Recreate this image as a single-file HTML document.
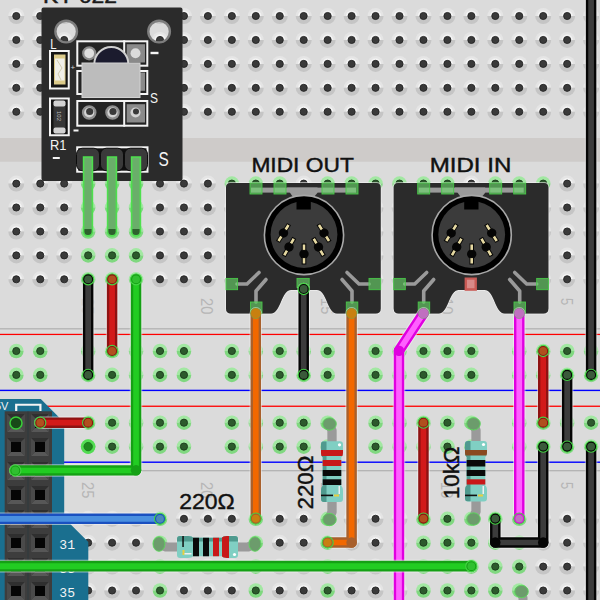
<!DOCTYPE html>
<html><head><meta charset="utf-8"><style>
html,body{margin:0;padding:0;width:600px;height:600px;overflow:hidden;background:#dbdbdb;}
svg{display:block;}
text{font-family:"Liberation Sans",sans-serif;}
</style></head><body>
<svg width="600" height="600" viewBox="0 0 600 600">
<rect x="0" y="0" width="600" height="600" fill="#dbdbdb"/>
<rect x="0" y="138" width="600" height="23.7" fill="#cecbc9"/>
<rect x="0" y="328.15" width="600" height="1.3" fill="#b2b2b2"/>
<rect x="0" y="333.8" width="600" height="1.25" fill="#ff0000"/>
<rect x="0" y="389.7" width="600" height="1.4" fill="#0000ff"/>
<rect x="0" y="405.6" width="600" height="1.3" fill="#ff0000"/>
<rect x="0" y="461.5" width="600" height="1.4" fill="#0000ff"/>
<rect x="0" y="470.05" width="600" height="1.3" fill="#b2b2b2"/>
<text x="0" y="0" transform="translate(81.5,298) rotate(90)" font-size="16.3" fill="#b6b6b6" textLength="16.3" lengthAdjust="spacingAndGlyphs">25</text>
<text x="0" y="0" transform="translate(201,298) rotate(90)" font-size="16.3" fill="#b6b6b6" textLength="16.3" lengthAdjust="spacingAndGlyphs">20</text>
<text x="0" y="0" transform="translate(321,298) rotate(90)" font-size="16.3" fill="#b6b6b6" textLength="16.3" lengthAdjust="spacingAndGlyphs">15</text>
<text x="0" y="0" transform="translate(441,298) rotate(90)" font-size="16.3" fill="#b6b6b6" textLength="16.3" lengthAdjust="spacingAndGlyphs">10</text>
<text x="0" y="0" transform="translate(560.5,298) rotate(90)" font-size="16.3" fill="#b6b6b6" textLength="7.2" lengthAdjust="spacingAndGlyphs">5</text>
<text x="0" y="0" transform="translate(81.5,482) rotate(90)" font-size="16.3" fill="#b6b6b6" textLength="16.3" lengthAdjust="spacingAndGlyphs">25</text>
<text x="0" y="0" transform="translate(201,482) rotate(90)" font-size="16.3" fill="#b6b6b6" textLength="16.3" lengthAdjust="spacingAndGlyphs">20</text>
<text x="0" y="0" transform="translate(321,482) rotate(90)" font-size="16.3" fill="#b6b6b6" textLength="16.3" lengthAdjust="spacingAndGlyphs">15</text>
<text x="0" y="0" transform="translate(441,482) rotate(90)" font-size="16.3" fill="#b6b6b6" textLength="16.3" lengthAdjust="spacingAndGlyphs">10</text>
<text x="0" y="0" transform="translate(560.5,482) rotate(90)" font-size="16.3" fill="#b6b6b6" textLength="7.2" lengthAdjust="spacingAndGlyphs">5</text>
<g transform="translate(16.3,16.0)"><path d="M-8,0 A8,8 0 0 1 8,0Z" fill="#e5e5e5"/><path d="M-5.6,0 A5.6,5.6 0 0 1 5.6,0Z" fill="#f4f4f4"/><path d="M-8,0 A8,8 0 0 0 8,0Z" fill="#c5c5c5"/><circle r="3.55" fill="#3a3a3a" stroke="#222" stroke-width="0.9"/></g>
<g transform="translate(40.25,16.0)"><path d="M-8,0 A8,8 0 0 1 8,0Z" fill="#e5e5e5"/><path d="M-5.6,0 A5.6,5.6 0 0 1 5.6,0Z" fill="#f4f4f4"/><path d="M-8,0 A8,8 0 0 0 8,0Z" fill="#c5c5c5"/><circle r="3.55" fill="#3a3a3a" stroke="#222" stroke-width="0.9"/></g>
<g transform="translate(64.2,16.0)"><path d="M-8,0 A8,8 0 0 1 8,0Z" fill="#e5e5e5"/><path d="M-5.6,0 A5.6,5.6 0 0 1 5.6,0Z" fill="#f4f4f4"/><path d="M-8,0 A8,8 0 0 0 8,0Z" fill="#c5c5c5"/><circle r="3.55" fill="#3a3a3a" stroke="#222" stroke-width="0.9"/></g>
<g transform="translate(88.15,16.0)"><path d="M-8,0 A8,8 0 0 1 8,0Z" fill="#e5e5e5"/><path d="M-5.6,0 A5.6,5.6 0 0 1 5.6,0Z" fill="#f4f4f4"/><path d="M-8,0 A8,8 0 0 0 8,0Z" fill="#c5c5c5"/><circle r="3.55" fill="#3a3a3a" stroke="#222" stroke-width="0.9"/></g>
<g transform="translate(112.1,16.0)"><path d="M-8,0 A8,8 0 0 1 8,0Z" fill="#e5e5e5"/><path d="M-5.6,0 A5.6,5.6 0 0 1 5.6,0Z" fill="#f4f4f4"/><path d="M-8,0 A8,8 0 0 0 8,0Z" fill="#c5c5c5"/><circle r="3.55" fill="#3a3a3a" stroke="#222" stroke-width="0.9"/></g>
<g transform="translate(136.05,16.0)"><path d="M-8,0 A8,8 0 0 1 8,0Z" fill="#e5e5e5"/><path d="M-5.6,0 A5.6,5.6 0 0 1 5.6,0Z" fill="#f4f4f4"/><path d="M-8,0 A8,8 0 0 0 8,0Z" fill="#c5c5c5"/><circle r="3.55" fill="#3a3a3a" stroke="#222" stroke-width="0.9"/></g>
<g transform="translate(160.0,16.0)"><path d="M-8,0 A8,8 0 0 1 8,0Z" fill="#e5e5e5"/><path d="M-5.6,0 A5.6,5.6 0 0 1 5.6,0Z" fill="#f4f4f4"/><path d="M-8,0 A8,8 0 0 0 8,0Z" fill="#c5c5c5"/><circle r="3.55" fill="#3a3a3a" stroke="#222" stroke-width="0.9"/></g>
<g transform="translate(183.95,16.0)"><path d="M-8,0 A8,8 0 0 1 8,0Z" fill="#e5e5e5"/><path d="M-5.6,0 A5.6,5.6 0 0 1 5.6,0Z" fill="#f4f4f4"/><path d="M-8,0 A8,8 0 0 0 8,0Z" fill="#c5c5c5"/><circle r="3.55" fill="#3a3a3a" stroke="#222" stroke-width="0.9"/></g>
<g transform="translate(207.9,16.0)"><path d="M-8,0 A8,8 0 0 1 8,0Z" fill="#e5e5e5"/><path d="M-5.6,0 A5.6,5.6 0 0 1 5.6,0Z" fill="#f4f4f4"/><path d="M-8,0 A8,8 0 0 0 8,0Z" fill="#c5c5c5"/><circle r="3.55" fill="#3a3a3a" stroke="#222" stroke-width="0.9"/></g>
<g transform="translate(231.85,16.0)"><path d="M-8,0 A8,8 0 0 1 8,0Z" fill="#e5e5e5"/><path d="M-5.6,0 A5.6,5.6 0 0 1 5.6,0Z" fill="#f4f4f4"/><path d="M-8,0 A8,8 0 0 0 8,0Z" fill="#c5c5c5"/><circle r="3.55" fill="#3a3a3a" stroke="#222" stroke-width="0.9"/></g>
<g transform="translate(255.8,16.0)"><path d="M-8,0 A8,8 0 0 1 8,0Z" fill="#e5e5e5"/><path d="M-5.6,0 A5.6,5.6 0 0 1 5.6,0Z" fill="#f4f4f4"/><path d="M-8,0 A8,8 0 0 0 8,0Z" fill="#c5c5c5"/><circle r="3.55" fill="#3a3a3a" stroke="#222" stroke-width="0.9"/></g>
<g transform="translate(279.75,16.0)"><path d="M-8,0 A8,8 0 0 1 8,0Z" fill="#e5e5e5"/><path d="M-5.6,0 A5.6,5.6 0 0 1 5.6,0Z" fill="#f4f4f4"/><path d="M-8,0 A8,8 0 0 0 8,0Z" fill="#c5c5c5"/><circle r="3.55" fill="#3a3a3a" stroke="#222" stroke-width="0.9"/></g>
<g transform="translate(303.7,16.0)"><path d="M-8,0 A8,8 0 0 1 8,0Z" fill="#e5e5e5"/><path d="M-5.6,0 A5.6,5.6 0 0 1 5.6,0Z" fill="#f4f4f4"/><path d="M-8,0 A8,8 0 0 0 8,0Z" fill="#c5c5c5"/><circle r="3.55" fill="#3a3a3a" stroke="#222" stroke-width="0.9"/></g>
<g transform="translate(327.65,16.0)"><path d="M-8,0 A8,8 0 0 1 8,0Z" fill="#e5e5e5"/><path d="M-5.6,0 A5.6,5.6 0 0 1 5.6,0Z" fill="#f4f4f4"/><path d="M-8,0 A8,8 0 0 0 8,0Z" fill="#c5c5c5"/><circle r="3.55" fill="#3a3a3a" stroke="#222" stroke-width="0.9"/></g>
<g transform="translate(351.6,16.0)"><path d="M-8,0 A8,8 0 0 1 8,0Z" fill="#e5e5e5"/><path d="M-5.6,0 A5.6,5.6 0 0 1 5.6,0Z" fill="#f4f4f4"/><path d="M-8,0 A8,8 0 0 0 8,0Z" fill="#c5c5c5"/><circle r="3.55" fill="#3a3a3a" stroke="#222" stroke-width="0.9"/></g>
<g transform="translate(375.55,16.0)"><path d="M-8,0 A8,8 0 0 1 8,0Z" fill="#e5e5e5"/><path d="M-5.6,0 A5.6,5.6 0 0 1 5.6,0Z" fill="#f4f4f4"/><path d="M-8,0 A8,8 0 0 0 8,0Z" fill="#c5c5c5"/><circle r="3.55" fill="#3a3a3a" stroke="#222" stroke-width="0.9"/></g>
<g transform="translate(399.5,16.0)"><path d="M-8,0 A8,8 0 0 1 8,0Z" fill="#e5e5e5"/><path d="M-5.6,0 A5.6,5.6 0 0 1 5.6,0Z" fill="#f4f4f4"/><path d="M-8,0 A8,8 0 0 0 8,0Z" fill="#c5c5c5"/><circle r="3.55" fill="#3a3a3a" stroke="#222" stroke-width="0.9"/></g>
<g transform="translate(423.45,16.0)"><path d="M-8,0 A8,8 0 0 1 8,0Z" fill="#e5e5e5"/><path d="M-5.6,0 A5.6,5.6 0 0 1 5.6,0Z" fill="#f4f4f4"/><path d="M-8,0 A8,8 0 0 0 8,0Z" fill="#c5c5c5"/><circle r="3.55" fill="#3a3a3a" stroke="#222" stroke-width="0.9"/></g>
<g transform="translate(447.4,16.0)"><path d="M-8,0 A8,8 0 0 1 8,0Z" fill="#e5e5e5"/><path d="M-5.6,0 A5.6,5.6 0 0 1 5.6,0Z" fill="#f4f4f4"/><path d="M-8,0 A8,8 0 0 0 8,0Z" fill="#c5c5c5"/><circle r="3.55" fill="#3a3a3a" stroke="#222" stroke-width="0.9"/></g>
<g transform="translate(471.35,16.0)"><path d="M-8,0 A8,8 0 0 1 8,0Z" fill="#e5e5e5"/><path d="M-5.6,0 A5.6,5.6 0 0 1 5.6,0Z" fill="#f4f4f4"/><path d="M-8,0 A8,8 0 0 0 8,0Z" fill="#c5c5c5"/><circle r="3.55" fill="#3a3a3a" stroke="#222" stroke-width="0.9"/></g>
<g transform="translate(495.3,16.0)"><path d="M-8,0 A8,8 0 0 1 8,0Z" fill="#e5e5e5"/><path d="M-5.6,0 A5.6,5.6 0 0 1 5.6,0Z" fill="#f4f4f4"/><path d="M-8,0 A8,8 0 0 0 8,0Z" fill="#c5c5c5"/><circle r="3.55" fill="#3a3a3a" stroke="#222" stroke-width="0.9"/></g>
<g transform="translate(519.25,16.0)"><path d="M-8,0 A8,8 0 0 1 8,0Z" fill="#e5e5e5"/><path d="M-5.6,0 A5.6,5.6 0 0 1 5.6,0Z" fill="#f4f4f4"/><path d="M-8,0 A8,8 0 0 0 8,0Z" fill="#c5c5c5"/><circle r="3.55" fill="#3a3a3a" stroke="#222" stroke-width="0.9"/></g>
<g transform="translate(543.2,16.0)"><path d="M-8,0 A8,8 0 0 1 8,0Z" fill="#e5e5e5"/><path d="M-5.6,0 A5.6,5.6 0 0 1 5.6,0Z" fill="#f4f4f4"/><path d="M-8,0 A8,8 0 0 0 8,0Z" fill="#c5c5c5"/><circle r="3.55" fill="#3a3a3a" stroke="#222" stroke-width="0.9"/></g>
<g transform="translate(567.15,16.0)"><path d="M-8,0 A8,8 0 0 1 8,0Z" fill="#e5e5e5"/><path d="M-5.6,0 A5.6,5.6 0 0 1 5.6,0Z" fill="#f4f4f4"/><path d="M-8,0 A8,8 0 0 0 8,0Z" fill="#c5c5c5"/><circle r="3.55" fill="#3a3a3a" stroke="#222" stroke-width="0.9"/></g>
<g transform="translate(591.1,16.0)"><path d="M-8,0 A8,8 0 0 1 8,0Z" fill="#e5e5e5"/><path d="M-5.6,0 A5.6,5.6 0 0 1 5.6,0Z" fill="#f4f4f4"/><path d="M-8,0 A8,8 0 0 0 8,0Z" fill="#c5c5c5"/><circle r="3.55" fill="#3a3a3a" stroke="#222" stroke-width="0.9"/></g>
<g transform="translate(16.3,39.95)"><path d="M-8,0 A8,8 0 0 1 8,0Z" fill="#e5e5e5"/><path d="M-5.6,0 A5.6,5.6 0 0 1 5.6,0Z" fill="#f4f4f4"/><path d="M-8,0 A8,8 0 0 0 8,0Z" fill="#c5c5c5"/><circle r="3.55" fill="#3a3a3a" stroke="#222" stroke-width="0.9"/></g>
<g transform="translate(40.25,39.95)"><path d="M-8,0 A8,8 0 0 1 8,0Z" fill="#e5e5e5"/><path d="M-5.6,0 A5.6,5.6 0 0 1 5.6,0Z" fill="#f4f4f4"/><path d="M-8,0 A8,8 0 0 0 8,0Z" fill="#c5c5c5"/><circle r="3.55" fill="#3a3a3a" stroke="#222" stroke-width="0.9"/></g>
<g transform="translate(64.2,39.95)"><path d="M-8,0 A8,8 0 0 1 8,0Z" fill="#e5e5e5"/><path d="M-5.6,0 A5.6,5.6 0 0 1 5.6,0Z" fill="#f4f4f4"/><path d="M-8,0 A8,8 0 0 0 8,0Z" fill="#c5c5c5"/><circle r="3.55" fill="#3a3a3a" stroke="#222" stroke-width="0.9"/></g>
<g transform="translate(88.15,39.95)"><path d="M-8,0 A8,8 0 0 1 8,0Z" fill="#e5e5e5"/><path d="M-5.6,0 A5.6,5.6 0 0 1 5.6,0Z" fill="#f4f4f4"/><path d="M-8,0 A8,8 0 0 0 8,0Z" fill="#c5c5c5"/><circle r="3.55" fill="#3a3a3a" stroke="#222" stroke-width="0.9"/></g>
<g transform="translate(112.1,39.95)"><path d="M-8,0 A8,8 0 0 1 8,0Z" fill="#e5e5e5"/><path d="M-5.6,0 A5.6,5.6 0 0 1 5.6,0Z" fill="#f4f4f4"/><path d="M-8,0 A8,8 0 0 0 8,0Z" fill="#c5c5c5"/><circle r="3.55" fill="#3a3a3a" stroke="#222" stroke-width="0.9"/></g>
<g transform="translate(136.05,39.95)"><path d="M-8,0 A8,8 0 0 1 8,0Z" fill="#e5e5e5"/><path d="M-5.6,0 A5.6,5.6 0 0 1 5.6,0Z" fill="#f4f4f4"/><path d="M-8,0 A8,8 0 0 0 8,0Z" fill="#c5c5c5"/><circle r="3.55" fill="#3a3a3a" stroke="#222" stroke-width="0.9"/></g>
<g transform="translate(160.0,39.95)"><path d="M-8,0 A8,8 0 0 1 8,0Z" fill="#e5e5e5"/><path d="M-5.6,0 A5.6,5.6 0 0 1 5.6,0Z" fill="#f4f4f4"/><path d="M-8,0 A8,8 0 0 0 8,0Z" fill="#c5c5c5"/><circle r="3.55" fill="#3a3a3a" stroke="#222" stroke-width="0.9"/></g>
<g transform="translate(183.95,39.95)"><path d="M-8,0 A8,8 0 0 1 8,0Z" fill="#e5e5e5"/><path d="M-5.6,0 A5.6,5.6 0 0 1 5.6,0Z" fill="#f4f4f4"/><path d="M-8,0 A8,8 0 0 0 8,0Z" fill="#c5c5c5"/><circle r="3.55" fill="#3a3a3a" stroke="#222" stroke-width="0.9"/></g>
<g transform="translate(207.9,39.95)"><path d="M-8,0 A8,8 0 0 1 8,0Z" fill="#e5e5e5"/><path d="M-5.6,0 A5.6,5.6 0 0 1 5.6,0Z" fill="#f4f4f4"/><path d="M-8,0 A8,8 0 0 0 8,0Z" fill="#c5c5c5"/><circle r="3.55" fill="#3a3a3a" stroke="#222" stroke-width="0.9"/></g>
<g transform="translate(231.85,39.95)"><path d="M-8,0 A8,8 0 0 1 8,0Z" fill="#e5e5e5"/><path d="M-5.6,0 A5.6,5.6 0 0 1 5.6,0Z" fill="#f4f4f4"/><path d="M-8,0 A8,8 0 0 0 8,0Z" fill="#c5c5c5"/><circle r="3.55" fill="#3a3a3a" stroke="#222" stroke-width="0.9"/></g>
<g transform="translate(255.8,39.95)"><path d="M-8,0 A8,8 0 0 1 8,0Z" fill="#e5e5e5"/><path d="M-5.6,0 A5.6,5.6 0 0 1 5.6,0Z" fill="#f4f4f4"/><path d="M-8,0 A8,8 0 0 0 8,0Z" fill="#c5c5c5"/><circle r="3.55" fill="#3a3a3a" stroke="#222" stroke-width="0.9"/></g>
<g transform="translate(279.75,39.95)"><path d="M-8,0 A8,8 0 0 1 8,0Z" fill="#e5e5e5"/><path d="M-5.6,0 A5.6,5.6 0 0 1 5.6,0Z" fill="#f4f4f4"/><path d="M-8,0 A8,8 0 0 0 8,0Z" fill="#c5c5c5"/><circle r="3.55" fill="#3a3a3a" stroke="#222" stroke-width="0.9"/></g>
<g transform="translate(303.7,39.95)"><path d="M-8,0 A8,8 0 0 1 8,0Z" fill="#e5e5e5"/><path d="M-5.6,0 A5.6,5.6 0 0 1 5.6,0Z" fill="#f4f4f4"/><path d="M-8,0 A8,8 0 0 0 8,0Z" fill="#c5c5c5"/><circle r="3.55" fill="#3a3a3a" stroke="#222" stroke-width="0.9"/></g>
<g transform="translate(327.65,39.95)"><path d="M-8,0 A8,8 0 0 1 8,0Z" fill="#e5e5e5"/><path d="M-5.6,0 A5.6,5.6 0 0 1 5.6,0Z" fill="#f4f4f4"/><path d="M-8,0 A8,8 0 0 0 8,0Z" fill="#c5c5c5"/><circle r="3.55" fill="#3a3a3a" stroke="#222" stroke-width="0.9"/></g>
<g transform="translate(351.6,39.95)"><path d="M-8,0 A8,8 0 0 1 8,0Z" fill="#e5e5e5"/><path d="M-5.6,0 A5.6,5.6 0 0 1 5.6,0Z" fill="#f4f4f4"/><path d="M-8,0 A8,8 0 0 0 8,0Z" fill="#c5c5c5"/><circle r="3.55" fill="#3a3a3a" stroke="#222" stroke-width="0.9"/></g>
<g transform="translate(375.55,39.95)"><path d="M-8,0 A8,8 0 0 1 8,0Z" fill="#e5e5e5"/><path d="M-5.6,0 A5.6,5.6 0 0 1 5.6,0Z" fill="#f4f4f4"/><path d="M-8,0 A8,8 0 0 0 8,0Z" fill="#c5c5c5"/><circle r="3.55" fill="#3a3a3a" stroke="#222" stroke-width="0.9"/></g>
<g transform="translate(399.5,39.95)"><path d="M-8,0 A8,8 0 0 1 8,0Z" fill="#e5e5e5"/><path d="M-5.6,0 A5.6,5.6 0 0 1 5.6,0Z" fill="#f4f4f4"/><path d="M-8,0 A8,8 0 0 0 8,0Z" fill="#c5c5c5"/><circle r="3.55" fill="#3a3a3a" stroke="#222" stroke-width="0.9"/></g>
<g transform="translate(423.45,39.95)"><path d="M-8,0 A8,8 0 0 1 8,0Z" fill="#e5e5e5"/><path d="M-5.6,0 A5.6,5.6 0 0 1 5.6,0Z" fill="#f4f4f4"/><path d="M-8,0 A8,8 0 0 0 8,0Z" fill="#c5c5c5"/><circle r="3.55" fill="#3a3a3a" stroke="#222" stroke-width="0.9"/></g>
<g transform="translate(447.4,39.95)"><path d="M-8,0 A8,8 0 0 1 8,0Z" fill="#e5e5e5"/><path d="M-5.6,0 A5.6,5.6 0 0 1 5.6,0Z" fill="#f4f4f4"/><path d="M-8,0 A8,8 0 0 0 8,0Z" fill="#c5c5c5"/><circle r="3.55" fill="#3a3a3a" stroke="#222" stroke-width="0.9"/></g>
<g transform="translate(471.35,39.95)"><path d="M-8,0 A8,8 0 0 1 8,0Z" fill="#e5e5e5"/><path d="M-5.6,0 A5.6,5.6 0 0 1 5.6,0Z" fill="#f4f4f4"/><path d="M-8,0 A8,8 0 0 0 8,0Z" fill="#c5c5c5"/><circle r="3.55" fill="#3a3a3a" stroke="#222" stroke-width="0.9"/></g>
<g transform="translate(495.3,39.95)"><path d="M-8,0 A8,8 0 0 1 8,0Z" fill="#e5e5e5"/><path d="M-5.6,0 A5.6,5.6 0 0 1 5.6,0Z" fill="#f4f4f4"/><path d="M-8,0 A8,8 0 0 0 8,0Z" fill="#c5c5c5"/><circle r="3.55" fill="#3a3a3a" stroke="#222" stroke-width="0.9"/></g>
<g transform="translate(519.25,39.95)"><path d="M-8,0 A8,8 0 0 1 8,0Z" fill="#e5e5e5"/><path d="M-5.6,0 A5.6,5.6 0 0 1 5.6,0Z" fill="#f4f4f4"/><path d="M-8,0 A8,8 0 0 0 8,0Z" fill="#c5c5c5"/><circle r="3.55" fill="#3a3a3a" stroke="#222" stroke-width="0.9"/></g>
<g transform="translate(543.2,39.95)"><path d="M-8,0 A8,8 0 0 1 8,0Z" fill="#e5e5e5"/><path d="M-5.6,0 A5.6,5.6 0 0 1 5.6,0Z" fill="#f4f4f4"/><path d="M-8,0 A8,8 0 0 0 8,0Z" fill="#c5c5c5"/><circle r="3.55" fill="#3a3a3a" stroke="#222" stroke-width="0.9"/></g>
<g transform="translate(567.15,39.95)"><path d="M-8,0 A8,8 0 0 1 8,0Z" fill="#e5e5e5"/><path d="M-5.6,0 A5.6,5.6 0 0 1 5.6,0Z" fill="#f4f4f4"/><path d="M-8,0 A8,8 0 0 0 8,0Z" fill="#c5c5c5"/><circle r="3.55" fill="#3a3a3a" stroke="#222" stroke-width="0.9"/></g>
<g transform="translate(591.1,39.95)"><path d="M-8,0 A8,8 0 0 1 8,0Z" fill="#e5e5e5"/><path d="M-5.6,0 A5.6,5.6 0 0 1 5.6,0Z" fill="#f4f4f4"/><path d="M-8,0 A8,8 0 0 0 8,0Z" fill="#c5c5c5"/><circle r="3.55" fill="#3a3a3a" stroke="#222" stroke-width="0.9"/></g>
<g transform="translate(16.3,63.9)"><path d="M-8,0 A8,8 0 0 1 8,0Z" fill="#e5e5e5"/><path d="M-5.6,0 A5.6,5.6 0 0 1 5.6,0Z" fill="#f4f4f4"/><path d="M-8,0 A8,8 0 0 0 8,0Z" fill="#c5c5c5"/><circle r="3.55" fill="#3a3a3a" stroke="#222" stroke-width="0.9"/></g>
<g transform="translate(40.25,63.9)"><path d="M-8,0 A8,8 0 0 1 8,0Z" fill="#e5e5e5"/><path d="M-5.6,0 A5.6,5.6 0 0 1 5.6,0Z" fill="#f4f4f4"/><path d="M-8,0 A8,8 0 0 0 8,0Z" fill="#c5c5c5"/><circle r="3.55" fill="#3a3a3a" stroke="#222" stroke-width="0.9"/></g>
<g transform="translate(64.2,63.9)"><path d="M-8,0 A8,8 0 0 1 8,0Z" fill="#e5e5e5"/><path d="M-5.6,0 A5.6,5.6 0 0 1 5.6,0Z" fill="#f4f4f4"/><path d="M-8,0 A8,8 0 0 0 8,0Z" fill="#c5c5c5"/><circle r="3.55" fill="#3a3a3a" stroke="#222" stroke-width="0.9"/></g>
<g transform="translate(88.15,63.9)"><path d="M-8,0 A8,8 0 0 1 8,0Z" fill="#e5e5e5"/><path d="M-5.6,0 A5.6,5.6 0 0 1 5.6,0Z" fill="#f4f4f4"/><path d="M-8,0 A8,8 0 0 0 8,0Z" fill="#c5c5c5"/><circle r="3.55" fill="#3a3a3a" stroke="#222" stroke-width="0.9"/></g>
<g transform="translate(112.1,63.9)"><path d="M-8,0 A8,8 0 0 1 8,0Z" fill="#e5e5e5"/><path d="M-5.6,0 A5.6,5.6 0 0 1 5.6,0Z" fill="#f4f4f4"/><path d="M-8,0 A8,8 0 0 0 8,0Z" fill="#c5c5c5"/><circle r="3.55" fill="#3a3a3a" stroke="#222" stroke-width="0.9"/></g>
<g transform="translate(136.05,63.9)"><path d="M-8,0 A8,8 0 0 1 8,0Z" fill="#e5e5e5"/><path d="M-5.6,0 A5.6,5.6 0 0 1 5.6,0Z" fill="#f4f4f4"/><path d="M-8,0 A8,8 0 0 0 8,0Z" fill="#c5c5c5"/><circle r="3.55" fill="#3a3a3a" stroke="#222" stroke-width="0.9"/></g>
<g transform="translate(160.0,63.9)"><path d="M-8,0 A8,8 0 0 1 8,0Z" fill="#e5e5e5"/><path d="M-5.6,0 A5.6,5.6 0 0 1 5.6,0Z" fill="#f4f4f4"/><path d="M-8,0 A8,8 0 0 0 8,0Z" fill="#c5c5c5"/><circle r="3.55" fill="#3a3a3a" stroke="#222" stroke-width="0.9"/></g>
<g transform="translate(183.95,63.9)"><path d="M-8,0 A8,8 0 0 1 8,0Z" fill="#e5e5e5"/><path d="M-5.6,0 A5.6,5.6 0 0 1 5.6,0Z" fill="#f4f4f4"/><path d="M-8,0 A8,8 0 0 0 8,0Z" fill="#c5c5c5"/><circle r="3.55" fill="#3a3a3a" stroke="#222" stroke-width="0.9"/></g>
<g transform="translate(207.9,63.9)"><path d="M-8,0 A8,8 0 0 1 8,0Z" fill="#e5e5e5"/><path d="M-5.6,0 A5.6,5.6 0 0 1 5.6,0Z" fill="#f4f4f4"/><path d="M-8,0 A8,8 0 0 0 8,0Z" fill="#c5c5c5"/><circle r="3.55" fill="#3a3a3a" stroke="#222" stroke-width="0.9"/></g>
<g transform="translate(231.85,63.9)"><path d="M-8,0 A8,8 0 0 1 8,0Z" fill="#e5e5e5"/><path d="M-5.6,0 A5.6,5.6 0 0 1 5.6,0Z" fill="#f4f4f4"/><path d="M-8,0 A8,8 0 0 0 8,0Z" fill="#c5c5c5"/><circle r="3.55" fill="#3a3a3a" stroke="#222" stroke-width="0.9"/></g>
<g transform="translate(255.8,63.9)"><path d="M-8,0 A8,8 0 0 1 8,0Z" fill="#e5e5e5"/><path d="M-5.6,0 A5.6,5.6 0 0 1 5.6,0Z" fill="#f4f4f4"/><path d="M-8,0 A8,8 0 0 0 8,0Z" fill="#c5c5c5"/><circle r="3.55" fill="#3a3a3a" stroke="#222" stroke-width="0.9"/></g>
<g transform="translate(279.75,63.9)"><path d="M-8,0 A8,8 0 0 1 8,0Z" fill="#e5e5e5"/><path d="M-5.6,0 A5.6,5.6 0 0 1 5.6,0Z" fill="#f4f4f4"/><path d="M-8,0 A8,8 0 0 0 8,0Z" fill="#c5c5c5"/><circle r="3.55" fill="#3a3a3a" stroke="#222" stroke-width="0.9"/></g>
<g transform="translate(303.7,63.9)"><path d="M-8,0 A8,8 0 0 1 8,0Z" fill="#e5e5e5"/><path d="M-5.6,0 A5.6,5.6 0 0 1 5.6,0Z" fill="#f4f4f4"/><path d="M-8,0 A8,8 0 0 0 8,0Z" fill="#c5c5c5"/><circle r="3.55" fill="#3a3a3a" stroke="#222" stroke-width="0.9"/></g>
<g transform="translate(327.65,63.9)"><path d="M-8,0 A8,8 0 0 1 8,0Z" fill="#e5e5e5"/><path d="M-5.6,0 A5.6,5.6 0 0 1 5.6,0Z" fill="#f4f4f4"/><path d="M-8,0 A8,8 0 0 0 8,0Z" fill="#c5c5c5"/><circle r="3.55" fill="#3a3a3a" stroke="#222" stroke-width="0.9"/></g>
<g transform="translate(351.6,63.9)"><path d="M-8,0 A8,8 0 0 1 8,0Z" fill="#e5e5e5"/><path d="M-5.6,0 A5.6,5.6 0 0 1 5.6,0Z" fill="#f4f4f4"/><path d="M-8,0 A8,8 0 0 0 8,0Z" fill="#c5c5c5"/><circle r="3.55" fill="#3a3a3a" stroke="#222" stroke-width="0.9"/></g>
<g transform="translate(375.55,63.9)"><path d="M-8,0 A8,8 0 0 1 8,0Z" fill="#e5e5e5"/><path d="M-5.6,0 A5.6,5.6 0 0 1 5.6,0Z" fill="#f4f4f4"/><path d="M-8,0 A8,8 0 0 0 8,0Z" fill="#c5c5c5"/><circle r="3.55" fill="#3a3a3a" stroke="#222" stroke-width="0.9"/></g>
<g transform="translate(399.5,63.9)"><path d="M-8,0 A8,8 0 0 1 8,0Z" fill="#e5e5e5"/><path d="M-5.6,0 A5.6,5.6 0 0 1 5.6,0Z" fill="#f4f4f4"/><path d="M-8,0 A8,8 0 0 0 8,0Z" fill="#c5c5c5"/><circle r="3.55" fill="#3a3a3a" stroke="#222" stroke-width="0.9"/></g>
<g transform="translate(423.45,63.9)"><path d="M-8,0 A8,8 0 0 1 8,0Z" fill="#e5e5e5"/><path d="M-5.6,0 A5.6,5.6 0 0 1 5.6,0Z" fill="#f4f4f4"/><path d="M-8,0 A8,8 0 0 0 8,0Z" fill="#c5c5c5"/><circle r="3.55" fill="#3a3a3a" stroke="#222" stroke-width="0.9"/></g>
<g transform="translate(447.4,63.9)"><path d="M-8,0 A8,8 0 0 1 8,0Z" fill="#e5e5e5"/><path d="M-5.6,0 A5.6,5.6 0 0 1 5.6,0Z" fill="#f4f4f4"/><path d="M-8,0 A8,8 0 0 0 8,0Z" fill="#c5c5c5"/><circle r="3.55" fill="#3a3a3a" stroke="#222" stroke-width="0.9"/></g>
<g transform="translate(471.35,63.9)"><path d="M-8,0 A8,8 0 0 1 8,0Z" fill="#e5e5e5"/><path d="M-5.6,0 A5.6,5.6 0 0 1 5.6,0Z" fill="#f4f4f4"/><path d="M-8,0 A8,8 0 0 0 8,0Z" fill="#c5c5c5"/><circle r="3.55" fill="#3a3a3a" stroke="#222" stroke-width="0.9"/></g>
<g transform="translate(495.3,63.9)"><path d="M-8,0 A8,8 0 0 1 8,0Z" fill="#e5e5e5"/><path d="M-5.6,0 A5.6,5.6 0 0 1 5.6,0Z" fill="#f4f4f4"/><path d="M-8,0 A8,8 0 0 0 8,0Z" fill="#c5c5c5"/><circle r="3.55" fill="#3a3a3a" stroke="#222" stroke-width="0.9"/></g>
<g transform="translate(519.25,63.9)"><path d="M-8,0 A8,8 0 0 1 8,0Z" fill="#e5e5e5"/><path d="M-5.6,0 A5.6,5.6 0 0 1 5.6,0Z" fill="#f4f4f4"/><path d="M-8,0 A8,8 0 0 0 8,0Z" fill="#c5c5c5"/><circle r="3.55" fill="#3a3a3a" stroke="#222" stroke-width="0.9"/></g>
<g transform="translate(543.2,63.9)"><path d="M-8,0 A8,8 0 0 1 8,0Z" fill="#e5e5e5"/><path d="M-5.6,0 A5.6,5.6 0 0 1 5.6,0Z" fill="#f4f4f4"/><path d="M-8,0 A8,8 0 0 0 8,0Z" fill="#c5c5c5"/><circle r="3.55" fill="#3a3a3a" stroke="#222" stroke-width="0.9"/></g>
<g transform="translate(567.15,63.9)"><path d="M-8,0 A8,8 0 0 1 8,0Z" fill="#e5e5e5"/><path d="M-5.6,0 A5.6,5.6 0 0 1 5.6,0Z" fill="#f4f4f4"/><path d="M-8,0 A8,8 0 0 0 8,0Z" fill="#c5c5c5"/><circle r="3.55" fill="#3a3a3a" stroke="#222" stroke-width="0.9"/></g>
<g transform="translate(591.1,63.9)"><path d="M-8,0 A8,8 0 0 1 8,0Z" fill="#e5e5e5"/><path d="M-5.6,0 A5.6,5.6 0 0 1 5.6,0Z" fill="#f4f4f4"/><path d="M-8,0 A8,8 0 0 0 8,0Z" fill="#c5c5c5"/><circle r="3.55" fill="#3a3a3a" stroke="#222" stroke-width="0.9"/></g>
<g transform="translate(16.3,87.85)"><path d="M-8,0 A8,8 0 0 1 8,0Z" fill="#e5e5e5"/><path d="M-5.6,0 A5.6,5.6 0 0 1 5.6,0Z" fill="#f4f4f4"/><path d="M-8,0 A8,8 0 0 0 8,0Z" fill="#c5c5c5"/><circle r="3.55" fill="#3a3a3a" stroke="#222" stroke-width="0.9"/></g>
<g transform="translate(40.25,87.85)"><path d="M-8,0 A8,8 0 0 1 8,0Z" fill="#e5e5e5"/><path d="M-5.6,0 A5.6,5.6 0 0 1 5.6,0Z" fill="#f4f4f4"/><path d="M-8,0 A8,8 0 0 0 8,0Z" fill="#c5c5c5"/><circle r="3.55" fill="#3a3a3a" stroke="#222" stroke-width="0.9"/></g>
<g transform="translate(64.2,87.85)"><path d="M-8,0 A8,8 0 0 1 8,0Z" fill="#e5e5e5"/><path d="M-5.6,0 A5.6,5.6 0 0 1 5.6,0Z" fill="#f4f4f4"/><path d="M-8,0 A8,8 0 0 0 8,0Z" fill="#c5c5c5"/><circle r="3.55" fill="#3a3a3a" stroke="#222" stroke-width="0.9"/></g>
<g transform="translate(88.15,87.85)"><path d="M-8,0 A8,8 0 0 1 8,0Z" fill="#e5e5e5"/><path d="M-5.6,0 A5.6,5.6 0 0 1 5.6,0Z" fill="#f4f4f4"/><path d="M-8,0 A8,8 0 0 0 8,0Z" fill="#c5c5c5"/><circle r="3.55" fill="#3a3a3a" stroke="#222" stroke-width="0.9"/></g>
<g transform="translate(112.1,87.85)"><path d="M-8,0 A8,8 0 0 1 8,0Z" fill="#e5e5e5"/><path d="M-5.6,0 A5.6,5.6 0 0 1 5.6,0Z" fill="#f4f4f4"/><path d="M-8,0 A8,8 0 0 0 8,0Z" fill="#c5c5c5"/><circle r="3.55" fill="#3a3a3a" stroke="#222" stroke-width="0.9"/></g>
<g transform="translate(136.05,87.85)"><path d="M-8,0 A8,8 0 0 1 8,0Z" fill="#e5e5e5"/><path d="M-5.6,0 A5.6,5.6 0 0 1 5.6,0Z" fill="#f4f4f4"/><path d="M-8,0 A8,8 0 0 0 8,0Z" fill="#c5c5c5"/><circle r="3.55" fill="#3a3a3a" stroke="#222" stroke-width="0.9"/></g>
<g transform="translate(160.0,87.85)"><path d="M-8,0 A8,8 0 0 1 8,0Z" fill="#e5e5e5"/><path d="M-5.6,0 A5.6,5.6 0 0 1 5.6,0Z" fill="#f4f4f4"/><path d="M-8,0 A8,8 0 0 0 8,0Z" fill="#c5c5c5"/><circle r="3.55" fill="#3a3a3a" stroke="#222" stroke-width="0.9"/></g>
<g transform="translate(183.95,87.85)"><path d="M-8,0 A8,8 0 0 1 8,0Z" fill="#e5e5e5"/><path d="M-5.6,0 A5.6,5.6 0 0 1 5.6,0Z" fill="#f4f4f4"/><path d="M-8,0 A8,8 0 0 0 8,0Z" fill="#c5c5c5"/><circle r="3.55" fill="#3a3a3a" stroke="#222" stroke-width="0.9"/></g>
<g transform="translate(207.9,87.85)"><path d="M-8,0 A8,8 0 0 1 8,0Z" fill="#e5e5e5"/><path d="M-5.6,0 A5.6,5.6 0 0 1 5.6,0Z" fill="#f4f4f4"/><path d="M-8,0 A8,8 0 0 0 8,0Z" fill="#c5c5c5"/><circle r="3.55" fill="#3a3a3a" stroke="#222" stroke-width="0.9"/></g>
<g transform="translate(231.85,87.85)"><path d="M-8,0 A8,8 0 0 1 8,0Z" fill="#e5e5e5"/><path d="M-5.6,0 A5.6,5.6 0 0 1 5.6,0Z" fill="#f4f4f4"/><path d="M-8,0 A8,8 0 0 0 8,0Z" fill="#c5c5c5"/><circle r="3.55" fill="#3a3a3a" stroke="#222" stroke-width="0.9"/></g>
<g transform="translate(255.8,87.85)"><path d="M-8,0 A8,8 0 0 1 8,0Z" fill="#e5e5e5"/><path d="M-5.6,0 A5.6,5.6 0 0 1 5.6,0Z" fill="#f4f4f4"/><path d="M-8,0 A8,8 0 0 0 8,0Z" fill="#c5c5c5"/><circle r="3.55" fill="#3a3a3a" stroke="#222" stroke-width="0.9"/></g>
<g transform="translate(279.75,87.85)"><path d="M-8,0 A8,8 0 0 1 8,0Z" fill="#e5e5e5"/><path d="M-5.6,0 A5.6,5.6 0 0 1 5.6,0Z" fill="#f4f4f4"/><path d="M-8,0 A8,8 0 0 0 8,0Z" fill="#c5c5c5"/><circle r="3.55" fill="#3a3a3a" stroke="#222" stroke-width="0.9"/></g>
<g transform="translate(303.7,87.85)"><path d="M-8,0 A8,8 0 0 1 8,0Z" fill="#e5e5e5"/><path d="M-5.6,0 A5.6,5.6 0 0 1 5.6,0Z" fill="#f4f4f4"/><path d="M-8,0 A8,8 0 0 0 8,0Z" fill="#c5c5c5"/><circle r="3.55" fill="#3a3a3a" stroke="#222" stroke-width="0.9"/></g>
<g transform="translate(327.65,87.85)"><path d="M-8,0 A8,8 0 0 1 8,0Z" fill="#e5e5e5"/><path d="M-5.6,0 A5.6,5.6 0 0 1 5.6,0Z" fill="#f4f4f4"/><path d="M-8,0 A8,8 0 0 0 8,0Z" fill="#c5c5c5"/><circle r="3.55" fill="#3a3a3a" stroke="#222" stroke-width="0.9"/></g>
<g transform="translate(351.6,87.85)"><path d="M-8,0 A8,8 0 0 1 8,0Z" fill="#e5e5e5"/><path d="M-5.6,0 A5.6,5.6 0 0 1 5.6,0Z" fill="#f4f4f4"/><path d="M-8,0 A8,8 0 0 0 8,0Z" fill="#c5c5c5"/><circle r="3.55" fill="#3a3a3a" stroke="#222" stroke-width="0.9"/></g>
<g transform="translate(375.55,87.85)"><path d="M-8,0 A8,8 0 0 1 8,0Z" fill="#e5e5e5"/><path d="M-5.6,0 A5.6,5.6 0 0 1 5.6,0Z" fill="#f4f4f4"/><path d="M-8,0 A8,8 0 0 0 8,0Z" fill="#c5c5c5"/><circle r="3.55" fill="#3a3a3a" stroke="#222" stroke-width="0.9"/></g>
<g transform="translate(399.5,87.85)"><path d="M-8,0 A8,8 0 0 1 8,0Z" fill="#e5e5e5"/><path d="M-5.6,0 A5.6,5.6 0 0 1 5.6,0Z" fill="#f4f4f4"/><path d="M-8,0 A8,8 0 0 0 8,0Z" fill="#c5c5c5"/><circle r="3.55" fill="#3a3a3a" stroke="#222" stroke-width="0.9"/></g>
<g transform="translate(423.45,87.85)"><path d="M-8,0 A8,8 0 0 1 8,0Z" fill="#e5e5e5"/><path d="M-5.6,0 A5.6,5.6 0 0 1 5.6,0Z" fill="#f4f4f4"/><path d="M-8,0 A8,8 0 0 0 8,0Z" fill="#c5c5c5"/><circle r="3.55" fill="#3a3a3a" stroke="#222" stroke-width="0.9"/></g>
<g transform="translate(447.4,87.85)"><path d="M-8,0 A8,8 0 0 1 8,0Z" fill="#e5e5e5"/><path d="M-5.6,0 A5.6,5.6 0 0 1 5.6,0Z" fill="#f4f4f4"/><path d="M-8,0 A8,8 0 0 0 8,0Z" fill="#c5c5c5"/><circle r="3.55" fill="#3a3a3a" stroke="#222" stroke-width="0.9"/></g>
<g transform="translate(471.35,87.85)"><path d="M-8,0 A8,8 0 0 1 8,0Z" fill="#e5e5e5"/><path d="M-5.6,0 A5.6,5.6 0 0 1 5.6,0Z" fill="#f4f4f4"/><path d="M-8,0 A8,8 0 0 0 8,0Z" fill="#c5c5c5"/><circle r="3.55" fill="#3a3a3a" stroke="#222" stroke-width="0.9"/></g>
<g transform="translate(495.3,87.85)"><path d="M-8,0 A8,8 0 0 1 8,0Z" fill="#e5e5e5"/><path d="M-5.6,0 A5.6,5.6 0 0 1 5.6,0Z" fill="#f4f4f4"/><path d="M-8,0 A8,8 0 0 0 8,0Z" fill="#c5c5c5"/><circle r="3.55" fill="#3a3a3a" stroke="#222" stroke-width="0.9"/></g>
<g transform="translate(519.25,87.85)"><path d="M-8,0 A8,8 0 0 1 8,0Z" fill="#e5e5e5"/><path d="M-5.6,0 A5.6,5.6 0 0 1 5.6,0Z" fill="#f4f4f4"/><path d="M-8,0 A8,8 0 0 0 8,0Z" fill="#c5c5c5"/><circle r="3.55" fill="#3a3a3a" stroke="#222" stroke-width="0.9"/></g>
<g transform="translate(543.2,87.85)"><path d="M-8,0 A8,8 0 0 1 8,0Z" fill="#e5e5e5"/><path d="M-5.6,0 A5.6,5.6 0 0 1 5.6,0Z" fill="#f4f4f4"/><path d="M-8,0 A8,8 0 0 0 8,0Z" fill="#c5c5c5"/><circle r="3.55" fill="#3a3a3a" stroke="#222" stroke-width="0.9"/></g>
<g transform="translate(567.15,87.85)"><path d="M-8,0 A8,8 0 0 1 8,0Z" fill="#e5e5e5"/><path d="M-5.6,0 A5.6,5.6 0 0 1 5.6,0Z" fill="#f4f4f4"/><path d="M-8,0 A8,8 0 0 0 8,0Z" fill="#c5c5c5"/><circle r="3.55" fill="#3a3a3a" stroke="#222" stroke-width="0.9"/></g>
<g transform="translate(591.1,87.85)"><path d="M-8,0 A8,8 0 0 1 8,0Z" fill="#e5e5e5"/><path d="M-5.6,0 A5.6,5.6 0 0 1 5.6,0Z" fill="#f4f4f4"/><path d="M-8,0 A8,8 0 0 0 8,0Z" fill="#c5c5c5"/><circle r="3.55" fill="#3a3a3a" stroke="#222" stroke-width="0.9"/></g>
<g transform="translate(16.3,111.8)"><path d="M-8,0 A8,8 0 0 1 8,0Z" fill="#e5e5e5"/><path d="M-5.6,0 A5.6,5.6 0 0 1 5.6,0Z" fill="#f4f4f4"/><path d="M-8,0 A8,8 0 0 0 8,0Z" fill="#c5c5c5"/><circle r="3.55" fill="#3a3a3a" stroke="#222" stroke-width="0.9"/></g>
<g transform="translate(40.25,111.8)"><path d="M-8,0 A8,8 0 0 1 8,0Z" fill="#e5e5e5"/><path d="M-5.6,0 A5.6,5.6 0 0 1 5.6,0Z" fill="#f4f4f4"/><path d="M-8,0 A8,8 0 0 0 8,0Z" fill="#c5c5c5"/><circle r="3.55" fill="#3a3a3a" stroke="#222" stroke-width="0.9"/></g>
<g transform="translate(64.2,111.8)"><path d="M-8,0 A8,8 0 0 1 8,0Z" fill="#e5e5e5"/><path d="M-5.6,0 A5.6,5.6 0 0 1 5.6,0Z" fill="#f4f4f4"/><path d="M-8,0 A8,8 0 0 0 8,0Z" fill="#c5c5c5"/><circle r="3.55" fill="#3a3a3a" stroke="#222" stroke-width="0.9"/></g>
<g transform="translate(88.15,111.8)"><path d="M-8,0 A8,8 0 0 1 8,0Z" fill="#e5e5e5"/><path d="M-5.6,0 A5.6,5.6 0 0 1 5.6,0Z" fill="#f4f4f4"/><path d="M-8,0 A8,8 0 0 0 8,0Z" fill="#c5c5c5"/><circle r="3.55" fill="#3a3a3a" stroke="#222" stroke-width="0.9"/></g>
<g transform="translate(112.1,111.8)"><path d="M-8,0 A8,8 0 0 1 8,0Z" fill="#e5e5e5"/><path d="M-5.6,0 A5.6,5.6 0 0 1 5.6,0Z" fill="#f4f4f4"/><path d="M-8,0 A8,8 0 0 0 8,0Z" fill="#c5c5c5"/><circle r="3.55" fill="#3a3a3a" stroke="#222" stroke-width="0.9"/></g>
<g transform="translate(136.05,111.8)"><path d="M-8,0 A8,8 0 0 1 8,0Z" fill="#e5e5e5"/><path d="M-5.6,0 A5.6,5.6 0 0 1 5.6,0Z" fill="#f4f4f4"/><path d="M-8,0 A8,8 0 0 0 8,0Z" fill="#c5c5c5"/><circle r="3.55" fill="#3a3a3a" stroke="#222" stroke-width="0.9"/></g>
<g transform="translate(160.0,111.8)"><path d="M-8,0 A8,8 0 0 1 8,0Z" fill="#e5e5e5"/><path d="M-5.6,0 A5.6,5.6 0 0 1 5.6,0Z" fill="#f4f4f4"/><path d="M-8,0 A8,8 0 0 0 8,0Z" fill="#c5c5c5"/><circle r="3.55" fill="#3a3a3a" stroke="#222" stroke-width="0.9"/></g>
<g transform="translate(183.95,111.8)"><path d="M-8,0 A8,8 0 0 1 8,0Z" fill="#e5e5e5"/><path d="M-5.6,0 A5.6,5.6 0 0 1 5.6,0Z" fill="#f4f4f4"/><path d="M-8,0 A8,8 0 0 0 8,0Z" fill="#c5c5c5"/><circle r="3.55" fill="#3a3a3a" stroke="#222" stroke-width="0.9"/></g>
<g transform="translate(207.9,111.8)"><path d="M-8,0 A8,8 0 0 1 8,0Z" fill="#e5e5e5"/><path d="M-5.6,0 A5.6,5.6 0 0 1 5.6,0Z" fill="#f4f4f4"/><path d="M-8,0 A8,8 0 0 0 8,0Z" fill="#c5c5c5"/><circle r="3.55" fill="#3a3a3a" stroke="#222" stroke-width="0.9"/></g>
<g transform="translate(231.85,111.8)"><path d="M-8,0 A8,8 0 0 1 8,0Z" fill="#e5e5e5"/><path d="M-5.6,0 A5.6,5.6 0 0 1 5.6,0Z" fill="#f4f4f4"/><path d="M-8,0 A8,8 0 0 0 8,0Z" fill="#c5c5c5"/><circle r="3.55" fill="#3a3a3a" stroke="#222" stroke-width="0.9"/></g>
<g transform="translate(255.8,111.8)"><path d="M-8,0 A8,8 0 0 1 8,0Z" fill="#e5e5e5"/><path d="M-5.6,0 A5.6,5.6 0 0 1 5.6,0Z" fill="#f4f4f4"/><path d="M-8,0 A8,8 0 0 0 8,0Z" fill="#c5c5c5"/><circle r="3.55" fill="#3a3a3a" stroke="#222" stroke-width="0.9"/></g>
<g transform="translate(279.75,111.8)"><path d="M-8,0 A8,8 0 0 1 8,0Z" fill="#e5e5e5"/><path d="M-5.6,0 A5.6,5.6 0 0 1 5.6,0Z" fill="#f4f4f4"/><path d="M-8,0 A8,8 0 0 0 8,0Z" fill="#c5c5c5"/><circle r="3.55" fill="#3a3a3a" stroke="#222" stroke-width="0.9"/></g>
<g transform="translate(303.7,111.8)"><path d="M-8,0 A8,8 0 0 1 8,0Z" fill="#e5e5e5"/><path d="M-5.6,0 A5.6,5.6 0 0 1 5.6,0Z" fill="#f4f4f4"/><path d="M-8,0 A8,8 0 0 0 8,0Z" fill="#c5c5c5"/><circle r="3.55" fill="#3a3a3a" stroke="#222" stroke-width="0.9"/></g>
<g transform="translate(327.65,111.8)"><path d="M-8,0 A8,8 0 0 1 8,0Z" fill="#e5e5e5"/><path d="M-5.6,0 A5.6,5.6 0 0 1 5.6,0Z" fill="#f4f4f4"/><path d="M-8,0 A8,8 0 0 0 8,0Z" fill="#c5c5c5"/><circle r="3.55" fill="#3a3a3a" stroke="#222" stroke-width="0.9"/></g>
<g transform="translate(351.6,111.8)"><path d="M-8,0 A8,8 0 0 1 8,0Z" fill="#e5e5e5"/><path d="M-5.6,0 A5.6,5.6 0 0 1 5.6,0Z" fill="#f4f4f4"/><path d="M-8,0 A8,8 0 0 0 8,0Z" fill="#c5c5c5"/><circle r="3.55" fill="#3a3a3a" stroke="#222" stroke-width="0.9"/></g>
<g transform="translate(375.55,111.8)"><path d="M-8,0 A8,8 0 0 1 8,0Z" fill="#e5e5e5"/><path d="M-5.6,0 A5.6,5.6 0 0 1 5.6,0Z" fill="#f4f4f4"/><path d="M-8,0 A8,8 0 0 0 8,0Z" fill="#c5c5c5"/><circle r="3.55" fill="#3a3a3a" stroke="#222" stroke-width="0.9"/></g>
<g transform="translate(399.5,111.8)"><path d="M-8,0 A8,8 0 0 1 8,0Z" fill="#e5e5e5"/><path d="M-5.6,0 A5.6,5.6 0 0 1 5.6,0Z" fill="#f4f4f4"/><path d="M-8,0 A8,8 0 0 0 8,0Z" fill="#c5c5c5"/><circle r="3.55" fill="#3a3a3a" stroke="#222" stroke-width="0.9"/></g>
<g transform="translate(423.45,111.8)"><path d="M-8,0 A8,8 0 0 1 8,0Z" fill="#e5e5e5"/><path d="M-5.6,0 A5.6,5.6 0 0 1 5.6,0Z" fill="#f4f4f4"/><path d="M-8,0 A8,8 0 0 0 8,0Z" fill="#c5c5c5"/><circle r="3.55" fill="#3a3a3a" stroke="#222" stroke-width="0.9"/></g>
<g transform="translate(447.4,111.8)"><path d="M-8,0 A8,8 0 0 1 8,0Z" fill="#e5e5e5"/><path d="M-5.6,0 A5.6,5.6 0 0 1 5.6,0Z" fill="#f4f4f4"/><path d="M-8,0 A8,8 0 0 0 8,0Z" fill="#c5c5c5"/><circle r="3.55" fill="#3a3a3a" stroke="#222" stroke-width="0.9"/></g>
<g transform="translate(471.35,111.8)"><path d="M-8,0 A8,8 0 0 1 8,0Z" fill="#e5e5e5"/><path d="M-5.6,0 A5.6,5.6 0 0 1 5.6,0Z" fill="#f4f4f4"/><path d="M-8,0 A8,8 0 0 0 8,0Z" fill="#c5c5c5"/><circle r="3.55" fill="#3a3a3a" stroke="#222" stroke-width="0.9"/></g>
<g transform="translate(495.3,111.8)"><path d="M-8,0 A8,8 0 0 1 8,0Z" fill="#e5e5e5"/><path d="M-5.6,0 A5.6,5.6 0 0 1 5.6,0Z" fill="#f4f4f4"/><path d="M-8,0 A8,8 0 0 0 8,0Z" fill="#c5c5c5"/><circle r="3.55" fill="#3a3a3a" stroke="#222" stroke-width="0.9"/></g>
<g transform="translate(519.25,111.8)"><path d="M-8,0 A8,8 0 0 1 8,0Z" fill="#e5e5e5"/><path d="M-5.6,0 A5.6,5.6 0 0 1 5.6,0Z" fill="#f4f4f4"/><path d="M-8,0 A8,8 0 0 0 8,0Z" fill="#c5c5c5"/><circle r="3.55" fill="#3a3a3a" stroke="#222" stroke-width="0.9"/></g>
<g transform="translate(543.2,111.8)"><path d="M-8,0 A8,8 0 0 1 8,0Z" fill="#e5e5e5"/><path d="M-5.6,0 A5.6,5.6 0 0 1 5.6,0Z" fill="#f4f4f4"/><path d="M-8,0 A8,8 0 0 0 8,0Z" fill="#c5c5c5"/><circle r="3.55" fill="#3a3a3a" stroke="#222" stroke-width="0.9"/></g>
<g transform="translate(567.15,111.8)"><path d="M-8,0 A8,8 0 0 1 8,0Z" fill="#e5e5e5"/><path d="M-5.6,0 A5.6,5.6 0 0 1 5.6,0Z" fill="#f4f4f4"/><path d="M-8,0 A8,8 0 0 0 8,0Z" fill="#c5c5c5"/><circle r="3.55" fill="#3a3a3a" stroke="#222" stroke-width="0.9"/></g>
<g transform="translate(591.1,111.8)"><path d="M-8,0 A8,8 0 0 1 8,0Z" fill="#e5e5e5"/><path d="M-5.6,0 A5.6,5.6 0 0 1 5.6,0Z" fill="#f4f4f4"/><path d="M-8,0 A8,8 0 0 0 8,0Z" fill="#c5c5c5"/><circle r="3.55" fill="#3a3a3a" stroke="#222" stroke-width="0.9"/></g>
<g transform="translate(16.3,183.6)"><path d="M-8,0 A8,8 0 0 1 8,0Z" fill="#e5e5e5"/><path d="M-5.6,0 A5.6,5.6 0 0 1 5.6,0Z" fill="#f4f4f4"/><path d="M-8,0 A8,8 0 0 0 8,0Z" fill="#c5c5c5"/><circle r="3.55" fill="#3a3a3a" stroke="#222" stroke-width="0.9"/></g>
<g transform="translate(40.25,183.6)"><path d="M-8,0 A8,8 0 0 1 8,0Z" fill="#e5e5e5"/><path d="M-5.6,0 A5.6,5.6 0 0 1 5.6,0Z" fill="#f4f4f4"/><path d="M-8,0 A8,8 0 0 0 8,0Z" fill="#c5c5c5"/><circle r="3.55" fill="#3a3a3a" stroke="#222" stroke-width="0.9"/></g>
<g transform="translate(64.2,183.6)"><path d="M-8,0 A8,8 0 0 1 8,0Z" fill="#e5e5e5"/><path d="M-5.6,0 A5.6,5.6 0 0 1 5.6,0Z" fill="#f4f4f4"/><path d="M-8,0 A8,8 0 0 0 8,0Z" fill="#c5c5c5"/><circle r="3.55" fill="#3a3a3a" stroke="#222" stroke-width="0.9"/></g>
<g transform="translate(88.15,183.6)"><path d="M-7.3,0 A7.3,7.3 0 0 1 7.3,0Z" fill="#a2e8a2"/><path d="M-7.3,0 A7.3,7.3 0 0 0 7.3,0Z" fill="#80d880"/><circle r="3.6" fill="#2c5a2c" stroke="#1c3a1c" stroke-width="0.9"/></g>
<g transform="translate(112.1,183.6)"><path d="M-7.3,0 A7.3,7.3 0 0 1 7.3,0Z" fill="#a2e8a2"/><path d="M-7.3,0 A7.3,7.3 0 0 0 7.3,0Z" fill="#80d880"/><circle r="3.6" fill="#2c5a2c" stroke="#1c3a1c" stroke-width="0.9"/></g>
<g transform="translate(136.05,183.6)"><path d="M-7.3,0 A7.3,7.3 0 0 1 7.3,0Z" fill="#a2e8a2"/><path d="M-7.3,0 A7.3,7.3 0 0 0 7.3,0Z" fill="#80d880"/><circle r="3.6" fill="#2c5a2c" stroke="#1c3a1c" stroke-width="0.9"/></g>
<g transform="translate(160.0,183.6)"><path d="M-8,0 A8,8 0 0 1 8,0Z" fill="#e5e5e5"/><path d="M-5.6,0 A5.6,5.6 0 0 1 5.6,0Z" fill="#f4f4f4"/><path d="M-8,0 A8,8 0 0 0 8,0Z" fill="#c5c5c5"/><circle r="3.55" fill="#3a3a3a" stroke="#222" stroke-width="0.9"/></g>
<g transform="translate(183.95,183.6)"><path d="M-8,0 A8,8 0 0 1 8,0Z" fill="#e5e5e5"/><path d="M-5.6,0 A5.6,5.6 0 0 1 5.6,0Z" fill="#f4f4f4"/><path d="M-8,0 A8,8 0 0 0 8,0Z" fill="#c5c5c5"/><circle r="3.55" fill="#3a3a3a" stroke="#222" stroke-width="0.9"/></g>
<g transform="translate(207.9,183.6)"><path d="M-8,0 A8,8 0 0 1 8,0Z" fill="#e5e5e5"/><path d="M-5.6,0 A5.6,5.6 0 0 1 5.6,0Z" fill="#f4f4f4"/><path d="M-8,0 A8,8 0 0 0 8,0Z" fill="#c5c5c5"/><circle r="3.55" fill="#3a3a3a" stroke="#222" stroke-width="0.9"/></g>
<g transform="translate(231.85,183.6)"><path d="M-7.3,0 A7.3,7.3 0 0 1 7.3,0Z" fill="#a2e8a2"/><path d="M-7.3,0 A7.3,7.3 0 0 0 7.3,0Z" fill="#80d880"/><circle r="3.6" fill="#2c5a2c" stroke="#1c3a1c" stroke-width="0.9"/></g>
<g transform="translate(255.8,183.6)"><path d="M-7.3,0 A7.3,7.3 0 0 1 7.3,0Z" fill="#a2e8a2"/><path d="M-7.3,0 A7.3,7.3 0 0 0 7.3,0Z" fill="#80d880"/><circle r="3.6" fill="#2c5a2c" stroke="#1c3a1c" stroke-width="0.9"/></g>
<g transform="translate(279.75,183.6)"><path d="M-7.3,0 A7.3,7.3 0 0 1 7.3,0Z" fill="#a2e8a2"/><path d="M-7.3,0 A7.3,7.3 0 0 0 7.3,0Z" fill="#80d880"/><circle r="3.6" fill="#2c5a2c" stroke="#1c3a1c" stroke-width="0.9"/></g>
<g transform="translate(303.7,183.6)"><path d="M-8,0 A8,8 0 0 1 8,0Z" fill="#e5e5e5"/><path d="M-5.6,0 A5.6,5.6 0 0 1 5.6,0Z" fill="#f4f4f4"/><path d="M-8,0 A8,8 0 0 0 8,0Z" fill="#c5c5c5"/><circle r="3.55" fill="#3a3a3a" stroke="#222" stroke-width="0.9"/></g>
<g transform="translate(327.65,183.6)"><path d="M-7.3,0 A7.3,7.3 0 0 1 7.3,0Z" fill="#a2e8a2"/><path d="M-7.3,0 A7.3,7.3 0 0 0 7.3,0Z" fill="#80d880"/><circle r="3.6" fill="#2c5a2c" stroke="#1c3a1c" stroke-width="0.9"/></g>
<g transform="translate(351.6,183.6)"><path d="M-7.3,0 A7.3,7.3 0 0 1 7.3,0Z" fill="#a2e8a2"/><path d="M-7.3,0 A7.3,7.3 0 0 0 7.3,0Z" fill="#80d880"/><circle r="3.6" fill="#2c5a2c" stroke="#1c3a1c" stroke-width="0.9"/></g>
<g transform="translate(375.55,183.6)"><path d="M-7.3,0 A7.3,7.3 0 0 1 7.3,0Z" fill="#a2e8a2"/><path d="M-7.3,0 A7.3,7.3 0 0 0 7.3,0Z" fill="#80d880"/><circle r="3.6" fill="#2c5a2c" stroke="#1c3a1c" stroke-width="0.9"/></g>
<g transform="translate(399.5,183.6)"><path d="M-7.3,0 A7.3,7.3 0 0 1 7.3,0Z" fill="#a2e8a2"/><path d="M-7.3,0 A7.3,7.3 0 0 0 7.3,0Z" fill="#80d880"/><circle r="3.6" fill="#2c5a2c" stroke="#1c3a1c" stroke-width="0.9"/></g>
<g transform="translate(423.45,183.6)"><path d="M-7.3,0 A7.3,7.3 0 0 1 7.3,0Z" fill="#a2e8a2"/><path d="M-7.3,0 A7.3,7.3 0 0 0 7.3,0Z" fill="#80d880"/><circle r="3.6" fill="#2c5a2c" stroke="#1c3a1c" stroke-width="0.9"/></g>
<g transform="translate(447.4,183.6)"><path d="M-7.3,0 A7.3,7.3 0 0 1 7.3,0Z" fill="#a2e8a2"/><path d="M-7.3,0 A7.3,7.3 0 0 0 7.3,0Z" fill="#80d880"/><circle r="3.6" fill="#2c5a2c" stroke="#1c3a1c" stroke-width="0.9"/></g>
<g transform="translate(471.35,183.6)"><path d="M-8,0 A8,8 0 0 1 8,0Z" fill="#e5e5e5"/><path d="M-5.6,0 A5.6,5.6 0 0 1 5.6,0Z" fill="#f4f4f4"/><path d="M-8,0 A8,8 0 0 0 8,0Z" fill="#c5c5c5"/><circle r="3.55" fill="#3a3a3a" stroke="#222" stroke-width="0.9"/></g>
<g transform="translate(495.3,183.6)"><path d="M-7.3,0 A7.3,7.3 0 0 1 7.3,0Z" fill="#a2e8a2"/><path d="M-7.3,0 A7.3,7.3 0 0 0 7.3,0Z" fill="#80d880"/><circle r="3.6" fill="#2c5a2c" stroke="#1c3a1c" stroke-width="0.9"/></g>
<g transform="translate(519.25,183.6)"><path d="M-7.3,0 A7.3,7.3 0 0 1 7.3,0Z" fill="#a2e8a2"/><path d="M-7.3,0 A7.3,7.3 0 0 0 7.3,0Z" fill="#80d880"/><circle r="3.6" fill="#2c5a2c" stroke="#1c3a1c" stroke-width="0.9"/></g>
<g transform="translate(543.2,183.6)"><path d="M-7.3,0 A7.3,7.3 0 0 1 7.3,0Z" fill="#a2e8a2"/><path d="M-7.3,0 A7.3,7.3 0 0 0 7.3,0Z" fill="#80d880"/><circle r="3.6" fill="#2c5a2c" stroke="#1c3a1c" stroke-width="0.9"/></g>
<g transform="translate(567.15,183.6)"><path d="M-8,0 A8,8 0 0 1 8,0Z" fill="#e5e5e5"/><path d="M-5.6,0 A5.6,5.6 0 0 1 5.6,0Z" fill="#f4f4f4"/><path d="M-8,0 A8,8 0 0 0 8,0Z" fill="#c5c5c5"/><circle r="3.55" fill="#3a3a3a" stroke="#222" stroke-width="0.9"/></g>
<g transform="translate(591.1,183.6)"><path d="M-8,0 A8,8 0 0 1 8,0Z" fill="#e5e5e5"/><path d="M-5.6,0 A5.6,5.6 0 0 1 5.6,0Z" fill="#f4f4f4"/><path d="M-8,0 A8,8 0 0 0 8,0Z" fill="#c5c5c5"/><circle r="3.55" fill="#3a3a3a" stroke="#222" stroke-width="0.9"/></g>
<g transform="translate(16.3,207.5)"><path d="M-8,0 A8,8 0 0 1 8,0Z" fill="#e5e5e5"/><path d="M-5.6,0 A5.6,5.6 0 0 1 5.6,0Z" fill="#f4f4f4"/><path d="M-8,0 A8,8 0 0 0 8,0Z" fill="#c5c5c5"/><circle r="3.55" fill="#3a3a3a" stroke="#222" stroke-width="0.9"/></g>
<g transform="translate(40.25,207.5)"><path d="M-8,0 A8,8 0 0 1 8,0Z" fill="#e5e5e5"/><path d="M-5.6,0 A5.6,5.6 0 0 1 5.6,0Z" fill="#f4f4f4"/><path d="M-8,0 A8,8 0 0 0 8,0Z" fill="#c5c5c5"/><circle r="3.55" fill="#3a3a3a" stroke="#222" stroke-width="0.9"/></g>
<g transform="translate(64.2,207.5)"><path d="M-8,0 A8,8 0 0 1 8,0Z" fill="#e5e5e5"/><path d="M-5.6,0 A5.6,5.6 0 0 1 5.6,0Z" fill="#f4f4f4"/><path d="M-8,0 A8,8 0 0 0 8,0Z" fill="#c5c5c5"/><circle r="3.55" fill="#3a3a3a" stroke="#222" stroke-width="0.9"/></g>
<g transform="translate(88.15,207.5)"><path d="M-7.3,0 A7.3,7.3 0 0 1 7.3,0Z" fill="#a2e8a2"/><path d="M-7.3,0 A7.3,7.3 0 0 0 7.3,0Z" fill="#80d880"/><circle r="3.6" fill="#2c5a2c" stroke="#1c3a1c" stroke-width="0.9"/></g>
<g transform="translate(112.1,207.5)"><path d="M-7.3,0 A7.3,7.3 0 0 1 7.3,0Z" fill="#a2e8a2"/><path d="M-7.3,0 A7.3,7.3 0 0 0 7.3,0Z" fill="#80d880"/><circle r="3.6" fill="#2c5a2c" stroke="#1c3a1c" stroke-width="0.9"/></g>
<g transform="translate(136.05,207.5)"><path d="M-7.3,0 A7.3,7.3 0 0 1 7.3,0Z" fill="#a2e8a2"/><path d="M-7.3,0 A7.3,7.3 0 0 0 7.3,0Z" fill="#80d880"/><circle r="3.6" fill="#2c5a2c" stroke="#1c3a1c" stroke-width="0.9"/></g>
<g transform="translate(160.0,207.5)"><path d="M-8,0 A8,8 0 0 1 8,0Z" fill="#e5e5e5"/><path d="M-5.6,0 A5.6,5.6 0 0 1 5.6,0Z" fill="#f4f4f4"/><path d="M-8,0 A8,8 0 0 0 8,0Z" fill="#c5c5c5"/><circle r="3.55" fill="#3a3a3a" stroke="#222" stroke-width="0.9"/></g>
<g transform="translate(183.95,207.5)"><path d="M-8,0 A8,8 0 0 1 8,0Z" fill="#e5e5e5"/><path d="M-5.6,0 A5.6,5.6 0 0 1 5.6,0Z" fill="#f4f4f4"/><path d="M-8,0 A8,8 0 0 0 8,0Z" fill="#c5c5c5"/><circle r="3.55" fill="#3a3a3a" stroke="#222" stroke-width="0.9"/></g>
<g transform="translate(207.9,207.5)"><path d="M-8,0 A8,8 0 0 1 8,0Z" fill="#e5e5e5"/><path d="M-5.6,0 A5.6,5.6 0 0 1 5.6,0Z" fill="#f4f4f4"/><path d="M-8,0 A8,8 0 0 0 8,0Z" fill="#c5c5c5"/><circle r="3.55" fill="#3a3a3a" stroke="#222" stroke-width="0.9"/></g>
<g transform="translate(231.85,207.5)"><path d="M-8,0 A8,8 0 0 1 8,0Z" fill="#e5e5e5"/><path d="M-5.6,0 A5.6,5.6 0 0 1 5.6,0Z" fill="#f4f4f4"/><path d="M-8,0 A8,8 0 0 0 8,0Z" fill="#c5c5c5"/><circle r="3.55" fill="#3a3a3a" stroke="#222" stroke-width="0.9"/></g>
<g transform="translate(255.8,207.5)"><path d="M-8,0 A8,8 0 0 1 8,0Z" fill="#e5e5e5"/><path d="M-5.6,0 A5.6,5.6 0 0 1 5.6,0Z" fill="#f4f4f4"/><path d="M-8,0 A8,8 0 0 0 8,0Z" fill="#c5c5c5"/><circle r="3.55" fill="#3a3a3a" stroke="#222" stroke-width="0.9"/></g>
<g transform="translate(279.75,207.5)"><path d="M-8,0 A8,8 0 0 1 8,0Z" fill="#e5e5e5"/><path d="M-5.6,0 A5.6,5.6 0 0 1 5.6,0Z" fill="#f4f4f4"/><path d="M-8,0 A8,8 0 0 0 8,0Z" fill="#c5c5c5"/><circle r="3.55" fill="#3a3a3a" stroke="#222" stroke-width="0.9"/></g>
<g transform="translate(303.7,207.5)"><path d="M-8,0 A8,8 0 0 1 8,0Z" fill="#e5e5e5"/><path d="M-5.6,0 A5.6,5.6 0 0 1 5.6,0Z" fill="#f4f4f4"/><path d="M-8,0 A8,8 0 0 0 8,0Z" fill="#c5c5c5"/><circle r="3.55" fill="#3a3a3a" stroke="#222" stroke-width="0.9"/></g>
<g transform="translate(327.65,207.5)"><path d="M-8,0 A8,8 0 0 1 8,0Z" fill="#e5e5e5"/><path d="M-5.6,0 A5.6,5.6 0 0 1 5.6,0Z" fill="#f4f4f4"/><path d="M-8,0 A8,8 0 0 0 8,0Z" fill="#c5c5c5"/><circle r="3.55" fill="#3a3a3a" stroke="#222" stroke-width="0.9"/></g>
<g transform="translate(351.6,207.5)"><path d="M-8,0 A8,8 0 0 1 8,0Z" fill="#e5e5e5"/><path d="M-5.6,0 A5.6,5.6 0 0 1 5.6,0Z" fill="#f4f4f4"/><path d="M-8,0 A8,8 0 0 0 8,0Z" fill="#c5c5c5"/><circle r="3.55" fill="#3a3a3a" stroke="#222" stroke-width="0.9"/></g>
<g transform="translate(375.55,207.5)"><path d="M-8,0 A8,8 0 0 1 8,0Z" fill="#e5e5e5"/><path d="M-5.6,0 A5.6,5.6 0 0 1 5.6,0Z" fill="#f4f4f4"/><path d="M-8,0 A8,8 0 0 0 8,0Z" fill="#c5c5c5"/><circle r="3.55" fill="#3a3a3a" stroke="#222" stroke-width="0.9"/></g>
<g transform="translate(399.5,207.5)"><path d="M-8,0 A8,8 0 0 1 8,0Z" fill="#e5e5e5"/><path d="M-5.6,0 A5.6,5.6 0 0 1 5.6,0Z" fill="#f4f4f4"/><path d="M-8,0 A8,8 0 0 0 8,0Z" fill="#c5c5c5"/><circle r="3.55" fill="#3a3a3a" stroke="#222" stroke-width="0.9"/></g>
<g transform="translate(423.45,207.5)"><path d="M-8,0 A8,8 0 0 1 8,0Z" fill="#e5e5e5"/><path d="M-5.6,0 A5.6,5.6 0 0 1 5.6,0Z" fill="#f4f4f4"/><path d="M-8,0 A8,8 0 0 0 8,0Z" fill="#c5c5c5"/><circle r="3.55" fill="#3a3a3a" stroke="#222" stroke-width="0.9"/></g>
<g transform="translate(447.4,207.5)"><path d="M-8,0 A8,8 0 0 1 8,0Z" fill="#e5e5e5"/><path d="M-5.6,0 A5.6,5.6 0 0 1 5.6,0Z" fill="#f4f4f4"/><path d="M-8,0 A8,8 0 0 0 8,0Z" fill="#c5c5c5"/><circle r="3.55" fill="#3a3a3a" stroke="#222" stroke-width="0.9"/></g>
<g transform="translate(471.35,207.5)"><path d="M-8,0 A8,8 0 0 1 8,0Z" fill="#e5e5e5"/><path d="M-5.6,0 A5.6,5.6 0 0 1 5.6,0Z" fill="#f4f4f4"/><path d="M-8,0 A8,8 0 0 0 8,0Z" fill="#c5c5c5"/><circle r="3.55" fill="#3a3a3a" stroke="#222" stroke-width="0.9"/></g>
<g transform="translate(495.3,207.5)"><path d="M-8,0 A8,8 0 0 1 8,0Z" fill="#e5e5e5"/><path d="M-5.6,0 A5.6,5.6 0 0 1 5.6,0Z" fill="#f4f4f4"/><path d="M-8,0 A8,8 0 0 0 8,0Z" fill="#c5c5c5"/><circle r="3.55" fill="#3a3a3a" stroke="#222" stroke-width="0.9"/></g>
<g transform="translate(519.25,207.5)"><path d="M-8,0 A8,8 0 0 1 8,0Z" fill="#e5e5e5"/><path d="M-5.6,0 A5.6,5.6 0 0 1 5.6,0Z" fill="#f4f4f4"/><path d="M-8,0 A8,8 0 0 0 8,0Z" fill="#c5c5c5"/><circle r="3.55" fill="#3a3a3a" stroke="#222" stroke-width="0.9"/></g>
<g transform="translate(543.2,207.5)"><path d="M-8,0 A8,8 0 0 1 8,0Z" fill="#e5e5e5"/><path d="M-5.6,0 A5.6,5.6 0 0 1 5.6,0Z" fill="#f4f4f4"/><path d="M-8,0 A8,8 0 0 0 8,0Z" fill="#c5c5c5"/><circle r="3.55" fill="#3a3a3a" stroke="#222" stroke-width="0.9"/></g>
<g transform="translate(567.15,207.5)"><path d="M-8,0 A8,8 0 0 1 8,0Z" fill="#e5e5e5"/><path d="M-5.6,0 A5.6,5.6 0 0 1 5.6,0Z" fill="#f4f4f4"/><path d="M-8,0 A8,8 0 0 0 8,0Z" fill="#c5c5c5"/><circle r="3.55" fill="#3a3a3a" stroke="#222" stroke-width="0.9"/></g>
<g transform="translate(591.1,207.5)"><path d="M-8,0 A8,8 0 0 1 8,0Z" fill="#e5e5e5"/><path d="M-5.6,0 A5.6,5.6 0 0 1 5.6,0Z" fill="#f4f4f4"/><path d="M-8,0 A8,8 0 0 0 8,0Z" fill="#c5c5c5"/><circle r="3.55" fill="#3a3a3a" stroke="#222" stroke-width="0.9"/></g>
<g transform="translate(16.3,231.5)"><path d="M-8,0 A8,8 0 0 1 8,0Z" fill="#e5e5e5"/><path d="M-5.6,0 A5.6,5.6 0 0 1 5.6,0Z" fill="#f4f4f4"/><path d="M-8,0 A8,8 0 0 0 8,0Z" fill="#c5c5c5"/><circle r="3.55" fill="#3a3a3a" stroke="#222" stroke-width="0.9"/></g>
<g transform="translate(40.25,231.5)"><path d="M-8,0 A8,8 0 0 1 8,0Z" fill="#e5e5e5"/><path d="M-5.6,0 A5.6,5.6 0 0 1 5.6,0Z" fill="#f4f4f4"/><path d="M-8,0 A8,8 0 0 0 8,0Z" fill="#c5c5c5"/><circle r="3.55" fill="#3a3a3a" stroke="#222" stroke-width="0.9"/></g>
<g transform="translate(64.2,231.5)"><path d="M-8,0 A8,8 0 0 1 8,0Z" fill="#e5e5e5"/><path d="M-5.6,0 A5.6,5.6 0 0 1 5.6,0Z" fill="#f4f4f4"/><path d="M-8,0 A8,8 0 0 0 8,0Z" fill="#c5c5c5"/><circle r="3.55" fill="#3a3a3a" stroke="#222" stroke-width="0.9"/></g>
<g transform="translate(88.15,231.5)"><path d="M-7.3,0 A7.3,7.3 0 0 1 7.3,0Z" fill="#a2e8a2"/><path d="M-7.3,0 A7.3,7.3 0 0 0 7.3,0Z" fill="#80d880"/><circle r="3.6" fill="#2c5a2c" stroke="#1c3a1c" stroke-width="0.9"/></g>
<g transform="translate(112.1,231.5)"><path d="M-7.3,0 A7.3,7.3 0 0 1 7.3,0Z" fill="#a2e8a2"/><path d="M-7.3,0 A7.3,7.3 0 0 0 7.3,0Z" fill="#80d880"/><circle r="3.6" fill="#2c5a2c" stroke="#1c3a1c" stroke-width="0.9"/></g>
<g transform="translate(136.05,231.5)"><path d="M-7.3,0 A7.3,7.3 0 0 1 7.3,0Z" fill="#a2e8a2"/><path d="M-7.3,0 A7.3,7.3 0 0 0 7.3,0Z" fill="#80d880"/><circle r="3.6" fill="#2c5a2c" stroke="#1c3a1c" stroke-width="0.9"/></g>
<g transform="translate(160.0,231.5)"><path d="M-8,0 A8,8 0 0 1 8,0Z" fill="#e5e5e5"/><path d="M-5.6,0 A5.6,5.6 0 0 1 5.6,0Z" fill="#f4f4f4"/><path d="M-8,0 A8,8 0 0 0 8,0Z" fill="#c5c5c5"/><circle r="3.55" fill="#3a3a3a" stroke="#222" stroke-width="0.9"/></g>
<g transform="translate(183.95,231.5)"><path d="M-8,0 A8,8 0 0 1 8,0Z" fill="#e5e5e5"/><path d="M-5.6,0 A5.6,5.6 0 0 1 5.6,0Z" fill="#f4f4f4"/><path d="M-8,0 A8,8 0 0 0 8,0Z" fill="#c5c5c5"/><circle r="3.55" fill="#3a3a3a" stroke="#222" stroke-width="0.9"/></g>
<g transform="translate(207.9,231.5)"><path d="M-8,0 A8,8 0 0 1 8,0Z" fill="#e5e5e5"/><path d="M-5.6,0 A5.6,5.6 0 0 1 5.6,0Z" fill="#f4f4f4"/><path d="M-8,0 A8,8 0 0 0 8,0Z" fill="#c5c5c5"/><circle r="3.55" fill="#3a3a3a" stroke="#222" stroke-width="0.9"/></g>
<g transform="translate(231.85,231.5)"><path d="M-8,0 A8,8 0 0 1 8,0Z" fill="#e5e5e5"/><path d="M-5.6,0 A5.6,5.6 0 0 1 5.6,0Z" fill="#f4f4f4"/><path d="M-8,0 A8,8 0 0 0 8,0Z" fill="#c5c5c5"/><circle r="3.55" fill="#3a3a3a" stroke="#222" stroke-width="0.9"/></g>
<g transform="translate(255.8,231.5)"><path d="M-8,0 A8,8 0 0 1 8,0Z" fill="#e5e5e5"/><path d="M-5.6,0 A5.6,5.6 0 0 1 5.6,0Z" fill="#f4f4f4"/><path d="M-8,0 A8,8 0 0 0 8,0Z" fill="#c5c5c5"/><circle r="3.55" fill="#3a3a3a" stroke="#222" stroke-width="0.9"/></g>
<g transform="translate(279.75,231.5)"><path d="M-8,0 A8,8 0 0 1 8,0Z" fill="#e5e5e5"/><path d="M-5.6,0 A5.6,5.6 0 0 1 5.6,0Z" fill="#f4f4f4"/><path d="M-8,0 A8,8 0 0 0 8,0Z" fill="#c5c5c5"/><circle r="3.55" fill="#3a3a3a" stroke="#222" stroke-width="0.9"/></g>
<g transform="translate(303.7,231.5)"><path d="M-8,0 A8,8 0 0 1 8,0Z" fill="#e5e5e5"/><path d="M-5.6,0 A5.6,5.6 0 0 1 5.6,0Z" fill="#f4f4f4"/><path d="M-8,0 A8,8 0 0 0 8,0Z" fill="#c5c5c5"/><circle r="3.55" fill="#3a3a3a" stroke="#222" stroke-width="0.9"/></g>
<g transform="translate(327.65,231.5)"><path d="M-8,0 A8,8 0 0 1 8,0Z" fill="#e5e5e5"/><path d="M-5.6,0 A5.6,5.6 0 0 1 5.6,0Z" fill="#f4f4f4"/><path d="M-8,0 A8,8 0 0 0 8,0Z" fill="#c5c5c5"/><circle r="3.55" fill="#3a3a3a" stroke="#222" stroke-width="0.9"/></g>
<g transform="translate(351.6,231.5)"><path d="M-8,0 A8,8 0 0 1 8,0Z" fill="#e5e5e5"/><path d="M-5.6,0 A5.6,5.6 0 0 1 5.6,0Z" fill="#f4f4f4"/><path d="M-8,0 A8,8 0 0 0 8,0Z" fill="#c5c5c5"/><circle r="3.55" fill="#3a3a3a" stroke="#222" stroke-width="0.9"/></g>
<g transform="translate(375.55,231.5)"><path d="M-8,0 A8,8 0 0 1 8,0Z" fill="#e5e5e5"/><path d="M-5.6,0 A5.6,5.6 0 0 1 5.6,0Z" fill="#f4f4f4"/><path d="M-8,0 A8,8 0 0 0 8,0Z" fill="#c5c5c5"/><circle r="3.55" fill="#3a3a3a" stroke="#222" stroke-width="0.9"/></g>
<g transform="translate(399.5,231.5)"><path d="M-8,0 A8,8 0 0 1 8,0Z" fill="#e5e5e5"/><path d="M-5.6,0 A5.6,5.6 0 0 1 5.6,0Z" fill="#f4f4f4"/><path d="M-8,0 A8,8 0 0 0 8,0Z" fill="#c5c5c5"/><circle r="3.55" fill="#3a3a3a" stroke="#222" stroke-width="0.9"/></g>
<g transform="translate(423.45,231.5)"><path d="M-8,0 A8,8 0 0 1 8,0Z" fill="#e5e5e5"/><path d="M-5.6,0 A5.6,5.6 0 0 1 5.6,0Z" fill="#f4f4f4"/><path d="M-8,0 A8,8 0 0 0 8,0Z" fill="#c5c5c5"/><circle r="3.55" fill="#3a3a3a" stroke="#222" stroke-width="0.9"/></g>
<g transform="translate(447.4,231.5)"><path d="M-8,0 A8,8 0 0 1 8,0Z" fill="#e5e5e5"/><path d="M-5.6,0 A5.6,5.6 0 0 1 5.6,0Z" fill="#f4f4f4"/><path d="M-8,0 A8,8 0 0 0 8,0Z" fill="#c5c5c5"/><circle r="3.55" fill="#3a3a3a" stroke="#222" stroke-width="0.9"/></g>
<g transform="translate(471.35,231.5)"><path d="M-8,0 A8,8 0 0 1 8,0Z" fill="#e5e5e5"/><path d="M-5.6,0 A5.6,5.6 0 0 1 5.6,0Z" fill="#f4f4f4"/><path d="M-8,0 A8,8 0 0 0 8,0Z" fill="#c5c5c5"/><circle r="3.55" fill="#3a3a3a" stroke="#222" stroke-width="0.9"/></g>
<g transform="translate(495.3,231.5)"><path d="M-8,0 A8,8 0 0 1 8,0Z" fill="#e5e5e5"/><path d="M-5.6,0 A5.6,5.6 0 0 1 5.6,0Z" fill="#f4f4f4"/><path d="M-8,0 A8,8 0 0 0 8,0Z" fill="#c5c5c5"/><circle r="3.55" fill="#3a3a3a" stroke="#222" stroke-width="0.9"/></g>
<g transform="translate(519.25,231.5)"><path d="M-8,0 A8,8 0 0 1 8,0Z" fill="#e5e5e5"/><path d="M-5.6,0 A5.6,5.6 0 0 1 5.6,0Z" fill="#f4f4f4"/><path d="M-8,0 A8,8 0 0 0 8,0Z" fill="#c5c5c5"/><circle r="3.55" fill="#3a3a3a" stroke="#222" stroke-width="0.9"/></g>
<g transform="translate(543.2,231.5)"><path d="M-8,0 A8,8 0 0 1 8,0Z" fill="#e5e5e5"/><path d="M-5.6,0 A5.6,5.6 0 0 1 5.6,0Z" fill="#f4f4f4"/><path d="M-8,0 A8,8 0 0 0 8,0Z" fill="#c5c5c5"/><circle r="3.55" fill="#3a3a3a" stroke="#222" stroke-width="0.9"/></g>
<g transform="translate(567.15,231.5)"><path d="M-8,0 A8,8 0 0 1 8,0Z" fill="#e5e5e5"/><path d="M-5.6,0 A5.6,5.6 0 0 1 5.6,0Z" fill="#f4f4f4"/><path d="M-8,0 A8,8 0 0 0 8,0Z" fill="#c5c5c5"/><circle r="3.55" fill="#3a3a3a" stroke="#222" stroke-width="0.9"/></g>
<g transform="translate(591.1,231.5)"><path d="M-8,0 A8,8 0 0 1 8,0Z" fill="#e5e5e5"/><path d="M-5.6,0 A5.6,5.6 0 0 1 5.6,0Z" fill="#f4f4f4"/><path d="M-8,0 A8,8 0 0 0 8,0Z" fill="#c5c5c5"/><circle r="3.55" fill="#3a3a3a" stroke="#222" stroke-width="0.9"/></g>
<g transform="translate(16.3,255.4)"><path d="M-8,0 A8,8 0 0 1 8,0Z" fill="#e5e5e5"/><path d="M-5.6,0 A5.6,5.6 0 0 1 5.6,0Z" fill="#f4f4f4"/><path d="M-8,0 A8,8 0 0 0 8,0Z" fill="#c5c5c5"/><circle r="3.55" fill="#3a3a3a" stroke="#222" stroke-width="0.9"/></g>
<g transform="translate(40.25,255.4)"><path d="M-8,0 A8,8 0 0 1 8,0Z" fill="#e5e5e5"/><path d="M-5.6,0 A5.6,5.6 0 0 1 5.6,0Z" fill="#f4f4f4"/><path d="M-8,0 A8,8 0 0 0 8,0Z" fill="#c5c5c5"/><circle r="3.55" fill="#3a3a3a" stroke="#222" stroke-width="0.9"/></g>
<g transform="translate(64.2,255.4)"><path d="M-8,0 A8,8 0 0 1 8,0Z" fill="#e5e5e5"/><path d="M-5.6,0 A5.6,5.6 0 0 1 5.6,0Z" fill="#f4f4f4"/><path d="M-8,0 A8,8 0 0 0 8,0Z" fill="#c5c5c5"/><circle r="3.55" fill="#3a3a3a" stroke="#222" stroke-width="0.9"/></g>
<g transform="translate(88.15,255.4)"><path d="M-7.3,0 A7.3,7.3 0 0 1 7.3,0Z" fill="#a2e8a2"/><path d="M-7.3,0 A7.3,7.3 0 0 0 7.3,0Z" fill="#80d880"/><circle r="3.6" fill="#2c5a2c" stroke="#1c3a1c" stroke-width="0.9"/></g>
<g transform="translate(112.1,255.4)"><path d="M-7.3,0 A7.3,7.3 0 0 1 7.3,0Z" fill="#a2e8a2"/><path d="M-7.3,0 A7.3,7.3 0 0 0 7.3,0Z" fill="#80d880"/><circle r="3.6" fill="#2c5a2c" stroke="#1c3a1c" stroke-width="0.9"/></g>
<g transform="translate(136.05,255.4)"><path d="M-7.3,0 A7.3,7.3 0 0 1 7.3,0Z" fill="#a2e8a2"/><path d="M-7.3,0 A7.3,7.3 0 0 0 7.3,0Z" fill="#80d880"/><circle r="3.6" fill="#2c5a2c" stroke="#1c3a1c" stroke-width="0.9"/></g>
<g transform="translate(160.0,255.4)"><path d="M-8,0 A8,8 0 0 1 8,0Z" fill="#e5e5e5"/><path d="M-5.6,0 A5.6,5.6 0 0 1 5.6,0Z" fill="#f4f4f4"/><path d="M-8,0 A8,8 0 0 0 8,0Z" fill="#c5c5c5"/><circle r="3.55" fill="#3a3a3a" stroke="#222" stroke-width="0.9"/></g>
<g transform="translate(183.95,255.4)"><path d="M-8,0 A8,8 0 0 1 8,0Z" fill="#e5e5e5"/><path d="M-5.6,0 A5.6,5.6 0 0 1 5.6,0Z" fill="#f4f4f4"/><path d="M-8,0 A8,8 0 0 0 8,0Z" fill="#c5c5c5"/><circle r="3.55" fill="#3a3a3a" stroke="#222" stroke-width="0.9"/></g>
<g transform="translate(207.9,255.4)"><path d="M-8,0 A8,8 0 0 1 8,0Z" fill="#e5e5e5"/><path d="M-5.6,0 A5.6,5.6 0 0 1 5.6,0Z" fill="#f4f4f4"/><path d="M-8,0 A8,8 0 0 0 8,0Z" fill="#c5c5c5"/><circle r="3.55" fill="#3a3a3a" stroke="#222" stroke-width="0.9"/></g>
<g transform="translate(231.85,255.4)"><path d="M-8,0 A8,8 0 0 1 8,0Z" fill="#e5e5e5"/><path d="M-5.6,0 A5.6,5.6 0 0 1 5.6,0Z" fill="#f4f4f4"/><path d="M-8,0 A8,8 0 0 0 8,0Z" fill="#c5c5c5"/><circle r="3.55" fill="#3a3a3a" stroke="#222" stroke-width="0.9"/></g>
<g transform="translate(255.8,255.4)"><path d="M-8,0 A8,8 0 0 1 8,0Z" fill="#e5e5e5"/><path d="M-5.6,0 A5.6,5.6 0 0 1 5.6,0Z" fill="#f4f4f4"/><path d="M-8,0 A8,8 0 0 0 8,0Z" fill="#c5c5c5"/><circle r="3.55" fill="#3a3a3a" stroke="#222" stroke-width="0.9"/></g>
<g transform="translate(279.75,255.4)"><path d="M-8,0 A8,8 0 0 1 8,0Z" fill="#e5e5e5"/><path d="M-5.6,0 A5.6,5.6 0 0 1 5.6,0Z" fill="#f4f4f4"/><path d="M-8,0 A8,8 0 0 0 8,0Z" fill="#c5c5c5"/><circle r="3.55" fill="#3a3a3a" stroke="#222" stroke-width="0.9"/></g>
<g transform="translate(303.7,255.4)"><path d="M-8,0 A8,8 0 0 1 8,0Z" fill="#e5e5e5"/><path d="M-5.6,0 A5.6,5.6 0 0 1 5.6,0Z" fill="#f4f4f4"/><path d="M-8,0 A8,8 0 0 0 8,0Z" fill="#c5c5c5"/><circle r="3.55" fill="#3a3a3a" stroke="#222" stroke-width="0.9"/></g>
<g transform="translate(327.65,255.4)"><path d="M-8,0 A8,8 0 0 1 8,0Z" fill="#e5e5e5"/><path d="M-5.6,0 A5.6,5.6 0 0 1 5.6,0Z" fill="#f4f4f4"/><path d="M-8,0 A8,8 0 0 0 8,0Z" fill="#c5c5c5"/><circle r="3.55" fill="#3a3a3a" stroke="#222" stroke-width="0.9"/></g>
<g transform="translate(351.6,255.4)"><path d="M-8,0 A8,8 0 0 1 8,0Z" fill="#e5e5e5"/><path d="M-5.6,0 A5.6,5.6 0 0 1 5.6,0Z" fill="#f4f4f4"/><path d="M-8,0 A8,8 0 0 0 8,0Z" fill="#c5c5c5"/><circle r="3.55" fill="#3a3a3a" stroke="#222" stroke-width="0.9"/></g>
<g transform="translate(375.55,255.4)"><path d="M-8,0 A8,8 0 0 1 8,0Z" fill="#e5e5e5"/><path d="M-5.6,0 A5.6,5.6 0 0 1 5.6,0Z" fill="#f4f4f4"/><path d="M-8,0 A8,8 0 0 0 8,0Z" fill="#c5c5c5"/><circle r="3.55" fill="#3a3a3a" stroke="#222" stroke-width="0.9"/></g>
<g transform="translate(399.5,255.4)"><path d="M-8,0 A8,8 0 0 1 8,0Z" fill="#e5e5e5"/><path d="M-5.6,0 A5.6,5.6 0 0 1 5.6,0Z" fill="#f4f4f4"/><path d="M-8,0 A8,8 0 0 0 8,0Z" fill="#c5c5c5"/><circle r="3.55" fill="#3a3a3a" stroke="#222" stroke-width="0.9"/></g>
<g transform="translate(423.45,255.4)"><path d="M-8,0 A8,8 0 0 1 8,0Z" fill="#e5e5e5"/><path d="M-5.6,0 A5.6,5.6 0 0 1 5.6,0Z" fill="#f4f4f4"/><path d="M-8,0 A8,8 0 0 0 8,0Z" fill="#c5c5c5"/><circle r="3.55" fill="#3a3a3a" stroke="#222" stroke-width="0.9"/></g>
<g transform="translate(447.4,255.4)"><path d="M-8,0 A8,8 0 0 1 8,0Z" fill="#e5e5e5"/><path d="M-5.6,0 A5.6,5.6 0 0 1 5.6,0Z" fill="#f4f4f4"/><path d="M-8,0 A8,8 0 0 0 8,0Z" fill="#c5c5c5"/><circle r="3.55" fill="#3a3a3a" stroke="#222" stroke-width="0.9"/></g>
<g transform="translate(471.35,255.4)"><path d="M-8,0 A8,8 0 0 1 8,0Z" fill="#e5e5e5"/><path d="M-5.6,0 A5.6,5.6 0 0 1 5.6,0Z" fill="#f4f4f4"/><path d="M-8,0 A8,8 0 0 0 8,0Z" fill="#c5c5c5"/><circle r="3.55" fill="#3a3a3a" stroke="#222" stroke-width="0.9"/></g>
<g transform="translate(495.3,255.4)"><path d="M-8,0 A8,8 0 0 1 8,0Z" fill="#e5e5e5"/><path d="M-5.6,0 A5.6,5.6 0 0 1 5.6,0Z" fill="#f4f4f4"/><path d="M-8,0 A8,8 0 0 0 8,0Z" fill="#c5c5c5"/><circle r="3.55" fill="#3a3a3a" stroke="#222" stroke-width="0.9"/></g>
<g transform="translate(519.25,255.4)"><path d="M-8,0 A8,8 0 0 1 8,0Z" fill="#e5e5e5"/><path d="M-5.6,0 A5.6,5.6 0 0 1 5.6,0Z" fill="#f4f4f4"/><path d="M-8,0 A8,8 0 0 0 8,0Z" fill="#c5c5c5"/><circle r="3.55" fill="#3a3a3a" stroke="#222" stroke-width="0.9"/></g>
<g transform="translate(543.2,255.4)"><path d="M-8,0 A8,8 0 0 1 8,0Z" fill="#e5e5e5"/><path d="M-5.6,0 A5.6,5.6 0 0 1 5.6,0Z" fill="#f4f4f4"/><path d="M-8,0 A8,8 0 0 0 8,0Z" fill="#c5c5c5"/><circle r="3.55" fill="#3a3a3a" stroke="#222" stroke-width="0.9"/></g>
<g transform="translate(567.15,255.4)"><path d="M-8,0 A8,8 0 0 1 8,0Z" fill="#e5e5e5"/><path d="M-5.6,0 A5.6,5.6 0 0 1 5.6,0Z" fill="#f4f4f4"/><path d="M-8,0 A8,8 0 0 0 8,0Z" fill="#c5c5c5"/><circle r="3.55" fill="#3a3a3a" stroke="#222" stroke-width="0.9"/></g>
<g transform="translate(591.1,255.4)"><path d="M-8,0 A8,8 0 0 1 8,0Z" fill="#e5e5e5"/><path d="M-5.6,0 A5.6,5.6 0 0 1 5.6,0Z" fill="#f4f4f4"/><path d="M-8,0 A8,8 0 0 0 8,0Z" fill="#c5c5c5"/><circle r="3.55" fill="#3a3a3a" stroke="#222" stroke-width="0.9"/></g>
<g transform="translate(16.3,279.3)"><path d="M-8,0 A8,8 0 0 1 8,0Z" fill="#e5e5e5"/><path d="M-5.6,0 A5.6,5.6 0 0 1 5.6,0Z" fill="#f4f4f4"/><path d="M-8,0 A8,8 0 0 0 8,0Z" fill="#c5c5c5"/><circle r="3.55" fill="#3a3a3a" stroke="#222" stroke-width="0.9"/></g>
<g transform="translate(40.25,279.3)"><path d="M-8,0 A8,8 0 0 1 8,0Z" fill="#e5e5e5"/><path d="M-5.6,0 A5.6,5.6 0 0 1 5.6,0Z" fill="#f4f4f4"/><path d="M-8,0 A8,8 0 0 0 8,0Z" fill="#c5c5c5"/><circle r="3.55" fill="#3a3a3a" stroke="#222" stroke-width="0.9"/></g>
<g transform="translate(64.2,279.3)"><path d="M-8,0 A8,8 0 0 1 8,0Z" fill="#e5e5e5"/><path d="M-5.6,0 A5.6,5.6 0 0 1 5.6,0Z" fill="#f4f4f4"/><path d="M-8,0 A8,8 0 0 0 8,0Z" fill="#c5c5c5"/><circle r="3.55" fill="#3a3a3a" stroke="#222" stroke-width="0.9"/></g>
<g transform="translate(88.15,279.3)"><path d="M-7.3,0 A7.3,7.3 0 0 1 7.3,0Z" fill="#a2e8a2"/><path d="M-7.3,0 A7.3,7.3 0 0 0 7.3,0Z" fill="#80d880"/><circle r="3.6" fill="#2c5a2c" stroke="#1c3a1c" stroke-width="0.9"/></g>
<g transform="translate(112.1,279.3)"><path d="M-7.3,0 A7.3,7.3 0 0 1 7.3,0Z" fill="#a2e8a2"/><path d="M-7.3,0 A7.3,7.3 0 0 0 7.3,0Z" fill="#80d880"/><circle r="3.6" fill="#2c5a2c" stroke="#1c3a1c" stroke-width="0.9"/></g>
<g transform="translate(136.05,279.3)"><path d="M-7.3,0 A7.3,7.3 0 0 1 7.3,0Z" fill="#a2e8a2"/><path d="M-7.3,0 A7.3,7.3 0 0 0 7.3,0Z" fill="#80d880"/><circle r="3.6" fill="#2c5a2c" stroke="#1c3a1c" stroke-width="0.9"/></g>
<g transform="translate(160.0,279.3)"><path d="M-8,0 A8,8 0 0 1 8,0Z" fill="#e5e5e5"/><path d="M-5.6,0 A5.6,5.6 0 0 1 5.6,0Z" fill="#f4f4f4"/><path d="M-8,0 A8,8 0 0 0 8,0Z" fill="#c5c5c5"/><circle r="3.55" fill="#3a3a3a" stroke="#222" stroke-width="0.9"/></g>
<g transform="translate(183.95,279.3)"><path d="M-8,0 A8,8 0 0 1 8,0Z" fill="#e5e5e5"/><path d="M-5.6,0 A5.6,5.6 0 0 1 5.6,0Z" fill="#f4f4f4"/><path d="M-8,0 A8,8 0 0 0 8,0Z" fill="#c5c5c5"/><circle r="3.55" fill="#3a3a3a" stroke="#222" stroke-width="0.9"/></g>
<g transform="translate(207.9,279.3)"><path d="M-8,0 A8,8 0 0 1 8,0Z" fill="#e5e5e5"/><path d="M-5.6,0 A5.6,5.6 0 0 1 5.6,0Z" fill="#f4f4f4"/><path d="M-8,0 A8,8 0 0 0 8,0Z" fill="#c5c5c5"/><circle r="3.55" fill="#3a3a3a" stroke="#222" stroke-width="0.9"/></g>
<g transform="translate(231.85,279.3)"><path d="M-8,0 A8,8 0 0 1 8,0Z" fill="#e5e5e5"/><path d="M-5.6,0 A5.6,5.6 0 0 1 5.6,0Z" fill="#f4f4f4"/><path d="M-8,0 A8,8 0 0 0 8,0Z" fill="#c5c5c5"/><circle r="3.55" fill="#3a3a3a" stroke="#222" stroke-width="0.9"/></g>
<g transform="translate(255.8,279.3)"><path d="M-8,0 A8,8 0 0 1 8,0Z" fill="#e5e5e5"/><path d="M-5.6,0 A5.6,5.6 0 0 1 5.6,0Z" fill="#f4f4f4"/><path d="M-8,0 A8,8 0 0 0 8,0Z" fill="#c5c5c5"/><circle r="3.55" fill="#3a3a3a" stroke="#222" stroke-width="0.9"/></g>
<g transform="translate(279.75,279.3)"><path d="M-8,0 A8,8 0 0 1 8,0Z" fill="#e5e5e5"/><path d="M-5.6,0 A5.6,5.6 0 0 1 5.6,0Z" fill="#f4f4f4"/><path d="M-8,0 A8,8 0 0 0 8,0Z" fill="#c5c5c5"/><circle r="3.55" fill="#3a3a3a" stroke="#222" stroke-width="0.9"/></g>
<g transform="translate(303.7,279.3)"><path d="M-8,0 A8,8 0 0 1 8,0Z" fill="#e5e5e5"/><path d="M-5.6,0 A5.6,5.6 0 0 1 5.6,0Z" fill="#f4f4f4"/><path d="M-8,0 A8,8 0 0 0 8,0Z" fill="#c5c5c5"/><circle r="3.55" fill="#3a3a3a" stroke="#222" stroke-width="0.9"/></g>
<g transform="translate(327.65,279.3)"><path d="M-8,0 A8,8 0 0 1 8,0Z" fill="#e5e5e5"/><path d="M-5.6,0 A5.6,5.6 0 0 1 5.6,0Z" fill="#f4f4f4"/><path d="M-8,0 A8,8 0 0 0 8,0Z" fill="#c5c5c5"/><circle r="3.55" fill="#3a3a3a" stroke="#222" stroke-width="0.9"/></g>
<g transform="translate(351.6,279.3)"><path d="M-8,0 A8,8 0 0 1 8,0Z" fill="#e5e5e5"/><path d="M-5.6,0 A5.6,5.6 0 0 1 5.6,0Z" fill="#f4f4f4"/><path d="M-8,0 A8,8 0 0 0 8,0Z" fill="#c5c5c5"/><circle r="3.55" fill="#3a3a3a" stroke="#222" stroke-width="0.9"/></g>
<g transform="translate(375.55,279.3)"><path d="M-8,0 A8,8 0 0 1 8,0Z" fill="#e5e5e5"/><path d="M-5.6,0 A5.6,5.6 0 0 1 5.6,0Z" fill="#f4f4f4"/><path d="M-8,0 A8,8 0 0 0 8,0Z" fill="#c5c5c5"/><circle r="3.55" fill="#3a3a3a" stroke="#222" stroke-width="0.9"/></g>
<g transform="translate(399.5,279.3)"><path d="M-8,0 A8,8 0 0 1 8,0Z" fill="#e5e5e5"/><path d="M-5.6,0 A5.6,5.6 0 0 1 5.6,0Z" fill="#f4f4f4"/><path d="M-8,0 A8,8 0 0 0 8,0Z" fill="#c5c5c5"/><circle r="3.55" fill="#3a3a3a" stroke="#222" stroke-width="0.9"/></g>
<g transform="translate(423.45,279.3)"><path d="M-8,0 A8,8 0 0 1 8,0Z" fill="#e5e5e5"/><path d="M-5.6,0 A5.6,5.6 0 0 1 5.6,0Z" fill="#f4f4f4"/><path d="M-8,0 A8,8 0 0 0 8,0Z" fill="#c5c5c5"/><circle r="3.55" fill="#3a3a3a" stroke="#222" stroke-width="0.9"/></g>
<g transform="translate(447.4,279.3)"><path d="M-8,0 A8,8 0 0 1 8,0Z" fill="#e5e5e5"/><path d="M-5.6,0 A5.6,5.6 0 0 1 5.6,0Z" fill="#f4f4f4"/><path d="M-8,0 A8,8 0 0 0 8,0Z" fill="#c5c5c5"/><circle r="3.55" fill="#3a3a3a" stroke="#222" stroke-width="0.9"/></g>
<g transform="translate(471.35,279.3)"><path d="M-8,0 A8,8 0 0 1 8,0Z" fill="#e5e5e5"/><path d="M-5.6,0 A5.6,5.6 0 0 1 5.6,0Z" fill="#f4f4f4"/><path d="M-8,0 A8,8 0 0 0 8,0Z" fill="#c5c5c5"/><circle r="3.55" fill="#3a3a3a" stroke="#222" stroke-width="0.9"/></g>
<g transform="translate(495.3,279.3)"><path d="M-8,0 A8,8 0 0 1 8,0Z" fill="#e5e5e5"/><path d="M-5.6,0 A5.6,5.6 0 0 1 5.6,0Z" fill="#f4f4f4"/><path d="M-8,0 A8,8 0 0 0 8,0Z" fill="#c5c5c5"/><circle r="3.55" fill="#3a3a3a" stroke="#222" stroke-width="0.9"/></g>
<g transform="translate(519.25,279.3)"><path d="M-8,0 A8,8 0 0 1 8,0Z" fill="#e5e5e5"/><path d="M-5.6,0 A5.6,5.6 0 0 1 5.6,0Z" fill="#f4f4f4"/><path d="M-8,0 A8,8 0 0 0 8,0Z" fill="#c5c5c5"/><circle r="3.55" fill="#3a3a3a" stroke="#222" stroke-width="0.9"/></g>
<g transform="translate(543.2,279.3)"><path d="M-8,0 A8,8 0 0 1 8,0Z" fill="#e5e5e5"/><path d="M-5.6,0 A5.6,5.6 0 0 1 5.6,0Z" fill="#f4f4f4"/><path d="M-8,0 A8,8 0 0 0 8,0Z" fill="#c5c5c5"/><circle r="3.55" fill="#3a3a3a" stroke="#222" stroke-width="0.9"/></g>
<g transform="translate(567.15,279.3)"><path d="M-8,0 A8,8 0 0 1 8,0Z" fill="#e5e5e5"/><path d="M-5.6,0 A5.6,5.6 0 0 1 5.6,0Z" fill="#f4f4f4"/><path d="M-8,0 A8,8 0 0 0 8,0Z" fill="#c5c5c5"/><circle r="3.55" fill="#3a3a3a" stroke="#222" stroke-width="0.9"/></g>
<g transform="translate(591.1,279.3)"><path d="M-8,0 A8,8 0 0 1 8,0Z" fill="#e5e5e5"/><path d="M-5.6,0 A5.6,5.6 0 0 1 5.6,0Z" fill="#f4f4f4"/><path d="M-8,0 A8,8 0 0 0 8,0Z" fill="#c5c5c5"/><circle r="3.55" fill="#3a3a3a" stroke="#222" stroke-width="0.9"/></g>
<g transform="translate(16.3,518.8)"><path d="M-8,0 A8,8 0 0 1 8,0Z" fill="#e5e5e5"/><path d="M-5.6,0 A5.6,5.6 0 0 1 5.6,0Z" fill="#f4f4f4"/><path d="M-8,0 A8,8 0 0 0 8,0Z" fill="#c5c5c5"/><circle r="3.55" fill="#3a3a3a" stroke="#222" stroke-width="0.9"/></g>
<g transform="translate(40.25,518.8)"><path d="M-8,0 A8,8 0 0 1 8,0Z" fill="#e5e5e5"/><path d="M-5.6,0 A5.6,5.6 0 0 1 5.6,0Z" fill="#f4f4f4"/><path d="M-8,0 A8,8 0 0 0 8,0Z" fill="#c5c5c5"/><circle r="3.55" fill="#3a3a3a" stroke="#222" stroke-width="0.9"/></g>
<g transform="translate(64.2,518.8)"><path d="M-8,0 A8,8 0 0 1 8,0Z" fill="#e5e5e5"/><path d="M-5.6,0 A5.6,5.6 0 0 1 5.6,0Z" fill="#f4f4f4"/><path d="M-8,0 A8,8 0 0 0 8,0Z" fill="#c5c5c5"/><circle r="3.55" fill="#3a3a3a" stroke="#222" stroke-width="0.9"/></g>
<g transform="translate(88.15,518.8)"><path d="M-8,0 A8,8 0 0 1 8,0Z" fill="#e5e5e5"/><path d="M-5.6,0 A5.6,5.6 0 0 1 5.6,0Z" fill="#f4f4f4"/><path d="M-8,0 A8,8 0 0 0 8,0Z" fill="#c5c5c5"/><circle r="3.55" fill="#3a3a3a" stroke="#222" stroke-width="0.9"/></g>
<g transform="translate(112.1,518.8)"><path d="M-8,0 A8,8 0 0 1 8,0Z" fill="#e5e5e5"/><path d="M-5.6,0 A5.6,5.6 0 0 1 5.6,0Z" fill="#f4f4f4"/><path d="M-8,0 A8,8 0 0 0 8,0Z" fill="#c5c5c5"/><circle r="3.55" fill="#3a3a3a" stroke="#222" stroke-width="0.9"/></g>
<g transform="translate(136.05,518.8)"><path d="M-8,0 A8,8 0 0 1 8,0Z" fill="#e5e5e5"/><path d="M-5.6,0 A5.6,5.6 0 0 1 5.6,0Z" fill="#f4f4f4"/><path d="M-8,0 A8,8 0 0 0 8,0Z" fill="#c5c5c5"/><circle r="3.55" fill="#3a3a3a" stroke="#222" stroke-width="0.9"/></g>
<g transform="translate(160.0,518.8)"><path d="M-7.3,0 A7.3,7.3 0 0 1 7.3,0Z" fill="#a2e8a2"/><path d="M-7.3,0 A7.3,7.3 0 0 0 7.3,0Z" fill="#80d880"/><circle r="3.6" fill="#2c5a2c" stroke="#1c3a1c" stroke-width="0.9"/></g>
<g transform="translate(183.95,518.8)"><path d="M-8,0 A8,8 0 0 1 8,0Z" fill="#e5e5e5"/><path d="M-5.6,0 A5.6,5.6 0 0 1 5.6,0Z" fill="#f4f4f4"/><path d="M-8,0 A8,8 0 0 0 8,0Z" fill="#c5c5c5"/><circle r="3.55" fill="#3a3a3a" stroke="#222" stroke-width="0.9"/></g>
<g transform="translate(207.9,518.8)"><path d="M-8,0 A8,8 0 0 1 8,0Z" fill="#e5e5e5"/><path d="M-5.6,0 A5.6,5.6 0 0 1 5.6,0Z" fill="#f4f4f4"/><path d="M-8,0 A8,8 0 0 0 8,0Z" fill="#c5c5c5"/><circle r="3.55" fill="#3a3a3a" stroke="#222" stroke-width="0.9"/></g>
<g transform="translate(231.85,518.8)"><path d="M-8,0 A8,8 0 0 1 8,0Z" fill="#e5e5e5"/><path d="M-5.6,0 A5.6,5.6 0 0 1 5.6,0Z" fill="#f4f4f4"/><path d="M-8,0 A8,8 0 0 0 8,0Z" fill="#c5c5c5"/><circle r="3.55" fill="#3a3a3a" stroke="#222" stroke-width="0.9"/></g>
<g transform="translate(255.8,518.8)"><path d="M-7.3,0 A7.3,7.3 0 0 1 7.3,0Z" fill="#a2e8a2"/><path d="M-7.3,0 A7.3,7.3 0 0 0 7.3,0Z" fill="#80d880"/><circle r="3.6" fill="#2c5a2c" stroke="#1c3a1c" stroke-width="0.9"/></g>
<g transform="translate(279.75,518.8)"><path d="M-8,0 A8,8 0 0 1 8,0Z" fill="#e5e5e5"/><path d="M-5.6,0 A5.6,5.6 0 0 1 5.6,0Z" fill="#f4f4f4"/><path d="M-8,0 A8,8 0 0 0 8,0Z" fill="#c5c5c5"/><circle r="3.55" fill="#3a3a3a" stroke="#222" stroke-width="0.9"/></g>
<g transform="translate(303.7,518.8)"><path d="M-8,0 A8,8 0 0 1 8,0Z" fill="#e5e5e5"/><path d="M-5.6,0 A5.6,5.6 0 0 1 5.6,0Z" fill="#f4f4f4"/><path d="M-8,0 A8,8 0 0 0 8,0Z" fill="#c5c5c5"/><circle r="3.55" fill="#3a3a3a" stroke="#222" stroke-width="0.9"/></g>
<g transform="translate(327.65,518.8)"><path d="M-7.3,0 A7.3,7.3 0 0 1 7.3,0Z" fill="#a2e8a2"/><path d="M-7.3,0 A7.3,7.3 0 0 0 7.3,0Z" fill="#80d880"/><circle r="3.6" fill="#2c5a2c" stroke="#1c3a1c" stroke-width="0.9"/></g>
<g transform="translate(351.6,518.8)"><path d="M-8,0 A8,8 0 0 1 8,0Z" fill="#e5e5e5"/><path d="M-5.6,0 A5.6,5.6 0 0 1 5.6,0Z" fill="#f4f4f4"/><path d="M-8,0 A8,8 0 0 0 8,0Z" fill="#c5c5c5"/><circle r="3.55" fill="#3a3a3a" stroke="#222" stroke-width="0.9"/></g>
<g transform="translate(375.55,518.8)"><path d="M-8,0 A8,8 0 0 1 8,0Z" fill="#e5e5e5"/><path d="M-5.6,0 A5.6,5.6 0 0 1 5.6,0Z" fill="#f4f4f4"/><path d="M-8,0 A8,8 0 0 0 8,0Z" fill="#c5c5c5"/><circle r="3.55" fill="#3a3a3a" stroke="#222" stroke-width="0.9"/></g>
<g transform="translate(399.5,518.8)"><path d="M-8,0 A8,8 0 0 1 8,0Z" fill="#e5e5e5"/><path d="M-5.6,0 A5.6,5.6 0 0 1 5.6,0Z" fill="#f4f4f4"/><path d="M-8,0 A8,8 0 0 0 8,0Z" fill="#c5c5c5"/><circle r="3.55" fill="#3a3a3a" stroke="#222" stroke-width="0.9"/></g>
<g transform="translate(423.45,518.8)"><path d="M-7.3,0 A7.3,7.3 0 0 1 7.3,0Z" fill="#a2e8a2"/><path d="M-7.3,0 A7.3,7.3 0 0 0 7.3,0Z" fill="#80d880"/><circle r="3.6" fill="#2c5a2c" stroke="#1c3a1c" stroke-width="0.9"/></g>
<g transform="translate(447.4,518.8)"><path d="M-7.3,0 A7.3,7.3 0 0 1 7.3,0Z" fill="#a2e8a2"/><path d="M-7.3,0 A7.3,7.3 0 0 0 7.3,0Z" fill="#80d880"/><circle r="3.6" fill="#2c5a2c" stroke="#1c3a1c" stroke-width="0.9"/></g>
<g transform="translate(471.35,518.8)"><path d="M-7.3,0 A7.3,7.3 0 0 1 7.3,0Z" fill="#a2e8a2"/><path d="M-7.3,0 A7.3,7.3 0 0 0 7.3,0Z" fill="#80d880"/><circle r="3.6" fill="#2c5a2c" stroke="#1c3a1c" stroke-width="0.9"/></g>
<g transform="translate(495.3,518.8)"><path d="M-7.3,0 A7.3,7.3 0 0 1 7.3,0Z" fill="#a2e8a2"/><path d="M-7.3,0 A7.3,7.3 0 0 0 7.3,0Z" fill="#80d880"/><circle r="3.6" fill="#2c5a2c" stroke="#1c3a1c" stroke-width="0.9"/></g>
<g transform="translate(519.25,518.8)"><path d="M-7.3,0 A7.3,7.3 0 0 1 7.3,0Z" fill="#a2e8a2"/><path d="M-7.3,0 A7.3,7.3 0 0 0 7.3,0Z" fill="#80d880"/><circle r="3.6" fill="#2c5a2c" stroke="#1c3a1c" stroke-width="0.9"/></g>
<g transform="translate(543.2,518.8)"><path d="M-8,0 A8,8 0 0 1 8,0Z" fill="#e5e5e5"/><path d="M-5.6,0 A5.6,5.6 0 0 1 5.6,0Z" fill="#f4f4f4"/><path d="M-8,0 A8,8 0 0 0 8,0Z" fill="#c5c5c5"/><circle r="3.55" fill="#3a3a3a" stroke="#222" stroke-width="0.9"/></g>
<g transform="translate(567.15,518.8)"><path d="M-8,0 A8,8 0 0 1 8,0Z" fill="#e5e5e5"/><path d="M-5.6,0 A5.6,5.6 0 0 1 5.6,0Z" fill="#f4f4f4"/><path d="M-8,0 A8,8 0 0 0 8,0Z" fill="#c5c5c5"/><circle r="3.55" fill="#3a3a3a" stroke="#222" stroke-width="0.9"/></g>
<g transform="translate(591.1,518.8)"><path d="M-8,0 A8,8 0 0 1 8,0Z" fill="#e5e5e5"/><path d="M-5.6,0 A5.6,5.6 0 0 1 5.6,0Z" fill="#f4f4f4"/><path d="M-8,0 A8,8 0 0 0 8,0Z" fill="#c5c5c5"/><circle r="3.55" fill="#3a3a3a" stroke="#222" stroke-width="0.9"/></g>
<g transform="translate(16.3,542.7)"><path d="M-8,0 A8,8 0 0 1 8,0Z" fill="#e5e5e5"/><path d="M-5.6,0 A5.6,5.6 0 0 1 5.6,0Z" fill="#f4f4f4"/><path d="M-8,0 A8,8 0 0 0 8,0Z" fill="#c5c5c5"/><circle r="3.55" fill="#3a3a3a" stroke="#222" stroke-width="0.9"/></g>
<g transform="translate(40.25,542.7)"><path d="M-8,0 A8,8 0 0 1 8,0Z" fill="#e5e5e5"/><path d="M-5.6,0 A5.6,5.6 0 0 1 5.6,0Z" fill="#f4f4f4"/><path d="M-8,0 A8,8 0 0 0 8,0Z" fill="#c5c5c5"/><circle r="3.55" fill="#3a3a3a" stroke="#222" stroke-width="0.9"/></g>
<g transform="translate(64.2,542.7)"><path d="M-8,0 A8,8 0 0 1 8,0Z" fill="#e5e5e5"/><path d="M-5.6,0 A5.6,5.6 0 0 1 5.6,0Z" fill="#f4f4f4"/><path d="M-8,0 A8,8 0 0 0 8,0Z" fill="#c5c5c5"/><circle r="3.55" fill="#3a3a3a" stroke="#222" stroke-width="0.9"/></g>
<g transform="translate(88.15,542.7)"><path d="M-8,0 A8,8 0 0 1 8,0Z" fill="#e5e5e5"/><path d="M-5.6,0 A5.6,5.6 0 0 1 5.6,0Z" fill="#f4f4f4"/><path d="M-8,0 A8,8 0 0 0 8,0Z" fill="#c5c5c5"/><circle r="3.55" fill="#3a3a3a" stroke="#222" stroke-width="0.9"/></g>
<g transform="translate(112.1,542.7)"><path d="M-8,0 A8,8 0 0 1 8,0Z" fill="#e5e5e5"/><path d="M-5.6,0 A5.6,5.6 0 0 1 5.6,0Z" fill="#f4f4f4"/><path d="M-8,0 A8,8 0 0 0 8,0Z" fill="#c5c5c5"/><circle r="3.55" fill="#3a3a3a" stroke="#222" stroke-width="0.9"/></g>
<g transform="translate(136.05,542.7)"><path d="M-8,0 A8,8 0 0 1 8,0Z" fill="#e5e5e5"/><path d="M-5.6,0 A5.6,5.6 0 0 1 5.6,0Z" fill="#f4f4f4"/><path d="M-8,0 A8,8 0 0 0 8,0Z" fill="#c5c5c5"/><circle r="3.55" fill="#3a3a3a" stroke="#222" stroke-width="0.9"/></g>
<g transform="translate(160.0,542.7)"><path d="M-7.3,0 A7.3,7.3 0 0 1 7.3,0Z" fill="#a2e8a2"/><path d="M-7.3,0 A7.3,7.3 0 0 0 7.3,0Z" fill="#80d880"/><circle r="3.6" fill="#2c5a2c" stroke="#1c3a1c" stroke-width="0.9"/></g>
<g transform="translate(183.95,542.7)"><path d="M-8,0 A8,8 0 0 1 8,0Z" fill="#e5e5e5"/><path d="M-5.6,0 A5.6,5.6 0 0 1 5.6,0Z" fill="#f4f4f4"/><path d="M-8,0 A8,8 0 0 0 8,0Z" fill="#c5c5c5"/><circle r="3.55" fill="#3a3a3a" stroke="#222" stroke-width="0.9"/></g>
<g transform="translate(207.9,542.7)"><path d="M-8,0 A8,8 0 0 1 8,0Z" fill="#e5e5e5"/><path d="M-5.6,0 A5.6,5.6 0 0 1 5.6,0Z" fill="#f4f4f4"/><path d="M-8,0 A8,8 0 0 0 8,0Z" fill="#c5c5c5"/><circle r="3.55" fill="#3a3a3a" stroke="#222" stroke-width="0.9"/></g>
<g transform="translate(231.85,542.7)"><path d="M-8,0 A8,8 0 0 1 8,0Z" fill="#e5e5e5"/><path d="M-5.6,0 A5.6,5.6 0 0 1 5.6,0Z" fill="#f4f4f4"/><path d="M-8,0 A8,8 0 0 0 8,0Z" fill="#c5c5c5"/><circle r="3.55" fill="#3a3a3a" stroke="#222" stroke-width="0.9"/></g>
<g transform="translate(255.8,542.7)"><path d="M-7.3,0 A7.3,7.3 0 0 1 7.3,0Z" fill="#a2e8a2"/><path d="M-7.3,0 A7.3,7.3 0 0 0 7.3,0Z" fill="#80d880"/><circle r="3.6" fill="#2c5a2c" stroke="#1c3a1c" stroke-width="0.9"/></g>
<g transform="translate(279.75,542.7)"><path d="M-8,0 A8,8 0 0 1 8,0Z" fill="#e5e5e5"/><path d="M-5.6,0 A5.6,5.6 0 0 1 5.6,0Z" fill="#f4f4f4"/><path d="M-8,0 A8,8 0 0 0 8,0Z" fill="#c5c5c5"/><circle r="3.55" fill="#3a3a3a" stroke="#222" stroke-width="0.9"/></g>
<g transform="translate(303.7,542.7)"><path d="M-8,0 A8,8 0 0 1 8,0Z" fill="#e5e5e5"/><path d="M-5.6,0 A5.6,5.6 0 0 1 5.6,0Z" fill="#f4f4f4"/><path d="M-8,0 A8,8 0 0 0 8,0Z" fill="#c5c5c5"/><circle r="3.55" fill="#3a3a3a" stroke="#222" stroke-width="0.9"/></g>
<g transform="translate(327.65,542.7)"><path d="M-7.3,0 A7.3,7.3 0 0 1 7.3,0Z" fill="#a2e8a2"/><path d="M-7.3,0 A7.3,7.3 0 0 0 7.3,0Z" fill="#80d880"/><circle r="3.6" fill="#2c5a2c" stroke="#1c3a1c" stroke-width="0.9"/></g>
<g transform="translate(351.6,542.7)"><path d="M-8,0 A8,8 0 0 1 8,0Z" fill="#e5e5e5"/><path d="M-5.6,0 A5.6,5.6 0 0 1 5.6,0Z" fill="#f4f4f4"/><path d="M-8,0 A8,8 0 0 0 8,0Z" fill="#c5c5c5"/><circle r="3.55" fill="#3a3a3a" stroke="#222" stroke-width="0.9"/></g>
<g transform="translate(375.55,542.7)"><path d="M-8,0 A8,8 0 0 1 8,0Z" fill="#e5e5e5"/><path d="M-5.6,0 A5.6,5.6 0 0 1 5.6,0Z" fill="#f4f4f4"/><path d="M-8,0 A8,8 0 0 0 8,0Z" fill="#c5c5c5"/><circle r="3.55" fill="#3a3a3a" stroke="#222" stroke-width="0.9"/></g>
<g transform="translate(399.5,542.7)"><path d="M-8,0 A8,8 0 0 1 8,0Z" fill="#e5e5e5"/><path d="M-5.6,0 A5.6,5.6 0 0 1 5.6,0Z" fill="#f4f4f4"/><path d="M-8,0 A8,8 0 0 0 8,0Z" fill="#c5c5c5"/><circle r="3.55" fill="#3a3a3a" stroke="#222" stroke-width="0.9"/></g>
<g transform="translate(423.45,542.7)"><path d="M-7.3,0 A7.3,7.3 0 0 1 7.3,0Z" fill="#a2e8a2"/><path d="M-7.3,0 A7.3,7.3 0 0 0 7.3,0Z" fill="#80d880"/><circle r="3.6" fill="#2c5a2c" stroke="#1c3a1c" stroke-width="0.9"/></g>
<g transform="translate(447.4,542.7)"><path d="M-7.3,0 A7.3,7.3 0 0 1 7.3,0Z" fill="#a2e8a2"/><path d="M-7.3,0 A7.3,7.3 0 0 0 7.3,0Z" fill="#80d880"/><circle r="3.6" fill="#2c5a2c" stroke="#1c3a1c" stroke-width="0.9"/></g>
<g transform="translate(471.35,542.7)"><path d="M-7.3,0 A7.3,7.3 0 0 1 7.3,0Z" fill="#a2e8a2"/><path d="M-7.3,0 A7.3,7.3 0 0 0 7.3,0Z" fill="#80d880"/><circle r="3.6" fill="#2c5a2c" stroke="#1c3a1c" stroke-width="0.9"/></g>
<g transform="translate(495.3,542.7)"><path d="M-7.3,0 A7.3,7.3 0 0 1 7.3,0Z" fill="#a2e8a2"/><path d="M-7.3,0 A7.3,7.3 0 0 0 7.3,0Z" fill="#80d880"/><circle r="3.6" fill="#2c5a2c" stroke="#1c3a1c" stroke-width="0.9"/></g>
<g transform="translate(519.25,542.7)"><path d="M-7.3,0 A7.3,7.3 0 0 1 7.3,0Z" fill="#a2e8a2"/><path d="M-7.3,0 A7.3,7.3 0 0 0 7.3,0Z" fill="#80d880"/><circle r="3.6" fill="#2c5a2c" stroke="#1c3a1c" stroke-width="0.9"/></g>
<g transform="translate(543.2,542.7)"><path d="M-8,0 A8,8 0 0 1 8,0Z" fill="#e5e5e5"/><path d="M-5.6,0 A5.6,5.6 0 0 1 5.6,0Z" fill="#f4f4f4"/><path d="M-8,0 A8,8 0 0 0 8,0Z" fill="#c5c5c5"/><circle r="3.55" fill="#3a3a3a" stroke="#222" stroke-width="0.9"/></g>
<g transform="translate(567.15,542.7)"><path d="M-8,0 A8,8 0 0 1 8,0Z" fill="#e5e5e5"/><path d="M-5.6,0 A5.6,5.6 0 0 1 5.6,0Z" fill="#f4f4f4"/><path d="M-8,0 A8,8 0 0 0 8,0Z" fill="#c5c5c5"/><circle r="3.55" fill="#3a3a3a" stroke="#222" stroke-width="0.9"/></g>
<g transform="translate(591.1,542.7)"><path d="M-8,0 A8,8 0 0 1 8,0Z" fill="#e5e5e5"/><path d="M-5.6,0 A5.6,5.6 0 0 1 5.6,0Z" fill="#f4f4f4"/><path d="M-8,0 A8,8 0 0 0 8,0Z" fill="#c5c5c5"/><circle r="3.55" fill="#3a3a3a" stroke="#222" stroke-width="0.9"/></g>
<g transform="translate(16.3,566.6)"><path d="M-8,0 A8,8 0 0 1 8,0Z" fill="#e5e5e5"/><path d="M-5.6,0 A5.6,5.6 0 0 1 5.6,0Z" fill="#f4f4f4"/><path d="M-8,0 A8,8 0 0 0 8,0Z" fill="#c5c5c5"/><circle r="3.55" fill="#3a3a3a" stroke="#222" stroke-width="0.9"/></g>
<g transform="translate(40.25,566.6)"><path d="M-8,0 A8,8 0 0 1 8,0Z" fill="#e5e5e5"/><path d="M-5.6,0 A5.6,5.6 0 0 1 5.6,0Z" fill="#f4f4f4"/><path d="M-8,0 A8,8 0 0 0 8,0Z" fill="#c5c5c5"/><circle r="3.55" fill="#3a3a3a" stroke="#222" stroke-width="0.9"/></g>
<g transform="translate(64.2,566.6)"><path d="M-8,0 A8,8 0 0 1 8,0Z" fill="#e5e5e5"/><path d="M-5.6,0 A5.6,5.6 0 0 1 5.6,0Z" fill="#f4f4f4"/><path d="M-8,0 A8,8 0 0 0 8,0Z" fill="#c5c5c5"/><circle r="3.55" fill="#3a3a3a" stroke="#222" stroke-width="0.9"/></g>
<g transform="translate(88.15,566.6)"><path d="M-8,0 A8,8 0 0 1 8,0Z" fill="#e5e5e5"/><path d="M-5.6,0 A5.6,5.6 0 0 1 5.6,0Z" fill="#f4f4f4"/><path d="M-8,0 A8,8 0 0 0 8,0Z" fill="#c5c5c5"/><circle r="3.55" fill="#3a3a3a" stroke="#222" stroke-width="0.9"/></g>
<g transform="translate(112.1,566.6)"><path d="M-8,0 A8,8 0 0 1 8,0Z" fill="#e5e5e5"/><path d="M-5.6,0 A5.6,5.6 0 0 1 5.6,0Z" fill="#f4f4f4"/><path d="M-8,0 A8,8 0 0 0 8,0Z" fill="#c5c5c5"/><circle r="3.55" fill="#3a3a3a" stroke="#222" stroke-width="0.9"/></g>
<g transform="translate(136.05,566.6)"><path d="M-8,0 A8,8 0 0 1 8,0Z" fill="#e5e5e5"/><path d="M-5.6,0 A5.6,5.6 0 0 1 5.6,0Z" fill="#f4f4f4"/><path d="M-8,0 A8,8 0 0 0 8,0Z" fill="#c5c5c5"/><circle r="3.55" fill="#3a3a3a" stroke="#222" stroke-width="0.9"/></g>
<g transform="translate(160.0,566.6)"><path d="M-7.3,0 A7.3,7.3 0 0 1 7.3,0Z" fill="#a2e8a2"/><path d="M-7.3,0 A7.3,7.3 0 0 0 7.3,0Z" fill="#80d880"/><circle r="3.6" fill="#2c5a2c" stroke="#1c3a1c" stroke-width="0.9"/></g>
<g transform="translate(183.95,566.6)"><path d="M-8,0 A8,8 0 0 1 8,0Z" fill="#e5e5e5"/><path d="M-5.6,0 A5.6,5.6 0 0 1 5.6,0Z" fill="#f4f4f4"/><path d="M-8,0 A8,8 0 0 0 8,0Z" fill="#c5c5c5"/><circle r="3.55" fill="#3a3a3a" stroke="#222" stroke-width="0.9"/></g>
<g transform="translate(207.9,566.6)"><path d="M-8,0 A8,8 0 0 1 8,0Z" fill="#e5e5e5"/><path d="M-5.6,0 A5.6,5.6 0 0 1 5.6,0Z" fill="#f4f4f4"/><path d="M-8,0 A8,8 0 0 0 8,0Z" fill="#c5c5c5"/><circle r="3.55" fill="#3a3a3a" stroke="#222" stroke-width="0.9"/></g>
<g transform="translate(231.85,566.6)"><path d="M-8,0 A8,8 0 0 1 8,0Z" fill="#e5e5e5"/><path d="M-5.6,0 A5.6,5.6 0 0 1 5.6,0Z" fill="#f4f4f4"/><path d="M-8,0 A8,8 0 0 0 8,0Z" fill="#c5c5c5"/><circle r="3.55" fill="#3a3a3a" stroke="#222" stroke-width="0.9"/></g>
<g transform="translate(255.8,566.6)"><path d="M-7.3,0 A7.3,7.3 0 0 1 7.3,0Z" fill="#a2e8a2"/><path d="M-7.3,0 A7.3,7.3 0 0 0 7.3,0Z" fill="#80d880"/><circle r="3.6" fill="#2c5a2c" stroke="#1c3a1c" stroke-width="0.9"/></g>
<g transform="translate(279.75,566.6)"><path d="M-8,0 A8,8 0 0 1 8,0Z" fill="#e5e5e5"/><path d="M-5.6,0 A5.6,5.6 0 0 1 5.6,0Z" fill="#f4f4f4"/><path d="M-8,0 A8,8 0 0 0 8,0Z" fill="#c5c5c5"/><circle r="3.55" fill="#3a3a3a" stroke="#222" stroke-width="0.9"/></g>
<g transform="translate(303.7,566.6)"><path d="M-8,0 A8,8 0 0 1 8,0Z" fill="#e5e5e5"/><path d="M-5.6,0 A5.6,5.6 0 0 1 5.6,0Z" fill="#f4f4f4"/><path d="M-8,0 A8,8 0 0 0 8,0Z" fill="#c5c5c5"/><circle r="3.55" fill="#3a3a3a" stroke="#222" stroke-width="0.9"/></g>
<g transform="translate(327.65,566.6)"><path d="M-7.3,0 A7.3,7.3 0 0 1 7.3,0Z" fill="#a2e8a2"/><path d="M-7.3,0 A7.3,7.3 0 0 0 7.3,0Z" fill="#80d880"/><circle r="3.6" fill="#2c5a2c" stroke="#1c3a1c" stroke-width="0.9"/></g>
<g transform="translate(351.6,566.6)"><path d="M-8,0 A8,8 0 0 1 8,0Z" fill="#e5e5e5"/><path d="M-5.6,0 A5.6,5.6 0 0 1 5.6,0Z" fill="#f4f4f4"/><path d="M-8,0 A8,8 0 0 0 8,0Z" fill="#c5c5c5"/><circle r="3.55" fill="#3a3a3a" stroke="#222" stroke-width="0.9"/></g>
<g transform="translate(375.55,566.6)"><path d="M-8,0 A8,8 0 0 1 8,0Z" fill="#e5e5e5"/><path d="M-5.6,0 A5.6,5.6 0 0 1 5.6,0Z" fill="#f4f4f4"/><path d="M-8,0 A8,8 0 0 0 8,0Z" fill="#c5c5c5"/><circle r="3.55" fill="#3a3a3a" stroke="#222" stroke-width="0.9"/></g>
<g transform="translate(399.5,566.6)"><path d="M-8,0 A8,8 0 0 1 8,0Z" fill="#e5e5e5"/><path d="M-5.6,0 A5.6,5.6 0 0 1 5.6,0Z" fill="#f4f4f4"/><path d="M-8,0 A8,8 0 0 0 8,0Z" fill="#c5c5c5"/><circle r="3.55" fill="#3a3a3a" stroke="#222" stroke-width="0.9"/></g>
<g transform="translate(423.45,566.6)"><path d="M-7.3,0 A7.3,7.3 0 0 1 7.3,0Z" fill="#a2e8a2"/><path d="M-7.3,0 A7.3,7.3 0 0 0 7.3,0Z" fill="#80d880"/><circle r="3.6" fill="#2c5a2c" stroke="#1c3a1c" stroke-width="0.9"/></g>
<g transform="translate(447.4,566.6)"><path d="M-7.3,0 A7.3,7.3 0 0 1 7.3,0Z" fill="#a2e8a2"/><path d="M-7.3,0 A7.3,7.3 0 0 0 7.3,0Z" fill="#80d880"/><circle r="3.6" fill="#2c5a2c" stroke="#1c3a1c" stroke-width="0.9"/></g>
<g transform="translate(471.35,566.6)"><path d="M-7.3,0 A7.3,7.3 0 0 1 7.3,0Z" fill="#a2e8a2"/><path d="M-7.3,0 A7.3,7.3 0 0 0 7.3,0Z" fill="#80d880"/><circle r="3.6" fill="#2c5a2c" stroke="#1c3a1c" stroke-width="0.9"/></g>
<g transform="translate(495.3,566.6)"><path d="M-7.3,0 A7.3,7.3 0 0 1 7.3,0Z" fill="#a2e8a2"/><path d="M-7.3,0 A7.3,7.3 0 0 0 7.3,0Z" fill="#80d880"/><circle r="3.6" fill="#2c5a2c" stroke="#1c3a1c" stroke-width="0.9"/></g>
<g transform="translate(519.25,566.6)"><path d="M-7.3,0 A7.3,7.3 0 0 1 7.3,0Z" fill="#a2e8a2"/><path d="M-7.3,0 A7.3,7.3 0 0 0 7.3,0Z" fill="#80d880"/><circle r="3.6" fill="#2c5a2c" stroke="#1c3a1c" stroke-width="0.9"/></g>
<g transform="translate(543.2,566.6)"><path d="M-8,0 A8,8 0 0 1 8,0Z" fill="#e5e5e5"/><path d="M-5.6,0 A5.6,5.6 0 0 1 5.6,0Z" fill="#f4f4f4"/><path d="M-8,0 A8,8 0 0 0 8,0Z" fill="#c5c5c5"/><circle r="3.55" fill="#3a3a3a" stroke="#222" stroke-width="0.9"/></g>
<g transform="translate(567.15,566.6)"><path d="M-8,0 A8,8 0 0 1 8,0Z" fill="#e5e5e5"/><path d="M-5.6,0 A5.6,5.6 0 0 1 5.6,0Z" fill="#f4f4f4"/><path d="M-8,0 A8,8 0 0 0 8,0Z" fill="#c5c5c5"/><circle r="3.55" fill="#3a3a3a" stroke="#222" stroke-width="0.9"/></g>
<g transform="translate(591.1,566.6)"><path d="M-8,0 A8,8 0 0 1 8,0Z" fill="#e5e5e5"/><path d="M-5.6,0 A5.6,5.6 0 0 1 5.6,0Z" fill="#f4f4f4"/><path d="M-8,0 A8,8 0 0 0 8,0Z" fill="#c5c5c5"/><circle r="3.55" fill="#3a3a3a" stroke="#222" stroke-width="0.9"/></g>
<g transform="translate(16.3,590.5)"><path d="M-8,0 A8,8 0 0 1 8,0Z" fill="#e5e5e5"/><path d="M-5.6,0 A5.6,5.6 0 0 1 5.6,0Z" fill="#f4f4f4"/><path d="M-8,0 A8,8 0 0 0 8,0Z" fill="#c5c5c5"/><circle r="3.55" fill="#3a3a3a" stroke="#222" stroke-width="0.9"/></g>
<g transform="translate(40.25,590.5)"><path d="M-8,0 A8,8 0 0 1 8,0Z" fill="#e5e5e5"/><path d="M-5.6,0 A5.6,5.6 0 0 1 5.6,0Z" fill="#f4f4f4"/><path d="M-8,0 A8,8 0 0 0 8,0Z" fill="#c5c5c5"/><circle r="3.55" fill="#3a3a3a" stroke="#222" stroke-width="0.9"/></g>
<g transform="translate(64.2,590.5)"><path d="M-8,0 A8,8 0 0 1 8,0Z" fill="#e5e5e5"/><path d="M-5.6,0 A5.6,5.6 0 0 1 5.6,0Z" fill="#f4f4f4"/><path d="M-8,0 A8,8 0 0 0 8,0Z" fill="#c5c5c5"/><circle r="3.55" fill="#3a3a3a" stroke="#222" stroke-width="0.9"/></g>
<g transform="translate(88.15,590.5)"><path d="M-8,0 A8,8 0 0 1 8,0Z" fill="#e5e5e5"/><path d="M-5.6,0 A5.6,5.6 0 0 1 5.6,0Z" fill="#f4f4f4"/><path d="M-8,0 A8,8 0 0 0 8,0Z" fill="#c5c5c5"/><circle r="3.55" fill="#3a3a3a" stroke="#222" stroke-width="0.9"/></g>
<g transform="translate(112.1,590.5)"><path d="M-8,0 A8,8 0 0 1 8,0Z" fill="#e5e5e5"/><path d="M-5.6,0 A5.6,5.6 0 0 1 5.6,0Z" fill="#f4f4f4"/><path d="M-8,0 A8,8 0 0 0 8,0Z" fill="#c5c5c5"/><circle r="3.55" fill="#3a3a3a" stroke="#222" stroke-width="0.9"/></g>
<g transform="translate(136.05,590.5)"><path d="M-8,0 A8,8 0 0 1 8,0Z" fill="#e5e5e5"/><path d="M-5.6,0 A5.6,5.6 0 0 1 5.6,0Z" fill="#f4f4f4"/><path d="M-8,0 A8,8 0 0 0 8,0Z" fill="#c5c5c5"/><circle r="3.55" fill="#3a3a3a" stroke="#222" stroke-width="0.9"/></g>
<g transform="translate(160.0,590.5)"><path d="M-7.3,0 A7.3,7.3 0 0 1 7.3,0Z" fill="#a2e8a2"/><path d="M-7.3,0 A7.3,7.3 0 0 0 7.3,0Z" fill="#80d880"/><circle r="3.6" fill="#2c5a2c" stroke="#1c3a1c" stroke-width="0.9"/></g>
<g transform="translate(183.95,590.5)"><path d="M-8,0 A8,8 0 0 1 8,0Z" fill="#e5e5e5"/><path d="M-5.6,0 A5.6,5.6 0 0 1 5.6,0Z" fill="#f4f4f4"/><path d="M-8,0 A8,8 0 0 0 8,0Z" fill="#c5c5c5"/><circle r="3.55" fill="#3a3a3a" stroke="#222" stroke-width="0.9"/></g>
<g transform="translate(207.9,590.5)"><path d="M-8,0 A8,8 0 0 1 8,0Z" fill="#e5e5e5"/><path d="M-5.6,0 A5.6,5.6 0 0 1 5.6,0Z" fill="#f4f4f4"/><path d="M-8,0 A8,8 0 0 0 8,0Z" fill="#c5c5c5"/><circle r="3.55" fill="#3a3a3a" stroke="#222" stroke-width="0.9"/></g>
<g transform="translate(231.85,590.5)"><path d="M-8,0 A8,8 0 0 1 8,0Z" fill="#e5e5e5"/><path d="M-5.6,0 A5.6,5.6 0 0 1 5.6,0Z" fill="#f4f4f4"/><path d="M-8,0 A8,8 0 0 0 8,0Z" fill="#c5c5c5"/><circle r="3.55" fill="#3a3a3a" stroke="#222" stroke-width="0.9"/></g>
<g transform="translate(255.8,590.5)"><path d="M-7.3,0 A7.3,7.3 0 0 1 7.3,0Z" fill="#a2e8a2"/><path d="M-7.3,0 A7.3,7.3 0 0 0 7.3,0Z" fill="#80d880"/><circle r="3.6" fill="#2c5a2c" stroke="#1c3a1c" stroke-width="0.9"/></g>
<g transform="translate(279.75,590.5)"><path d="M-8,0 A8,8 0 0 1 8,0Z" fill="#e5e5e5"/><path d="M-5.6,0 A5.6,5.6 0 0 1 5.6,0Z" fill="#f4f4f4"/><path d="M-8,0 A8,8 0 0 0 8,0Z" fill="#c5c5c5"/><circle r="3.55" fill="#3a3a3a" stroke="#222" stroke-width="0.9"/></g>
<g transform="translate(303.7,590.5)"><path d="M-8,0 A8,8 0 0 1 8,0Z" fill="#e5e5e5"/><path d="M-5.6,0 A5.6,5.6 0 0 1 5.6,0Z" fill="#f4f4f4"/><path d="M-8,0 A8,8 0 0 0 8,0Z" fill="#c5c5c5"/><circle r="3.55" fill="#3a3a3a" stroke="#222" stroke-width="0.9"/></g>
<g transform="translate(327.65,590.5)"><path d="M-7.3,0 A7.3,7.3 0 0 1 7.3,0Z" fill="#a2e8a2"/><path d="M-7.3,0 A7.3,7.3 0 0 0 7.3,0Z" fill="#80d880"/><circle r="3.6" fill="#2c5a2c" stroke="#1c3a1c" stroke-width="0.9"/></g>
<g transform="translate(351.6,590.5)"><path d="M-8,0 A8,8 0 0 1 8,0Z" fill="#e5e5e5"/><path d="M-5.6,0 A5.6,5.6 0 0 1 5.6,0Z" fill="#f4f4f4"/><path d="M-8,0 A8,8 0 0 0 8,0Z" fill="#c5c5c5"/><circle r="3.55" fill="#3a3a3a" stroke="#222" stroke-width="0.9"/></g>
<g transform="translate(375.55,590.5)"><path d="M-8,0 A8,8 0 0 1 8,0Z" fill="#e5e5e5"/><path d="M-5.6,0 A5.6,5.6 0 0 1 5.6,0Z" fill="#f4f4f4"/><path d="M-8,0 A8,8 0 0 0 8,0Z" fill="#c5c5c5"/><circle r="3.55" fill="#3a3a3a" stroke="#222" stroke-width="0.9"/></g>
<g transform="translate(399.5,590.5)"><path d="M-8,0 A8,8 0 0 1 8,0Z" fill="#e5e5e5"/><path d="M-5.6,0 A5.6,5.6 0 0 1 5.6,0Z" fill="#f4f4f4"/><path d="M-8,0 A8,8 0 0 0 8,0Z" fill="#c5c5c5"/><circle r="3.55" fill="#3a3a3a" stroke="#222" stroke-width="0.9"/></g>
<g transform="translate(423.45,590.5)"><path d="M-7.3,0 A7.3,7.3 0 0 1 7.3,0Z" fill="#a2e8a2"/><path d="M-7.3,0 A7.3,7.3 0 0 0 7.3,0Z" fill="#80d880"/><circle r="3.6" fill="#2c5a2c" stroke="#1c3a1c" stroke-width="0.9"/></g>
<g transform="translate(447.4,590.5)"><path d="M-7.3,0 A7.3,7.3 0 0 1 7.3,0Z" fill="#a2e8a2"/><path d="M-7.3,0 A7.3,7.3 0 0 0 7.3,0Z" fill="#80d880"/><circle r="3.6" fill="#2c5a2c" stroke="#1c3a1c" stroke-width="0.9"/></g>
<g transform="translate(471.35,590.5)"><path d="M-7.3,0 A7.3,7.3 0 0 1 7.3,0Z" fill="#a2e8a2"/><path d="M-7.3,0 A7.3,7.3 0 0 0 7.3,0Z" fill="#80d880"/><circle r="3.6" fill="#2c5a2c" stroke="#1c3a1c" stroke-width="0.9"/></g>
<g transform="translate(495.3,590.5)"><path d="M-7.3,0 A7.3,7.3 0 0 1 7.3,0Z" fill="#a2e8a2"/><path d="M-7.3,0 A7.3,7.3 0 0 0 7.3,0Z" fill="#80d880"/><circle r="3.6" fill="#2c5a2c" stroke="#1c3a1c" stroke-width="0.9"/></g>
<g transform="translate(519.25,590.5)"><path d="M-7.3,0 A7.3,7.3 0 0 1 7.3,0Z" fill="#a2e8a2"/><path d="M-7.3,0 A7.3,7.3 0 0 0 7.3,0Z" fill="#80d880"/><circle r="3.6" fill="#2c5a2c" stroke="#1c3a1c" stroke-width="0.9"/></g>
<g transform="translate(543.2,590.5)"><path d="M-8,0 A8,8 0 0 1 8,0Z" fill="#e5e5e5"/><path d="M-5.6,0 A5.6,5.6 0 0 1 5.6,0Z" fill="#f4f4f4"/><path d="M-8,0 A8,8 0 0 0 8,0Z" fill="#c5c5c5"/><circle r="3.55" fill="#3a3a3a" stroke="#222" stroke-width="0.9"/></g>
<g transform="translate(567.15,590.5)"><path d="M-8,0 A8,8 0 0 1 8,0Z" fill="#e5e5e5"/><path d="M-5.6,0 A5.6,5.6 0 0 1 5.6,0Z" fill="#f4f4f4"/><path d="M-8,0 A8,8 0 0 0 8,0Z" fill="#c5c5c5"/><circle r="3.55" fill="#3a3a3a" stroke="#222" stroke-width="0.9"/></g>
<g transform="translate(591.1,590.5)"><path d="M-8,0 A8,8 0 0 1 8,0Z" fill="#e5e5e5"/><path d="M-5.6,0 A5.6,5.6 0 0 1 5.6,0Z" fill="#f4f4f4"/><path d="M-8,0 A8,8 0 0 0 8,0Z" fill="#c5c5c5"/><circle r="3.55" fill="#3a3a3a" stroke="#222" stroke-width="0.9"/></g>
<g transform="translate(16.3,351)"><path d="M-7.3,0 A7.3,7.3 0 0 1 7.3,0Z" fill="#a2e8a2"/><path d="M-7.3,0 A7.3,7.3 0 0 0 7.3,0Z" fill="#80d880"/><circle r="3.6" fill="#2c5a2c" stroke="#1c3a1c" stroke-width="0.9"/></g>
<g transform="translate(40.25,351)"><path d="M-7.3,0 A7.3,7.3 0 0 1 7.3,0Z" fill="#a2e8a2"/><path d="M-7.3,0 A7.3,7.3 0 0 0 7.3,0Z" fill="#80d880"/><circle r="3.6" fill="#2c5a2c" stroke="#1c3a1c" stroke-width="0.9"/></g>
<g transform="translate(88.15,351)"><path d="M-7.3,0 A7.3,7.3 0 0 1 7.3,0Z" fill="#a2e8a2"/><path d="M-7.3,0 A7.3,7.3 0 0 0 7.3,0Z" fill="#80d880"/><circle r="3.6" fill="#2c5a2c" stroke="#1c3a1c" stroke-width="0.9"/></g>
<g transform="translate(112.1,351)"><path d="M-7.3,0 A7.3,7.3 0 0 1 7.3,0Z" fill="#a2e8a2"/><path d="M-7.3,0 A7.3,7.3 0 0 0 7.3,0Z" fill="#80d880"/><circle r="3.6" fill="#2c5a2c" stroke="#1c3a1c" stroke-width="0.9"/></g>
<g transform="translate(136.05,351)"><path d="M-7.3,0 A7.3,7.3 0 0 1 7.3,0Z" fill="#a2e8a2"/><path d="M-7.3,0 A7.3,7.3 0 0 0 7.3,0Z" fill="#80d880"/><circle r="3.6" fill="#2c5a2c" stroke="#1c3a1c" stroke-width="0.9"/></g>
<g transform="translate(160.0,351)"><path d="M-7.3,0 A7.3,7.3 0 0 1 7.3,0Z" fill="#a2e8a2"/><path d="M-7.3,0 A7.3,7.3 0 0 0 7.3,0Z" fill="#80d880"/><circle r="3.6" fill="#2c5a2c" stroke="#1c3a1c" stroke-width="0.9"/></g>
<g transform="translate(183.95,351)"><path d="M-7.3,0 A7.3,7.3 0 0 1 7.3,0Z" fill="#a2e8a2"/><path d="M-7.3,0 A7.3,7.3 0 0 0 7.3,0Z" fill="#80d880"/><circle r="3.6" fill="#2c5a2c" stroke="#1c3a1c" stroke-width="0.9"/></g>
<g transform="translate(231.85,351)"><path d="M-7.3,0 A7.3,7.3 0 0 1 7.3,0Z" fill="#a2e8a2"/><path d="M-7.3,0 A7.3,7.3 0 0 0 7.3,0Z" fill="#80d880"/><circle r="3.6" fill="#2c5a2c" stroke="#1c3a1c" stroke-width="0.9"/></g>
<g transform="translate(255.8,351)"><path d="M-7.3,0 A7.3,7.3 0 0 1 7.3,0Z" fill="#a2e8a2"/><path d="M-7.3,0 A7.3,7.3 0 0 0 7.3,0Z" fill="#80d880"/><circle r="3.6" fill="#2c5a2c" stroke="#1c3a1c" stroke-width="0.9"/></g>
<g transform="translate(279.75,351)"><path d="M-7.3,0 A7.3,7.3 0 0 1 7.3,0Z" fill="#a2e8a2"/><path d="M-7.3,0 A7.3,7.3 0 0 0 7.3,0Z" fill="#80d880"/><circle r="3.6" fill="#2c5a2c" stroke="#1c3a1c" stroke-width="0.9"/></g>
<g transform="translate(303.7,351)"><path d="M-7.3,0 A7.3,7.3 0 0 1 7.3,0Z" fill="#a2e8a2"/><path d="M-7.3,0 A7.3,7.3 0 0 0 7.3,0Z" fill="#80d880"/><circle r="3.6" fill="#2c5a2c" stroke="#1c3a1c" stroke-width="0.9"/></g>
<g transform="translate(327.65,351)"><path d="M-7.3,0 A7.3,7.3 0 0 1 7.3,0Z" fill="#a2e8a2"/><path d="M-7.3,0 A7.3,7.3 0 0 0 7.3,0Z" fill="#80d880"/><circle r="3.6" fill="#2c5a2c" stroke="#1c3a1c" stroke-width="0.9"/></g>
<g transform="translate(375.55,351)"><path d="M-7.3,0 A7.3,7.3 0 0 1 7.3,0Z" fill="#a2e8a2"/><path d="M-7.3,0 A7.3,7.3 0 0 0 7.3,0Z" fill="#80d880"/><circle r="3.6" fill="#2c5a2c" stroke="#1c3a1c" stroke-width="0.9"/></g>
<g transform="translate(399.5,351)"><path d="M-7.3,0 A7.3,7.3 0 0 1 7.3,0Z" fill="#a2e8a2"/><path d="M-7.3,0 A7.3,7.3 0 0 0 7.3,0Z" fill="#80d880"/><circle r="3.6" fill="#2c5a2c" stroke="#1c3a1c" stroke-width="0.9"/></g>
<g transform="translate(423.45,351)"><path d="M-7.3,0 A7.3,7.3 0 0 1 7.3,0Z" fill="#a2e8a2"/><path d="M-7.3,0 A7.3,7.3 0 0 0 7.3,0Z" fill="#80d880"/><circle r="3.6" fill="#2c5a2c" stroke="#1c3a1c" stroke-width="0.9"/></g>
<g transform="translate(447.4,351)"><path d="M-7.3,0 A7.3,7.3 0 0 1 7.3,0Z" fill="#a2e8a2"/><path d="M-7.3,0 A7.3,7.3 0 0 0 7.3,0Z" fill="#80d880"/><circle r="3.6" fill="#2c5a2c" stroke="#1c3a1c" stroke-width="0.9"/></g>
<g transform="translate(471.35,351)"><path d="M-7.3,0 A7.3,7.3 0 0 1 7.3,0Z" fill="#a2e8a2"/><path d="M-7.3,0 A7.3,7.3 0 0 0 7.3,0Z" fill="#80d880"/><circle r="3.6" fill="#2c5a2c" stroke="#1c3a1c" stroke-width="0.9"/></g>
<g transform="translate(519.25,351)"><path d="M-7.3,0 A7.3,7.3 0 0 1 7.3,0Z" fill="#a2e8a2"/><path d="M-7.3,0 A7.3,7.3 0 0 0 7.3,0Z" fill="#80d880"/><circle r="3.6" fill="#2c5a2c" stroke="#1c3a1c" stroke-width="0.9"/></g>
<g transform="translate(543.2,351)"><path d="M-7.3,0 A7.3,7.3 0 0 1 7.3,0Z" fill="#a2e8a2"/><path d="M-7.3,0 A7.3,7.3 0 0 0 7.3,0Z" fill="#80d880"/><circle r="3.6" fill="#2c5a2c" stroke="#1c3a1c" stroke-width="0.9"/></g>
<g transform="translate(567.15,351)"><path d="M-7.3,0 A7.3,7.3 0 0 1 7.3,0Z" fill="#a2e8a2"/><path d="M-7.3,0 A7.3,7.3 0 0 0 7.3,0Z" fill="#80d880"/><circle r="3.6" fill="#2c5a2c" stroke="#1c3a1c" stroke-width="0.9"/></g>
<g transform="translate(591.1,351)"><path d="M-7.3,0 A7.3,7.3 0 0 1 7.3,0Z" fill="#a2e8a2"/><path d="M-7.3,0 A7.3,7.3 0 0 0 7.3,0Z" fill="#80d880"/><circle r="3.6" fill="#2c5a2c" stroke="#1c3a1c" stroke-width="0.9"/></g>
<g transform="translate(16.3,374.9)"><path d="M-7.3,0 A7.3,7.3 0 0 1 7.3,0Z" fill="#a2e8a2"/><path d="M-7.3,0 A7.3,7.3 0 0 0 7.3,0Z" fill="#80d880"/><circle r="3.6" fill="#2c5a2c" stroke="#1c3a1c" stroke-width="0.9"/></g>
<g transform="translate(40.25,374.9)"><path d="M-7.3,0 A7.3,7.3 0 0 1 7.3,0Z" fill="#a2e8a2"/><path d="M-7.3,0 A7.3,7.3 0 0 0 7.3,0Z" fill="#80d880"/><circle r="3.6" fill="#2c5a2c" stroke="#1c3a1c" stroke-width="0.9"/></g>
<g transform="translate(88.15,374.9)"><path d="M-7.3,0 A7.3,7.3 0 0 1 7.3,0Z" fill="#a2e8a2"/><path d="M-7.3,0 A7.3,7.3 0 0 0 7.3,0Z" fill="#80d880"/><circle r="3.6" fill="#2c5a2c" stroke="#1c3a1c" stroke-width="0.9"/></g>
<g transform="translate(112.1,374.9)"><path d="M-7.3,0 A7.3,7.3 0 0 1 7.3,0Z" fill="#a2e8a2"/><path d="M-7.3,0 A7.3,7.3 0 0 0 7.3,0Z" fill="#80d880"/><circle r="3.6" fill="#2c5a2c" stroke="#1c3a1c" stroke-width="0.9"/></g>
<g transform="translate(136.05,374.9)"><path d="M-7.3,0 A7.3,7.3 0 0 1 7.3,0Z" fill="#a2e8a2"/><path d="M-7.3,0 A7.3,7.3 0 0 0 7.3,0Z" fill="#80d880"/><circle r="3.6" fill="#2c5a2c" stroke="#1c3a1c" stroke-width="0.9"/></g>
<g transform="translate(160.0,374.9)"><path d="M-7.3,0 A7.3,7.3 0 0 1 7.3,0Z" fill="#a2e8a2"/><path d="M-7.3,0 A7.3,7.3 0 0 0 7.3,0Z" fill="#80d880"/><circle r="3.6" fill="#2c5a2c" stroke="#1c3a1c" stroke-width="0.9"/></g>
<g transform="translate(183.95,374.9)"><path d="M-7.3,0 A7.3,7.3 0 0 1 7.3,0Z" fill="#a2e8a2"/><path d="M-7.3,0 A7.3,7.3 0 0 0 7.3,0Z" fill="#80d880"/><circle r="3.6" fill="#2c5a2c" stroke="#1c3a1c" stroke-width="0.9"/></g>
<g transform="translate(231.85,374.9)"><path d="M-7.3,0 A7.3,7.3 0 0 1 7.3,0Z" fill="#a2e8a2"/><path d="M-7.3,0 A7.3,7.3 0 0 0 7.3,0Z" fill="#80d880"/><circle r="3.6" fill="#2c5a2c" stroke="#1c3a1c" stroke-width="0.9"/></g>
<g transform="translate(255.8,374.9)"><path d="M-7.3,0 A7.3,7.3 0 0 1 7.3,0Z" fill="#a2e8a2"/><path d="M-7.3,0 A7.3,7.3 0 0 0 7.3,0Z" fill="#80d880"/><circle r="3.6" fill="#2c5a2c" stroke="#1c3a1c" stroke-width="0.9"/></g>
<g transform="translate(279.75,374.9)"><path d="M-7.3,0 A7.3,7.3 0 0 1 7.3,0Z" fill="#a2e8a2"/><path d="M-7.3,0 A7.3,7.3 0 0 0 7.3,0Z" fill="#80d880"/><circle r="3.6" fill="#2c5a2c" stroke="#1c3a1c" stroke-width="0.9"/></g>
<g transform="translate(303.7,374.9)"><path d="M-7.3,0 A7.3,7.3 0 0 1 7.3,0Z" fill="#a2e8a2"/><path d="M-7.3,0 A7.3,7.3 0 0 0 7.3,0Z" fill="#80d880"/><circle r="3.6" fill="#2c5a2c" stroke="#1c3a1c" stroke-width="0.9"/></g>
<g transform="translate(327.65,374.9)"><path d="M-7.3,0 A7.3,7.3 0 0 1 7.3,0Z" fill="#a2e8a2"/><path d="M-7.3,0 A7.3,7.3 0 0 0 7.3,0Z" fill="#80d880"/><circle r="3.6" fill="#2c5a2c" stroke="#1c3a1c" stroke-width="0.9"/></g>
<g transform="translate(375.55,374.9)"><path d="M-7.3,0 A7.3,7.3 0 0 1 7.3,0Z" fill="#a2e8a2"/><path d="M-7.3,0 A7.3,7.3 0 0 0 7.3,0Z" fill="#80d880"/><circle r="3.6" fill="#2c5a2c" stroke="#1c3a1c" stroke-width="0.9"/></g>
<g transform="translate(399.5,374.9)"><path d="M-7.3,0 A7.3,7.3 0 0 1 7.3,0Z" fill="#a2e8a2"/><path d="M-7.3,0 A7.3,7.3 0 0 0 7.3,0Z" fill="#80d880"/><circle r="3.6" fill="#2c5a2c" stroke="#1c3a1c" stroke-width="0.9"/></g>
<g transform="translate(423.45,374.9)"><path d="M-7.3,0 A7.3,7.3 0 0 1 7.3,0Z" fill="#a2e8a2"/><path d="M-7.3,0 A7.3,7.3 0 0 0 7.3,0Z" fill="#80d880"/><circle r="3.6" fill="#2c5a2c" stroke="#1c3a1c" stroke-width="0.9"/></g>
<g transform="translate(447.4,374.9)"><path d="M-7.3,0 A7.3,7.3 0 0 1 7.3,0Z" fill="#a2e8a2"/><path d="M-7.3,0 A7.3,7.3 0 0 0 7.3,0Z" fill="#80d880"/><circle r="3.6" fill="#2c5a2c" stroke="#1c3a1c" stroke-width="0.9"/></g>
<g transform="translate(471.35,374.9)"><path d="M-7.3,0 A7.3,7.3 0 0 1 7.3,0Z" fill="#a2e8a2"/><path d="M-7.3,0 A7.3,7.3 0 0 0 7.3,0Z" fill="#80d880"/><circle r="3.6" fill="#2c5a2c" stroke="#1c3a1c" stroke-width="0.9"/></g>
<g transform="translate(519.25,374.9)"><path d="M-7.3,0 A7.3,7.3 0 0 1 7.3,0Z" fill="#a2e8a2"/><path d="M-7.3,0 A7.3,7.3 0 0 0 7.3,0Z" fill="#80d880"/><circle r="3.6" fill="#2c5a2c" stroke="#1c3a1c" stroke-width="0.9"/></g>
<g transform="translate(543.2,374.9)"><path d="M-7.3,0 A7.3,7.3 0 0 1 7.3,0Z" fill="#a2e8a2"/><path d="M-7.3,0 A7.3,7.3 0 0 0 7.3,0Z" fill="#80d880"/><circle r="3.6" fill="#2c5a2c" stroke="#1c3a1c" stroke-width="0.9"/></g>
<g transform="translate(567.15,374.9)"><path d="M-7.3,0 A7.3,7.3 0 0 1 7.3,0Z" fill="#a2e8a2"/><path d="M-7.3,0 A7.3,7.3 0 0 0 7.3,0Z" fill="#80d880"/><circle r="3.6" fill="#2c5a2c" stroke="#1c3a1c" stroke-width="0.9"/></g>
<g transform="translate(591.1,374.9)"><path d="M-7.3,0 A7.3,7.3 0 0 1 7.3,0Z" fill="#a2e8a2"/><path d="M-7.3,0 A7.3,7.3 0 0 0 7.3,0Z" fill="#80d880"/><circle r="3.6" fill="#2c5a2c" stroke="#1c3a1c" stroke-width="0.9"/></g>
<g transform="translate(16.3,422.7)"><path d="M-7.3,0 A7.3,7.3 0 0 1 7.3,0Z" fill="#a2e8a2"/><path d="M-7.3,0 A7.3,7.3 0 0 0 7.3,0Z" fill="#80d880"/><circle r="3.6" fill="#2c5a2c" stroke="#1c3a1c" stroke-width="0.9"/></g>
<g transform="translate(40.25,422.7)"><path d="M-7.3,0 A7.3,7.3 0 0 1 7.3,0Z" fill="#a2e8a2"/><path d="M-7.3,0 A7.3,7.3 0 0 0 7.3,0Z" fill="#80d880"/><circle r="3.6" fill="#2c5a2c" stroke="#1c3a1c" stroke-width="0.9"/></g>
<g transform="translate(88.15,422.7)"><path d="M-7.3,0 A7.3,7.3 0 0 1 7.3,0Z" fill="#a2e8a2"/><path d="M-7.3,0 A7.3,7.3 0 0 0 7.3,0Z" fill="#80d880"/><circle r="3.6" fill="#2c5a2c" stroke="#1c3a1c" stroke-width="0.9"/></g>
<g transform="translate(112.1,422.7)"><path d="M-7.3,0 A7.3,7.3 0 0 1 7.3,0Z" fill="#a2e8a2"/><path d="M-7.3,0 A7.3,7.3 0 0 0 7.3,0Z" fill="#80d880"/><circle r="3.6" fill="#2c5a2c" stroke="#1c3a1c" stroke-width="0.9"/></g>
<g transform="translate(136.05,422.7)"><path d="M-7.3,0 A7.3,7.3 0 0 1 7.3,0Z" fill="#a2e8a2"/><path d="M-7.3,0 A7.3,7.3 0 0 0 7.3,0Z" fill="#80d880"/><circle r="3.6" fill="#2c5a2c" stroke="#1c3a1c" stroke-width="0.9"/></g>
<g transform="translate(160.0,422.7)"><path d="M-7.3,0 A7.3,7.3 0 0 1 7.3,0Z" fill="#a2e8a2"/><path d="M-7.3,0 A7.3,7.3 0 0 0 7.3,0Z" fill="#80d880"/><circle r="3.6" fill="#2c5a2c" stroke="#1c3a1c" stroke-width="0.9"/></g>
<g transform="translate(183.95,422.7)"><path d="M-7.3,0 A7.3,7.3 0 0 1 7.3,0Z" fill="#a2e8a2"/><path d="M-7.3,0 A7.3,7.3 0 0 0 7.3,0Z" fill="#80d880"/><circle r="3.6" fill="#2c5a2c" stroke="#1c3a1c" stroke-width="0.9"/></g>
<g transform="translate(231.85,422.7)"><path d="M-7.3,0 A7.3,7.3 0 0 1 7.3,0Z" fill="#a2e8a2"/><path d="M-7.3,0 A7.3,7.3 0 0 0 7.3,0Z" fill="#80d880"/><circle r="3.6" fill="#2c5a2c" stroke="#1c3a1c" stroke-width="0.9"/></g>
<g transform="translate(255.8,422.7)"><path d="M-7.3,0 A7.3,7.3 0 0 1 7.3,0Z" fill="#a2e8a2"/><path d="M-7.3,0 A7.3,7.3 0 0 0 7.3,0Z" fill="#80d880"/><circle r="3.6" fill="#2c5a2c" stroke="#1c3a1c" stroke-width="0.9"/></g>
<g transform="translate(279.75,422.7)"><path d="M-7.3,0 A7.3,7.3 0 0 1 7.3,0Z" fill="#a2e8a2"/><path d="M-7.3,0 A7.3,7.3 0 0 0 7.3,0Z" fill="#80d880"/><circle r="3.6" fill="#2c5a2c" stroke="#1c3a1c" stroke-width="0.9"/></g>
<g transform="translate(303.7,422.7)"><path d="M-7.3,0 A7.3,7.3 0 0 1 7.3,0Z" fill="#a2e8a2"/><path d="M-7.3,0 A7.3,7.3 0 0 0 7.3,0Z" fill="#80d880"/><circle r="3.6" fill="#2c5a2c" stroke="#1c3a1c" stroke-width="0.9"/></g>
<g transform="translate(327.65,422.7)"><path d="M-7.3,0 A7.3,7.3 0 0 1 7.3,0Z" fill="#a2e8a2"/><path d="M-7.3,0 A7.3,7.3 0 0 0 7.3,0Z" fill="#80d880"/><circle r="3.6" fill="#2c5a2c" stroke="#1c3a1c" stroke-width="0.9"/></g>
<g transform="translate(375.55,422.7)"><path d="M-7.3,0 A7.3,7.3 0 0 1 7.3,0Z" fill="#a2e8a2"/><path d="M-7.3,0 A7.3,7.3 0 0 0 7.3,0Z" fill="#80d880"/><circle r="3.6" fill="#2c5a2c" stroke="#1c3a1c" stroke-width="0.9"/></g>
<g transform="translate(399.5,422.7)"><path d="M-7.3,0 A7.3,7.3 0 0 1 7.3,0Z" fill="#a2e8a2"/><path d="M-7.3,0 A7.3,7.3 0 0 0 7.3,0Z" fill="#80d880"/><circle r="3.6" fill="#2c5a2c" stroke="#1c3a1c" stroke-width="0.9"/></g>
<g transform="translate(423.45,422.7)"><path d="M-7.3,0 A7.3,7.3 0 0 1 7.3,0Z" fill="#a2e8a2"/><path d="M-7.3,0 A7.3,7.3 0 0 0 7.3,0Z" fill="#80d880"/><circle r="3.6" fill="#2c5a2c" stroke="#1c3a1c" stroke-width="0.9"/></g>
<g transform="translate(447.4,422.7)"><path d="M-7.3,0 A7.3,7.3 0 0 1 7.3,0Z" fill="#a2e8a2"/><path d="M-7.3,0 A7.3,7.3 0 0 0 7.3,0Z" fill="#80d880"/><circle r="3.6" fill="#2c5a2c" stroke="#1c3a1c" stroke-width="0.9"/></g>
<g transform="translate(471.35,422.7)"><path d="M-7.3,0 A7.3,7.3 0 0 1 7.3,0Z" fill="#a2e8a2"/><path d="M-7.3,0 A7.3,7.3 0 0 0 7.3,0Z" fill="#80d880"/><circle r="3.6" fill="#2c5a2c" stroke="#1c3a1c" stroke-width="0.9"/></g>
<g transform="translate(519.25,422.7)"><path d="M-7.3,0 A7.3,7.3 0 0 1 7.3,0Z" fill="#a2e8a2"/><path d="M-7.3,0 A7.3,7.3 0 0 0 7.3,0Z" fill="#80d880"/><circle r="3.6" fill="#2c5a2c" stroke="#1c3a1c" stroke-width="0.9"/></g>
<g transform="translate(543.2,422.7)"><path d="M-7.3,0 A7.3,7.3 0 0 1 7.3,0Z" fill="#a2e8a2"/><path d="M-7.3,0 A7.3,7.3 0 0 0 7.3,0Z" fill="#80d880"/><circle r="3.6" fill="#2c5a2c" stroke="#1c3a1c" stroke-width="0.9"/></g>
<g transform="translate(567.15,422.7)"><path d="M-7.3,0 A7.3,7.3 0 0 1 7.3,0Z" fill="#a2e8a2"/><path d="M-7.3,0 A7.3,7.3 0 0 0 7.3,0Z" fill="#80d880"/><circle r="3.6" fill="#2c5a2c" stroke="#1c3a1c" stroke-width="0.9"/></g>
<g transform="translate(591.1,422.7)"><path d="M-7.3,0 A7.3,7.3 0 0 1 7.3,0Z" fill="#a2e8a2"/><path d="M-7.3,0 A7.3,7.3 0 0 0 7.3,0Z" fill="#80d880"/><circle r="3.6" fill="#2c5a2c" stroke="#1c3a1c" stroke-width="0.9"/></g>
<g transform="translate(16.3,446.6)"><path d="M-7.3,0 A7.3,7.3 0 0 1 7.3,0Z" fill="#a2e8a2"/><path d="M-7.3,0 A7.3,7.3 0 0 0 7.3,0Z" fill="#80d880"/><circle r="3.6" fill="#2c5a2c" stroke="#1c3a1c" stroke-width="0.9"/></g>
<g transform="translate(40.25,446.6)"><path d="M-7.3,0 A7.3,7.3 0 0 1 7.3,0Z" fill="#a2e8a2"/><path d="M-7.3,0 A7.3,7.3 0 0 0 7.3,0Z" fill="#80d880"/><circle r="3.6" fill="#2c5a2c" stroke="#1c3a1c" stroke-width="0.9"/></g>
<g transform="translate(88.15,446.6)"><path d="M-7.3,0 A7.3,7.3 0 0 1 7.3,0Z" fill="#a2e8a2"/><path d="M-7.3,0 A7.3,7.3 0 0 0 7.3,0Z" fill="#80d880"/><circle r="3.6" fill="#2c5a2c" stroke="#1c3a1c" stroke-width="0.9"/></g>
<g transform="translate(112.1,446.6)"><path d="M-7.3,0 A7.3,7.3 0 0 1 7.3,0Z" fill="#a2e8a2"/><path d="M-7.3,0 A7.3,7.3 0 0 0 7.3,0Z" fill="#80d880"/><circle r="3.6" fill="#2c5a2c" stroke="#1c3a1c" stroke-width="0.9"/></g>
<g transform="translate(136.05,446.6)"><path d="M-7.3,0 A7.3,7.3 0 0 1 7.3,0Z" fill="#a2e8a2"/><path d="M-7.3,0 A7.3,7.3 0 0 0 7.3,0Z" fill="#80d880"/><circle r="3.6" fill="#2c5a2c" stroke="#1c3a1c" stroke-width="0.9"/></g>
<g transform="translate(160.0,446.6)"><path d="M-7.3,0 A7.3,7.3 0 0 1 7.3,0Z" fill="#a2e8a2"/><path d="M-7.3,0 A7.3,7.3 0 0 0 7.3,0Z" fill="#80d880"/><circle r="3.6" fill="#2c5a2c" stroke="#1c3a1c" stroke-width="0.9"/></g>
<g transform="translate(183.95,446.6)"><path d="M-7.3,0 A7.3,7.3 0 0 1 7.3,0Z" fill="#a2e8a2"/><path d="M-7.3,0 A7.3,7.3 0 0 0 7.3,0Z" fill="#80d880"/><circle r="3.6" fill="#2c5a2c" stroke="#1c3a1c" stroke-width="0.9"/></g>
<g transform="translate(231.85,446.6)"><path d="M-7.3,0 A7.3,7.3 0 0 1 7.3,0Z" fill="#a2e8a2"/><path d="M-7.3,0 A7.3,7.3 0 0 0 7.3,0Z" fill="#80d880"/><circle r="3.6" fill="#2c5a2c" stroke="#1c3a1c" stroke-width="0.9"/></g>
<g transform="translate(255.8,446.6)"><path d="M-7.3,0 A7.3,7.3 0 0 1 7.3,0Z" fill="#a2e8a2"/><path d="M-7.3,0 A7.3,7.3 0 0 0 7.3,0Z" fill="#80d880"/><circle r="3.6" fill="#2c5a2c" stroke="#1c3a1c" stroke-width="0.9"/></g>
<g transform="translate(279.75,446.6)"><path d="M-7.3,0 A7.3,7.3 0 0 1 7.3,0Z" fill="#a2e8a2"/><path d="M-7.3,0 A7.3,7.3 0 0 0 7.3,0Z" fill="#80d880"/><circle r="3.6" fill="#2c5a2c" stroke="#1c3a1c" stroke-width="0.9"/></g>
<g transform="translate(303.7,446.6)"><path d="M-7.3,0 A7.3,7.3 0 0 1 7.3,0Z" fill="#a2e8a2"/><path d="M-7.3,0 A7.3,7.3 0 0 0 7.3,0Z" fill="#80d880"/><circle r="3.6" fill="#2c5a2c" stroke="#1c3a1c" stroke-width="0.9"/></g>
<g transform="translate(327.65,446.6)"><path d="M-7.3,0 A7.3,7.3 0 0 1 7.3,0Z" fill="#a2e8a2"/><path d="M-7.3,0 A7.3,7.3 0 0 0 7.3,0Z" fill="#80d880"/><circle r="3.6" fill="#2c5a2c" stroke="#1c3a1c" stroke-width="0.9"/></g>
<g transform="translate(375.55,446.6)"><path d="M-7.3,0 A7.3,7.3 0 0 1 7.3,0Z" fill="#a2e8a2"/><path d="M-7.3,0 A7.3,7.3 0 0 0 7.3,0Z" fill="#80d880"/><circle r="3.6" fill="#2c5a2c" stroke="#1c3a1c" stroke-width="0.9"/></g>
<g transform="translate(399.5,446.6)"><path d="M-7.3,0 A7.3,7.3 0 0 1 7.3,0Z" fill="#a2e8a2"/><path d="M-7.3,0 A7.3,7.3 0 0 0 7.3,0Z" fill="#80d880"/><circle r="3.6" fill="#2c5a2c" stroke="#1c3a1c" stroke-width="0.9"/></g>
<g transform="translate(423.45,446.6)"><path d="M-7.3,0 A7.3,7.3 0 0 1 7.3,0Z" fill="#a2e8a2"/><path d="M-7.3,0 A7.3,7.3 0 0 0 7.3,0Z" fill="#80d880"/><circle r="3.6" fill="#2c5a2c" stroke="#1c3a1c" stroke-width="0.9"/></g>
<g transform="translate(447.4,446.6)"><path d="M-7.3,0 A7.3,7.3 0 0 1 7.3,0Z" fill="#a2e8a2"/><path d="M-7.3,0 A7.3,7.3 0 0 0 7.3,0Z" fill="#80d880"/><circle r="3.6" fill="#2c5a2c" stroke="#1c3a1c" stroke-width="0.9"/></g>
<g transform="translate(471.35,446.6)"><path d="M-7.3,0 A7.3,7.3 0 0 1 7.3,0Z" fill="#a2e8a2"/><path d="M-7.3,0 A7.3,7.3 0 0 0 7.3,0Z" fill="#80d880"/><circle r="3.6" fill="#2c5a2c" stroke="#1c3a1c" stroke-width="0.9"/></g>
<g transform="translate(519.25,446.6)"><path d="M-7.3,0 A7.3,7.3 0 0 1 7.3,0Z" fill="#a2e8a2"/><path d="M-7.3,0 A7.3,7.3 0 0 0 7.3,0Z" fill="#80d880"/><circle r="3.6" fill="#2c5a2c" stroke="#1c3a1c" stroke-width="0.9"/></g>
<g transform="translate(543.2,446.6)"><path d="M-7.3,0 A7.3,7.3 0 0 1 7.3,0Z" fill="#a2e8a2"/><path d="M-7.3,0 A7.3,7.3 0 0 0 7.3,0Z" fill="#80d880"/><circle r="3.6" fill="#2c5a2c" stroke="#1c3a1c" stroke-width="0.9"/></g>
<g transform="translate(567.15,446.6)"><path d="M-7.3,0 A7.3,7.3 0 0 1 7.3,0Z" fill="#a2e8a2"/><path d="M-7.3,0 A7.3,7.3 0 0 0 7.3,0Z" fill="#80d880"/><circle r="3.6" fill="#2c5a2c" stroke="#1c3a1c" stroke-width="0.9"/></g>
<g transform="translate(591.1,446.6)"><path d="M-7.3,0 A7.3,7.3 0 0 1 7.3,0Z" fill="#a2e8a2"/><path d="M-7.3,0 A7.3,7.3 0 0 0 7.3,0Z" fill="#80d880"/><circle r="3.6" fill="#2c5a2c" stroke="#1c3a1c" stroke-width="0.9"/></g>
<circle cx="88.15" cy="446.6" r="7.3" fill="#52dc52"/>
<circle cx="88.15" cy="446.6" r="4.2" fill="#1f8a1f" stroke="#167016" stroke-width="0.8"/>
<path d="M-2,399 H40.8 L64.2,422.4 V518 L88.3,542 V602 H-2 Z" fill="#1a6f8f"/>
<rect x="4.7" y="411.3" width="47.3" height="200" fill="#3d3d3d"/>
<rect x="27.6" y="411.3" width="0.8" height="200" fill="#2c3a40"/>
<path d="M7,414 H25 L21,418 H11 Z" fill="#2f2f2f"/>
<path d="M7,432 H25 L21,428 H11 Z" fill="#575757"/>
<path d="M7,414 V432 L11,428 V418 Z" fill="#4a4a4a"/>
<path d="M25,414 V432 L21,428 V418 Z" fill="#4a4a4a"/>
<rect x="11" y="418" width="10" height="10" fill="#050505"/>
<path d="M31,414 H49 L45,418 H35 Z" fill="#2f2f2f"/>
<path d="M31,432 H49 L45,428 H35 Z" fill="#575757"/>
<path d="M31,414 V432 L35,428 V418 Z" fill="#4a4a4a"/>
<path d="M49,414 V432 L45,428 V418 Z" fill="#4a4a4a"/>
<rect x="35" y="418" width="10" height="10" fill="#050505"/>
<path d="M7,438 H25 L21,442 H11 Z" fill="#2f2f2f"/>
<path d="M7,456 H25 L21,452 H11 Z" fill="#575757"/>
<path d="M7,438 V456 L11,452 V442 Z" fill="#4a4a4a"/>
<path d="M25,438 V456 L21,452 V442 Z" fill="#4a4a4a"/>
<rect x="11" y="442" width="10" height="10" fill="#050505"/>
<path d="M31,438 H49 L45,442 H35 Z" fill="#2f2f2f"/>
<path d="M31,456 H49 L45,452 H35 Z" fill="#575757"/>
<path d="M31,438 V456 L35,452 V442 Z" fill="#4a4a4a"/>
<path d="M49,438 V456 L45,452 V442 Z" fill="#4a4a4a"/>
<rect x="35" y="442" width="10" height="10" fill="#050505"/>
<path d="M7,462 H25 L21,466 H11 Z" fill="#2f2f2f"/>
<path d="M7,480 H25 L21,476 H11 Z" fill="#575757"/>
<path d="M7,462 V480 L11,476 V466 Z" fill="#4a4a4a"/>
<path d="M25,462 V480 L21,476 V466 Z" fill="#4a4a4a"/>
<rect x="11" y="466" width="10" height="10" fill="#050505"/>
<path d="M31,462 H49 L45,466 H35 Z" fill="#2f2f2f"/>
<path d="M31,480 H49 L45,476 H35 Z" fill="#575757"/>
<path d="M31,462 V480 L35,476 V466 Z" fill="#4a4a4a"/>
<path d="M49,462 V480 L45,476 V466 Z" fill="#4a4a4a"/>
<rect x="35" y="466" width="10" height="10" fill="#050505"/>
<path d="M7,486 H25 L21,490 H11 Z" fill="#2f2f2f"/>
<path d="M7,504 H25 L21,500 H11 Z" fill="#575757"/>
<path d="M7,486 V504 L11,500 V490 Z" fill="#4a4a4a"/>
<path d="M25,486 V504 L21,500 V490 Z" fill="#4a4a4a"/>
<rect x="11" y="490" width="10" height="10" fill="#050505"/>
<path d="M31,486 H49 L45,490 H35 Z" fill="#2f2f2f"/>
<path d="M31,504 H49 L45,500 H35 Z" fill="#575757"/>
<path d="M31,486 V504 L35,500 V490 Z" fill="#4a4a4a"/>
<path d="M49,486 V504 L45,500 V490 Z" fill="#4a4a4a"/>
<rect x="35" y="490" width="10" height="10" fill="#050505"/>
<path d="M7,510 H25 L21,514 H11 Z" fill="#2f2f2f"/>
<path d="M7,528 H25 L21,524 H11 Z" fill="#575757"/>
<path d="M7,510 V528 L11,524 V514 Z" fill="#4a4a4a"/>
<path d="M25,510 V528 L21,524 V514 Z" fill="#4a4a4a"/>
<rect x="11" y="514" width="10" height="10" fill="#050505"/>
<path d="M31,510 H49 L45,514 H35 Z" fill="#2f2f2f"/>
<path d="M31,528 H49 L45,524 H35 Z" fill="#575757"/>
<path d="M31,510 V528 L35,524 V514 Z" fill="#4a4a4a"/>
<path d="M49,510 V528 L45,524 V514 Z" fill="#4a4a4a"/>
<rect x="35" y="514" width="10" height="10" fill="#050505"/>
<path d="M7,534 H25 L21,538 H11 Z" fill="#2f2f2f"/>
<path d="M7,552 H25 L21,548 H11 Z" fill="#575757"/>
<path d="M7,534 V552 L11,548 V538 Z" fill="#4a4a4a"/>
<path d="M25,534 V552 L21,548 V538 Z" fill="#4a4a4a"/>
<rect x="11" y="538" width="10" height="10" fill="#050505"/>
<path d="M31,534 H49 L45,538 H35 Z" fill="#2f2f2f"/>
<path d="M31,552 H49 L45,548 H35 Z" fill="#575757"/>
<path d="M31,534 V552 L35,548 V538 Z" fill="#4a4a4a"/>
<path d="M49,534 V552 L45,548 V538 Z" fill="#4a4a4a"/>
<rect x="35" y="538" width="10" height="10" fill="#050505"/>
<path d="M7,558 H25 L21,562 H11 Z" fill="#2f2f2f"/>
<path d="M7,576 H25 L21,572 H11 Z" fill="#575757"/>
<path d="M7,558 V576 L11,572 V562 Z" fill="#4a4a4a"/>
<path d="M25,558 V576 L21,572 V562 Z" fill="#4a4a4a"/>
<rect x="11" y="562" width="10" height="10" fill="#050505"/>
<path d="M31,558 H49 L45,562 H35 Z" fill="#2f2f2f"/>
<path d="M31,576 H49 L45,572 H35 Z" fill="#575757"/>
<path d="M31,558 V576 L35,572 V562 Z" fill="#4a4a4a"/>
<path d="M49,558 V576 L45,572 V562 Z" fill="#4a4a4a"/>
<rect x="35" y="562" width="10" height="10" fill="#050505"/>
<path d="M7,582 H25 L21,586 H11 Z" fill="#2f2f2f"/>
<path d="M7,600 H25 L21,596 H11 Z" fill="#575757"/>
<path d="M7,582 V600 L11,596 V586 Z" fill="#4a4a4a"/>
<path d="M25,582 V600 L21,596 V586 Z" fill="#4a4a4a"/>
<rect x="11" y="586" width="10" height="10" fill="#050505"/>
<path d="M31,582 H49 L45,586 H35 Z" fill="#2f2f2f"/>
<path d="M31,600 H49 L45,596 H35 Z" fill="#575757"/>
<path d="M31,582 V600 L35,596 V586 Z" fill="#4a4a4a"/>
<path d="M49,582 V600 L45,596 V586 Z" fill="#4a4a4a"/>
<rect x="35" y="586" width="10" height="10" fill="#050505"/>
<path d="M16.2,411 V404.75 H40.4 V411" stroke="#f4f4f4" stroke-width="2.2" fill="none"/>
<text x="-5" y="410.3" font-size="11" fill="#f4f4f4">5V</text>
<text x="59.3" y="548.6" style="font-family:Liberation Mono,monospace" font-size="13" fill="#f4f4f4" textLength="15.7" lengthAdjust="spacingAndGlyphs">31</text>
<text x="59.3" y="572.7" style="font-family:Liberation Mono,monospace" font-size="13" fill="#f4f4f4" textLength="15.7" lengthAdjust="spacingAndGlyphs">33</text>
<text x="59.3" y="597.3" style="font-family:Liberation Mono,monospace" font-size="13" fill="#f4f4f4" textLength="15.7" lengthAdjust="spacingAndGlyphs">35</text>
<circle cx="16" cy="423" r="6" fill="#184a18" stroke="#3ad03a" stroke-width="1.5"/>
<text x="43" y="2.5" font-size="21" fill="#1a1a1a" stroke="#1a1a1a" stroke-width="0.5" textLength="74" lengthAdjust="spacingAndGlyphs">KY-022</text>
<path fill-rule="evenodd" fill="#2b2b2b" d="M43.5,7.5 H180.5 Q182.5,7.5 182.5,9.5 V179 Q182.5,181 180.5,181 H43.5 Q41.5,181 41.5,179 V9.5 Q41.5,7.5 43.5,7.5 Z M55.400000000000006,31.6 a10.8,10.8 0 1 0 21.6,0 a10.8,10.8 0 1 0 -21.6,0 Z M148.29999999999998,31.6 a10.8,10.8 0 1 0 21.6,0 a10.8,10.8 0 1 0 -21.6,0 Z"/>
<circle cx="66.2" cy="31.6" r="10.8" fill="none" stroke="#7e7e7e" stroke-width="2.4"/>
<circle cx="159.1" cy="31.6" r="10.8" fill="none" stroke="#7e7e7e" stroke-width="2.4"/>
<text x="50.3" y="48.6" font-size="15.5" fill="#f4f4f4" textLength="6.3" lengthAdjust="spacingAndGlyphs">L</text>
<rect x="50" y="51" width="18.75" height="37.5" fill="#141414" stroke="#f4f4f4" stroke-width="2"/>
<rect x="54" y="54.5" width="11.5" height="30" fill="#dccb8a"/>
<rect x="55" y="58.5" width="9.5" height="22" fill="#f0efe8"/>
<path d="M57,60 L62,68 L58,74 L61,80" stroke="#c8c0a0" stroke-width="0.8" fill="none"/>
<text x="70.5" y="70" font-size="8" fill="#cfcfcf">+</text>
<rect x="50" y="98.5" width="18.75" height="36.75" fill="#141414" stroke="#f4f4f4" stroke-width="2"/>
<rect x="53.5" y="100.5" width="12" height="33" rx="2" fill="#363636"/>
<rect x="53.5" y="100.5" width="12" height="6" rx="2" fill="#d2d2d2"/>
<rect x="53.5" y="127.5" width="12" height="6" rx="2" fill="#d2d2d2"/>
<text x="0" y="0" transform="translate(56.5,111) rotate(90)" font-size="6" fill="#bbbbbb">102</text>
<rect x="73.5" y="129.5" width="5" height="2" fill="#f4f4f4"/>
<text x="50" y="149.5" font-size="15.5" fill="#f4f4f4" textLength="16.5" lengthAdjust="spacingAndGlyphs">R1</text>
<rect x="52.8" y="157" width="7" height="2" fill="#f4f4f4"/>
<rect x="77.3" y="41.3" width="70" height="24.4" fill="#232323" stroke="#f4f4f4" stroke-width="2"/>
<rect x="123.2" y="40.3" width="2" height="26.4" fill="#f4f4f4"/>
<rect x="77.3" y="101" width="70" height="24.7" fill="#232323" stroke="#f4f4f4" stroke-width="2"/>
<rect x="123.2" y="100" width="2" height="26.7" fill="#f4f4f4"/>
<rect x="77.3" y="71" width="70" height="23" fill="#232323" stroke="#f4f4f4" stroke-width="2"/>
<circle cx="89.2" cy="53.3" r="6" fill="#dedede" stroke="#8a8a8a" stroke-width="2.2"/>
<rect x="126.7" y="44.2" width="18.3" height="18.3" fill="#8a8a8a"/>
<circle cx="135.5" cy="53.3" r="5" fill="#dcdcdc"/>
<rect x="140" y="72.5" width="5" height="18.3" fill="#8a8a8a"/>
<circle cx="89.2" cy="112.5" r="6.2" fill="#d4d4d4" stroke="#8f8f8f" stroke-width="2.2"/>
<circle cx="89.7" cy="111.5" r="3.6" fill="#3a3a3a"/>
<circle cx="112.5" cy="112.5" r="6.2" fill="#d4d4d4" stroke="#8f8f8f" stroke-width="2.2"/>
<circle cx="113.0" cy="111.5" r="3.6" fill="#3a3a3a"/>
<rect x="126.7" y="104.2" width="18.3" height="18.3" fill="#8a8a8a"/>
<circle cx="135.5" cy="112.5" r="5" fill="#d4d4d4"/>
<circle cx="136" cy="111.5" r="3" fill="#3a3a3a"/>
<path d="M94.3,64 A17,17 0 0 1 128.3,64 Z" fill="#1b1b2e" stroke="#d0d0d0" stroke-width="2"/>
<rect x="82" y="63" width="58" height="34.5" fill="#bcbcbc" stroke="#d2d2d2" stroke-width="1"/>
<rect x="150.5" y="51.8" width="8" height="2.4" fill="#f4f4f4"/>
<text x="150" y="102.5" font-size="15" fill="#f4f4f4" textLength="8" lengthAdjust="spacingAndGlyphs">S</text>
<rect x="77.2" y="147.3" width="70.3" height="24.4" fill="#111" stroke="#f4f4f4" stroke-width="2"/>
<rect x="76.5" y="148.2" width="23" height="22.6" rx="6" fill="#3a3a3a" stroke="#0c0c0c" stroke-width="1"/>
<rect x="100.5" y="148.2" width="23" height="22.6" rx="6" fill="#3a3a3a" stroke="#0c0c0c" stroke-width="1"/>
<rect x="124.5" y="148.2" width="23" height="22.6" rx="6" fill="#3a3a3a" stroke="#0c0c0c" stroke-width="1"/>
<text x="158.4" y="166.2" font-size="20.3" fill="#f4f4f4" textLength="10.3" lengthAdjust="spacingAndGlyphs">S</text>
<text x="251.4" y="171.6" font-size="20.6" fill="#111" stroke="#111" stroke-width="0.45" textLength="102.4" lengthAdjust="spacingAndGlyphs">MIDI OUT</text>
<path d="M230.5,183 H376.2 Q380.7,183 380.7,187.5 V308.4 Q380.7,313.4 375.7,313.4 H337 C327,313.4 327,290 317,290 H291 C281,290 281,313.4 271,313.4 H231 Q226,313.4 226,308.4 V187.5 Q226,183 230.5,183 Z" fill="#2b2b2b" stroke="#f2f2f2" stroke-opacity="0.6" stroke-width="2"/>
<path d="M230.5,183 H376.2 Q380.7,183 380.7,187.5 V308.4 Q380.7,313.4 375.7,313.4 H337 C327,313.4 327,290 317,290 H291 C281,290 281,313.4 271,313.4 H231 Q226,313.4 226,308.4 V187.5 Q226,183 230.5,183 Z" fill="#2b2b2b"/>
<rect x="251" y="187.6" width="105" height="5" fill="#9a9a9a"/>
<path d="M287,187.6 H317.5 V192.7 L314,197 H293 L290,192.7 Z" fill="#9a9a9a"/>
<rect x="250" y="183" width="12" height="11" fill="#6ad86a" fill-opacity="0.62" stroke="#48c848" stroke-width="0.9"/>
<rect x="274" y="183" width="12" height="11" fill="#6ad86a" fill-opacity="0.62" stroke="#48c848" stroke-width="0.9"/>
<rect x="322" y="183" width="12" height="11" fill="#6ad86a" fill-opacity="0.62" stroke="#48c848" stroke-width="0.9"/>
<rect x="346" y="183" width="12" height="11" fill="#6ad86a" fill-opacity="0.62" stroke="#48c848" stroke-width="0.9"/>
<circle cx="304" cy="235" r="39.6" fill="#000" stroke="#a8a8a8" stroke-width="1.6"/>
<circle cx="304" cy="234.5" r="33.4" fill="#3b3b3b"/>
<rect x="296.5" y="197" width="14.3" height="12.5" fill="#000"/>
<g transform="translate(283.5,233) rotate(32)"><circle r="4.7" fill="#050505"/><rect x="-1.8" y="-10" width="3.6" height="6.4" fill="#e6d9a2" stroke="#050505" stroke-width="1"/><rect x="-1.8" y="3.6" width="3.6" height="6.4" fill="#e6d9a2" stroke="#050505" stroke-width="1"/></g>
<g transform="translate(289,247) rotate(30)"><circle r="4.7" fill="#050505"/><rect x="-1.8" y="-10" width="3.6" height="6.4" fill="#e6d9a2" stroke="#050505" stroke-width="1"/><rect x="-1.8" y="3.6" width="3.6" height="6.4" fill="#e6d9a2" stroke="#050505" stroke-width="1"/></g>
<g transform="translate(304,254) rotate(0)"><circle r="4.7" fill="#050505"/><rect x="-1.8" y="-10" width="3.6" height="6.4" fill="#e6d9a2" stroke="#050505" stroke-width="1"/><rect x="-1.8" y="3.6" width="3.6" height="6.4" fill="#e6d9a2" stroke="#050505" stroke-width="1"/></g>
<g transform="translate(318.5,247) rotate(-30)"><circle r="4.7" fill="#050505"/><rect x="-1.8" y="-10" width="3.6" height="6.4" fill="#e6d9a2" stroke="#050505" stroke-width="1"/><rect x="-1.8" y="3.6" width="3.6" height="6.4" fill="#e6d9a2" stroke="#050505" stroke-width="1"/></g>
<g transform="translate(324,233) rotate(-32)"><circle r="4.7" fill="#050505"/><rect x="-1.8" y="-10" width="3.6" height="6.4" fill="#e6d9a2" stroke="#050505" stroke-width="1"/><rect x="-1.8" y="3.6" width="3.6" height="6.4" fill="#e6d9a2" stroke="#050505" stroke-width="1"/></g>
<polyline points="237,284 247,284 259,272.5" fill="none" stroke="#9a9a9a" stroke-width="3.6" stroke-linecap="round" stroke-linejoin="round"/>
<polyline points="256,302 256,291 266,279.5" fill="none" stroke="#9a9a9a" stroke-width="3.6" stroke-linecap="round" stroke-linejoin="round"/>
<polyline points="369,284 359,284 347,272.5" fill="none" stroke="#9a9a9a" stroke-width="3.6" stroke-linecap="round" stroke-linejoin="round"/>
<polyline points="352,302 352,291 342,279.5" fill="none" stroke="#9a9a9a" stroke-width="3.6" stroke-linecap="round" stroke-linejoin="round"/>
<rect x="226" y="278.4" width="11.6" height="11.3" fill="#6ad86a" fill-opacity="0.62" stroke="#48c848" stroke-width="0.9"/>
<rect x="369" y="278.4" width="11.7" height="11.3" fill="#6ad86a" fill-opacity="0.62" stroke="#48c848" stroke-width="0.9"/>
<rect x="250.5" y="302" width="11.5" height="11.3" fill="#6ad86a" fill-opacity="0.62" stroke="#48c848" stroke-width="0.9"/>
<rect x="346.3" y="302" width="11.5" height="11.3" fill="#6ad86a" fill-opacity="0.62" stroke="#48c848" stroke-width="0.9"/>
<rect x="297" y="278.4" width="12.2" height="9" fill="#6ad86a" fill-opacity="0.62" stroke="#48c848" stroke-width="0.9"/>
<text x="429.7" y="171.6" font-size="20.6" fill="#111" stroke="#111" stroke-width="0.45" textLength="81.6" lengthAdjust="spacingAndGlyphs">MIDI IN</text>
<path d="M398.2,183 H543.9 Q548.4,183 548.4,187.5 V308.4 Q548.4,313.4 543.4,313.4 H504.7 C494.7,313.4 494.7,290 484.7,290 H458.7 C448.7,290 448.7,313.4 438.7,313.4 H398.7 Q393.7,313.4 393.7,308.4 V187.5 Q393.7,183 398.2,183 Z" fill="#2b2b2b" stroke="#f2f2f2" stroke-opacity="0.6" stroke-width="2"/>
<path d="M398.2,183 H543.9 Q548.4,183 548.4,187.5 V308.4 Q548.4,313.4 543.4,313.4 H504.7 C494.7,313.4 494.7,290 484.7,290 H458.7 C448.7,290 448.7,313.4 438.7,313.4 H398.7 Q393.7,313.4 393.7,308.4 V187.5 Q393.7,183 398.2,183 Z" fill="#2b2b2b"/>
<rect x="418.7" y="187.6" width="105" height="5" fill="#9a9a9a"/>
<path d="M454.7,187.6 H485.2 V192.7 L481.7,197 H460.7 L457.7,192.7 Z" fill="#9a9a9a"/>
<rect x="417.7" y="183" width="12" height="11" fill="#6ad86a" fill-opacity="0.62" stroke="#48c848" stroke-width="0.9"/>
<rect x="441.7" y="183" width="12" height="11" fill="#6ad86a" fill-opacity="0.62" stroke="#48c848" stroke-width="0.9"/>
<rect x="489.7" y="183" width="12" height="11" fill="#6ad86a" fill-opacity="0.62" stroke="#48c848" stroke-width="0.9"/>
<rect x="513.7" y="183" width="12" height="11" fill="#6ad86a" fill-opacity="0.62" stroke="#48c848" stroke-width="0.9"/>
<circle cx="471.7" cy="235" r="39.6" fill="#000" stroke="#a8a8a8" stroke-width="1.6"/>
<circle cx="471.7" cy="234.5" r="33.4" fill="#3b3b3b"/>
<rect x="464.2" y="197" width="14.3" height="12.5" fill="#000"/>
<g transform="translate(451.2,233) rotate(32)"><circle r="4.7" fill="#050505"/><rect x="-1.8" y="-10" width="3.6" height="6.4" fill="#e6d9a2" stroke="#050505" stroke-width="1"/><rect x="-1.8" y="3.6" width="3.6" height="6.4" fill="#e6d9a2" stroke="#050505" stroke-width="1"/></g>
<g transform="translate(456.7,247) rotate(30)"><circle r="4.7" fill="#050505"/><rect x="-1.8" y="-10" width="3.6" height="6.4" fill="#e6d9a2" stroke="#050505" stroke-width="1"/><rect x="-1.8" y="3.6" width="3.6" height="6.4" fill="#e6d9a2" stroke="#050505" stroke-width="1"/></g>
<g transform="translate(471.7,254) rotate(0)"><circle r="4.7" fill="#050505"/><rect x="-1.8" y="-10" width="3.6" height="6.4" fill="#e6d9a2" stroke="#050505" stroke-width="1"/><rect x="-1.8" y="3.6" width="3.6" height="6.4" fill="#e6d9a2" stroke="#050505" stroke-width="1"/></g>
<g transform="translate(486.2,247) rotate(-30)"><circle r="4.7" fill="#050505"/><rect x="-1.8" y="-10" width="3.6" height="6.4" fill="#e6d9a2" stroke="#050505" stroke-width="1"/><rect x="-1.8" y="3.6" width="3.6" height="6.4" fill="#e6d9a2" stroke="#050505" stroke-width="1"/></g>
<g transform="translate(491.7,233) rotate(-32)"><circle r="4.7" fill="#050505"/><rect x="-1.8" y="-10" width="3.6" height="6.4" fill="#e6d9a2" stroke="#050505" stroke-width="1"/><rect x="-1.8" y="3.6" width="3.6" height="6.4" fill="#e6d9a2" stroke="#050505" stroke-width="1"/></g>
<polyline points="404.7,284 414.7,284 426.7,272.5" fill="none" stroke="#9a9a9a" stroke-width="3.6" stroke-linecap="round" stroke-linejoin="round"/>
<polyline points="423.7,302 423.7,291 433.7,279.5" fill="none" stroke="#9a9a9a" stroke-width="3.6" stroke-linecap="round" stroke-linejoin="round"/>
<polyline points="536.7,284 526.7,284 514.7,272.5" fill="none" stroke="#9a9a9a" stroke-width="3.6" stroke-linecap="round" stroke-linejoin="round"/>
<polyline points="519.7,302 519.7,291 509.7,279.5" fill="none" stroke="#9a9a9a" stroke-width="3.6" stroke-linecap="round" stroke-linejoin="round"/>
<rect x="393.7" y="278.4" width="11.6" height="11.3" fill="#6ad86a" fill-opacity="0.62" stroke="#48c848" stroke-width="0.9"/>
<rect x="536.7" y="278.4" width="11.7" height="11.3" fill="#6ad86a" fill-opacity="0.62" stroke="#48c848" stroke-width="0.9"/>
<rect x="418.2" y="302" width="11.5" height="11.3" fill="#6ad86a" fill-opacity="0.62" stroke="#48c848" stroke-width="0.9"/>
<rect x="514.0" y="302" width="11.5" height="11.3" fill="#6ad86a" fill-opacity="0.62" stroke="#48c848" stroke-width="0.9"/>
<rect x="464.59999999999997" y="277.5" width="12.3" height="13.3" fill="#c85a55"/>
<rect x="467.0" y="279.7" width="7.5" height="8.5" fill="#d88a88"/>
<path d="M83.6,157 H92.4 V231.5 A4.4,4.4 0 0 1 83.6,231.5 Z" fill="#6aae6a" stroke="#4ee04e" stroke-width="1.6"/>
<path d="M84.4,231.5 A3.6,3.6 0 0 0 91.6,231.5 V229 H84.4 Z" fill="#2d622d"/>
<path d="M107.6,157 H116.4 V231.5 A4.4,4.4 0 0 1 107.6,231.5 Z" fill="#6aae6a" stroke="#4ee04e" stroke-width="1.6"/>
<path d="M108.4,231.5 A3.6,3.6 0 0 0 115.6,231.5 V229 H108.4 Z" fill="#2d622d"/>
<path d="M131.6,157 H140.4 V231.5 A4.4,4.4 0 0 1 131.6,231.5 Z" fill="#6aae6a" stroke="#4ee04e" stroke-width="1.6"/>
<path d="M132.4,231.5 A3.6,3.6 0 0 0 139.6,231.5 V229 H132.4 Z" fill="#2d622d"/>
<polyline points="88.15,279.3 88.15,374.9" fill="none" stroke="#f6f6f6" stroke-opacity="0.55" stroke-width="12.5" stroke-linecap="round" stroke-linejoin="round"/>
<polyline points="88.15,279.3 88.15,374.9" fill="none" stroke="#050505" stroke-width="10.5" stroke-linecap="round" stroke-linejoin="round"/>
<polyline points="88.15,279.3 88.15,374.9" fill="none" stroke="#3c3c3c" stroke-width="5.7" stroke-linecap="round" stroke-linejoin="round"/>
<circle cx="88.15" cy="279.3" r="5.6" fill="#050505" stroke="#44d444" stroke-width="1.1"/>
<circle cx="88.15" cy="279.3" r="3.9" fill="#3a5a3a"/>
<circle cx="88.15" cy="374.9" r="5.6" fill="#050505" stroke="#44d444" stroke-width="1.1"/>
<circle cx="88.15" cy="374.9" r="3.9" fill="#3a5a3a"/>
<polyline points="112.1,279.3 112.1,351" fill="none" stroke="#f6f6f6" stroke-opacity="0.55" stroke-width="12.5" stroke-linecap="round" stroke-linejoin="round"/>
<polyline points="112.1,279.3 112.1,351" fill="none" stroke="#8e1212" stroke-width="10.5" stroke-linecap="round" stroke-linejoin="round"/>
<polyline points="112.1,279.3 112.1,351" fill="none" stroke="#d21a1a" stroke-width="5.7" stroke-linecap="round" stroke-linejoin="round"/>
<circle cx="112.1" cy="279.3" r="5.6" fill="#8e1212" stroke="#44d444" stroke-width="1.1"/>
<circle cx="112.1" cy="279.3" r="3.9" fill="#b0501e"/>
<circle cx="112.1" cy="351" r="5.6" fill="#8e1212" stroke="#44d444" stroke-width="1.1"/>
<circle cx="112.1" cy="351" r="3.9" fill="#b0501e"/>
<polyline points="136.05,279.3 136.05,470.3 15.3,470.5" fill="none" stroke="#f6f6f6" stroke-opacity="0.55" stroke-width="12.5" stroke-linecap="round" stroke-linejoin="round"/>
<polyline points="136.05,279.3 136.05,470.3 15.3,470.5" fill="none" stroke="#15a015" stroke-width="10.5" stroke-linecap="round" stroke-linejoin="round"/>
<polyline points="136.05,279.3 136.05,470.3 15.3,470.5" fill="none" stroke="#22cc22" stroke-width="5.7" stroke-linecap="round" stroke-linejoin="round"/>
<circle cx="136.05" cy="470.3" r="5.25" fill="#15a015"/>
<circle cx="136.05" cy="279.3" r="5.6" fill="#15a015" stroke="#44d444" stroke-width="1.1"/>
<circle cx="136.05" cy="279.3" r="3.9" fill="#30c030"/>
<circle cx="15.3" cy="470.5" r="5.6" fill="#15a015" stroke="#44d444" stroke-width="1.1"/>
<circle cx="15.3" cy="470.5" r="3.9" fill="#30c030"/>
<polyline points="40.25,422.7 88.15,422.7" fill="none" stroke="#f6f6f6" stroke-opacity="0.55" stroke-width="12.5" stroke-linecap="round" stroke-linejoin="round"/>
<polyline points="40.25,422.7 88.15,422.7" fill="none" stroke="#8e1212" stroke-width="10.5" stroke-linecap="round" stroke-linejoin="round"/>
<polyline points="40.25,422.7 88.15,422.7" fill="none" stroke="#d21a1a" stroke-width="5.7" stroke-linecap="round" stroke-linejoin="round"/>
<circle cx="40.25" cy="422.7" r="5.6" fill="#8e1212" stroke="#44d444" stroke-width="1.1"/>
<circle cx="40.25" cy="422.7" r="3.9" fill="#b0501e"/>
<circle cx="88.15" cy="422.7" r="5.6" fill="#8e1212" stroke="#44d444" stroke-width="1.1"/>
<circle cx="88.15" cy="422.7" r="3.9" fill="#b0501e"/>
<polyline points="-9.65,518.8 160.0,518.8" fill="none" stroke="#f6f6f6" stroke-opacity="0.55" stroke-width="12.5" stroke-linecap="round" stroke-linejoin="round"/>
<polyline points="-9.65,518.8 160.0,518.8" fill="none" stroke="#1a50c0" stroke-width="10.5" stroke-linecap="round" stroke-linejoin="round"/>
<polyline points="-9.65,518.8 160.0,518.8" fill="none" stroke="#4a90e0" stroke-width="5.7" stroke-linecap="round" stroke-linejoin="round"/>
<circle cx="160.0" cy="518.8" r="5.6" fill="#1a50c0" stroke="#44d444" stroke-width="1.1"/>
<circle cx="160.0" cy="518.8" r="3.9" fill="#4a8ab8"/>
<polyline points="255.8,313.3 255.8,518.6" fill="none" stroke="#f6f6f6" stroke-opacity="0.55" stroke-width="12.5" stroke-linecap="round" stroke-linejoin="round"/>
<polyline points="255.8,313.3 255.8,518.6" fill="none" stroke="#a8602c" stroke-width="10.5" stroke-linecap="round" stroke-linejoin="round"/>
<polyline points="255.8,313.3 255.8,518.6" fill="none" stroke="#f26800" stroke-width="5.7" stroke-linecap="round" stroke-linejoin="round"/>
<circle cx="255.8" cy="313.3" r="5.3" fill="#c88010" stroke="#58b058" stroke-width="0.8" stroke-opacity="0.6"/>
<circle cx="255.8" cy="518.6" r="5.6" fill="#a8602c" stroke="#44d444" stroke-width="1.1"/>
<circle cx="255.8" cy="518.6" r="3.9" fill="#c88010"/>
<polyline points="303.7,289 303.7,374.9" fill="none" stroke="#f6f6f6" stroke-opacity="0.55" stroke-width="12.5" stroke-linecap="round" stroke-linejoin="round"/>
<polyline points="303.7,289 303.7,374.9" fill="none" stroke="#050505" stroke-width="10.5" stroke-linecap="round" stroke-linejoin="round"/>
<polyline points="303.7,289 303.7,374.9" fill="none" stroke="#3c3c3c" stroke-width="5.7" stroke-linecap="round" stroke-linejoin="round"/>
<circle cx="303.7" cy="289" r="5.6" fill="#050505" stroke="#44d444" stroke-width="1.1"/>
<circle cx="303.7" cy="289" r="3.9" fill="#3a5a3a"/>
<circle cx="303.7" cy="374.9" r="5.6" fill="#050505" stroke="#44d444" stroke-width="1.1"/>
<circle cx="303.7" cy="374.9" r="3.9" fill="#3a5a3a"/>
<polyline points="351.6,313.3 351.6,542.5 327.65,542.5" fill="none" stroke="#f6f6f6" stroke-opacity="0.55" stroke-width="12.5" stroke-linecap="round" stroke-linejoin="round"/>
<polyline points="351.6,313.3 351.6,542.5 327.65,542.5" fill="none" stroke="#a8602c" stroke-width="10.5" stroke-linecap="round" stroke-linejoin="round"/>
<polyline points="351.6,313.3 351.6,542.5 327.65,542.5" fill="none" stroke="#f26800" stroke-width="5.7" stroke-linecap="round" stroke-linejoin="round"/>
<circle cx="351.6" cy="542.5" r="5.25" fill="#a8602c"/>
<circle cx="351.6" cy="313.3" r="5.3" fill="#c88010" stroke="#58b058" stroke-width="0.8" stroke-opacity="0.6"/>
<circle cx="327.65" cy="542.5" r="5.6" fill="#a8602c" stroke="#44d444" stroke-width="1.1"/>
<circle cx="327.65" cy="542.5" r="3.9" fill="#c88010"/>
<polyline points="519.25,313.3 519.25,518.6" fill="none" stroke="#f6f6f6" stroke-opacity="0.55" stroke-width="12.5" stroke-linecap="round" stroke-linejoin="round"/>
<polyline points="519.25,313.3 519.25,518.6" fill="none" stroke="#e000e0" stroke-width="10.5" stroke-linecap="round" stroke-linejoin="round"/>
<polyline points="519.25,313.3 519.25,518.6" fill="none" stroke="#ff60ff" stroke-width="5.7" stroke-linecap="round" stroke-linejoin="round"/>
<circle cx="519.25" cy="313.3" r="5.3" fill="#c070c0" stroke="#58b058" stroke-width="0.8" stroke-opacity="0.6"/>
<circle cx="519.25" cy="518.6" r="5.6" fill="#e000e0" stroke="#44d444" stroke-width="1.1"/>
<circle cx="519.25" cy="518.6" r="3.9" fill="#c070c0"/>
<polyline points="423.45,422.7 423.45,518.6" fill="none" stroke="#f6f6f6" stroke-opacity="0.55" stroke-width="12.5" stroke-linecap="round" stroke-linejoin="round"/>
<polyline points="423.45,422.7 423.45,518.6" fill="none" stroke="#8e1212" stroke-width="10.5" stroke-linecap="round" stroke-linejoin="round"/>
<polyline points="423.45,422.7 423.45,518.6" fill="none" stroke="#d21a1a" stroke-width="5.7" stroke-linecap="round" stroke-linejoin="round"/>
<circle cx="423.45" cy="422.7" r="5.6" fill="#8e1212" stroke="#44d444" stroke-width="1.1"/>
<circle cx="423.45" cy="422.7" r="3.9" fill="#b0501e"/>
<circle cx="423.45" cy="518.6" r="5.6" fill="#8e1212" stroke="#44d444" stroke-width="1.1"/>
<circle cx="423.45" cy="518.6" r="3.9" fill="#b0501e"/>
<polyline points="543.2,351 543.2,422.7" fill="none" stroke="#f6f6f6" stroke-opacity="0.55" stroke-width="12.5" stroke-linecap="round" stroke-linejoin="round"/>
<polyline points="543.2,351 543.2,422.7" fill="none" stroke="#8e1212" stroke-width="10.5" stroke-linecap="round" stroke-linejoin="round"/>
<polyline points="543.2,351 543.2,422.7" fill="none" stroke="#d21a1a" stroke-width="5.7" stroke-linecap="round" stroke-linejoin="round"/>
<circle cx="543.2" cy="351" r="5.6" fill="#8e1212" stroke="#44d444" stroke-width="1.1"/>
<circle cx="543.2" cy="351" r="3.9" fill="#b0501e"/>
<circle cx="543.2" cy="422.7" r="5.6" fill="#8e1212" stroke="#44d444" stroke-width="1.1"/>
<circle cx="543.2" cy="422.7" r="3.9" fill="#b0501e"/>
<polyline points="567.15,374.9 567.15,446.6" fill="none" stroke="#f6f6f6" stroke-opacity="0.55" stroke-width="12.5" stroke-linecap="round" stroke-linejoin="round"/>
<polyline points="567.15,374.9 567.15,446.6" fill="none" stroke="#050505" stroke-width="10.5" stroke-linecap="round" stroke-linejoin="round"/>
<polyline points="567.15,374.9 567.15,446.6" fill="none" stroke="#3c3c3c" stroke-width="5.7" stroke-linecap="round" stroke-linejoin="round"/>
<circle cx="567.15" cy="374.9" r="5.6" fill="#050505" stroke="#44d444" stroke-width="1.1"/>
<circle cx="567.15" cy="374.9" r="3.9" fill="#3a5a3a"/>
<circle cx="567.15" cy="446.6" r="5.6" fill="#050505" stroke="#44d444" stroke-width="1.1"/>
<circle cx="567.15" cy="446.6" r="3.9" fill="#3a5a3a"/>
<polyline points="591.1,-10 591.1,374.9" fill="none" stroke="#f6f6f6" stroke-opacity="0.55" stroke-width="12.5" stroke-linecap="round" stroke-linejoin="round"/>
<polyline points="591.1,-10 591.1,374.9" fill="none" stroke="#050505" stroke-width="10.5" stroke-linecap="round" stroke-linejoin="round"/>
<polyline points="591.1,-10 591.1,374.9" fill="none" stroke="#3c3c3c" stroke-width="5.7" stroke-linecap="round" stroke-linejoin="round"/>
<circle cx="591.1" cy="374.9" r="5.6" fill="#050505" stroke="#44d444" stroke-width="1.1"/>
<circle cx="591.1" cy="374.9" r="3.9" fill="#3a5a3a"/>
<polyline points="543.2,446.6 543.2,542.5 495.3,542.5 495.3,518.6" fill="none" stroke="#f6f6f6" stroke-opacity="0.55" stroke-width="12.5" stroke-linecap="round" stroke-linejoin="round"/>
<polyline points="543.2,446.6 543.2,542.5 495.3,542.5 495.3,518.6" fill="none" stroke="#050505" stroke-width="10.5" stroke-linecap="round" stroke-linejoin="round"/>
<polyline points="543.2,446.6 543.2,542.5 495.3,542.5 495.3,518.6" fill="none" stroke="#3c3c3c" stroke-width="5.7" stroke-linecap="round" stroke-linejoin="round"/>
<circle cx="543.2" cy="542.5" r="5.25" fill="#050505"/>
<circle cx="495.3" cy="542.5" r="5.25" fill="#050505"/>
<circle cx="543.2" cy="446.6" r="5.6" fill="#050505" stroke="#44d444" stroke-width="1.1"/>
<circle cx="543.2" cy="446.6" r="3.9" fill="#3a5a3a"/>
<circle cx="495.3" cy="518.6" r="5.6" fill="#050505" stroke="#44d444" stroke-width="1.1"/>
<circle cx="495.3" cy="518.6" r="3.9" fill="#3a5a3a"/>
<polyline points="591.1,446.6 591.1,610" fill="none" stroke="#f6f6f6" stroke-opacity="0.55" stroke-width="12.5" stroke-linecap="round" stroke-linejoin="round"/>
<polyline points="591.1,446.6 591.1,610" fill="none" stroke="#050505" stroke-width="10.5" stroke-linecap="round" stroke-linejoin="round"/>
<polyline points="591.1,446.6 591.1,610" fill="none" stroke="#3c3c3c" stroke-width="5.7" stroke-linecap="round" stroke-linejoin="round"/>
<circle cx="591.1" cy="446.6" r="5.6" fill="#050505" stroke="#44d444" stroke-width="1.1"/>
<circle cx="591.1" cy="446.6" r="3.9" fill="#3a5a3a"/>
<polyline points="329,423.5 332,430.5 332,512 329,519" fill="none" stroke="#9a9a9a" stroke-width="9.3" stroke-linejoin="round"/>
<ellipse cx="329.5" cy="424.0" rx="6.8" ry="6.2" fill="#6c9c6c" stroke="#5ad85a" stroke-width="0.9"/>
<ellipse cx="329.5" cy="519.5" rx="6.8" ry="6.2" fill="#6c9c6c" stroke="#5ad85a" stroke-width="0.9"/>
<clipPath id="rc1"><path d="M324,441.3 H340 Q343,441.3 343,444.3 V452.3 Q343,456.3 341.3,457.3 V486 Q343,487 343,491 V499 Q343,502 340,502 H324 Q321,502 321,499 V491 Q321,487 322.7,486 V457.3 Q321,456.3 321,452.3 V444.3 Q321,441.3 324,441.3 Z"/></clipPath>
<path d="M324,441.3 H340 Q343,441.3 343,444.3 V452.3 Q343,456.3 341.3,457.3 V486 Q343,487 343,491 V499 Q343,502 340,502 H324 Q321,502 321,499 V491 Q321,487 322.7,486 V457.3 Q321,456.3 321,452.3 V444.3 Q321,441.3 324,441.3 Z" fill="#80cfc3"/>
<g clip-path="url(#rc1)"><rect x="321" y="441.3" width="5.5" height="60.69999999999999" fill="#4f9a8e"/>
<rect x="321" y="450" width="22" height="6" fill="#c81818"/>
<rect x="321" y="460" width="22" height="6" fill="#c81818"/>
<rect x="321" y="470" width="22" height="6" fill="#0a0a0a"/>
<rect x="321" y="479.3" width="22" height="5.699999999999989" fill="#0a0a0a"/>
<rect x="321" y="494.6" width="12" height="1.599999999999966" fill="#111"/>
</g>
<circle cx="339.5" cy="444.8" r="1.6" fill="#fff"/>
<rect x="334" y="494.5" width="5" height="2" fill="#e8d040"/>
<rect x="338.5" y="486" width="1.5" height="8" fill="#f0f0f0"/>
<polyline points="473,423.3 476,430.3 476,511.5 473,518.5" fill="none" stroke="#9a9a9a" stroke-width="9.3" stroke-linejoin="round"/>
<ellipse cx="473.5" cy="423.8" rx="6.8" ry="6.2" fill="#6c9c6c" stroke="#5ad85a" stroke-width="0.9"/>
<ellipse cx="473.5" cy="519.0" rx="6.8" ry="6.2" fill="#6c9c6c" stroke="#5ad85a" stroke-width="0.9"/>
<clipPath id="rc2"><path d="M468,441 H484 Q487,441 487,444 V452 Q487,456 485.3,457 V485.5 Q487,486.5 487,490.5 V498.5 Q487,501.5 484,501.5 H468 Q465,501.5 465,498.5 V490.5 Q465,486.5 466.7,485.5 V457 Q465,456 465,452 V444 Q465,441 468,441 Z"/></clipPath>
<path d="M468,441 H484 Q487,441 487,444 V452 Q487,456 485.3,457 V485.5 Q487,486.5 487,490.5 V498.5 Q487,501.5 484,501.5 H468 Q465,501.5 465,498.5 V490.5 Q465,486.5 466.7,485.5 V457 Q465,456 465,452 V444 Q465,441 468,441 Z" fill="#80cfc3"/>
<g clip-path="url(#rc2)"><rect x="465" y="441" width="5.5" height="60.5" fill="#4f9a8e"/>
<rect x="465" y="450" width="22" height="5.5" fill="#8a4a20"/>
<rect x="465" y="460" width="22" height="6.5" fill="#0a0a0a"/>
<rect x="465" y="470" width="22" height="6" fill="#0a0a0a"/>
<rect x="465" y="479.3" width="22" height="5.199999999999989" fill="#c81818"/>
<rect x="465" y="494.6" width="12" height="1.599999999999966" fill="#111"/>
</g>
<circle cx="483.5" cy="444.5" r="1.6" fill="#fff"/>
<rect x="478" y="494.5" width="5" height="2" fill="#e8d040"/>
<rect x="482.5" y="486" width="1.5" height="8" fill="#f0f0f0"/>
<polyline points="159,544 166,547 248,547 255,544" fill="none" stroke="#9a9a9a" stroke-width="9" stroke-linejoin="round"/>
<ellipse cx="159" cy="544" rx="6" ry="7.3" fill="#6c9c6c" stroke="#5ad85a" stroke-width="0.9"/>
<ellipse cx="255" cy="544" rx="6" ry="7.3" fill="#6c9c6c" stroke="#5ad85a" stroke-width="0.9"/>
<clipPath id="rc3"><path d="M177,539 V555 Q177,558 180,558 H188 Q192,558 193,556.3 H222 Q223,558 227,558 H235 Q238,558 238,555 V539 Q238,536 235,536 H227 Q223,536 222,537.7 H193 Q192,536 188,536 H180 Q177,536 177,539 Z"/></clipPath>
<path d="M177,539 V555 Q177,558 180,558 H188 Q192,558 193,556.3 H222 Q223,558 227,558 H235 Q238,558 238,555 V539 Q238,536 235,536 H227 Q223,536 222,537.7 H193 Q192,536 188,536 H180 Q177,536 177,539 Z" fill="#80cfc3"/>
<g clip-path="url(#rc3)"><rect x="177" y="536" width="61" height="5.5" fill="#4f9a8e"/>
<rect x="182.3" y="536" width="1.5" height="11" fill="#111"/>
<rect x="193" y="536" width="6" height="22" fill="#0a0a0a"/>
<rect x="203" y="536" width="6" height="22" fill="#0a0a0a"/>
<rect x="213" y="536" width="6" height="22" fill="#c81818"/>
<rect x="222" y="536" width="7" height="22" fill="#c81818"/>
</g>
<circle cx="234.5" cy="554.5" r="1.6" fill="#fff"/>
<rect x="182.5" y="550" width="2" height="5" fill="#e8d040"/>
<rect x="184.5" y="553" width="7" height="1.5" fill="#f0f0f0"/>
<polyline points="521,591 523,598 523,610" fill="none" stroke="#9a9a9a" stroke-width="9" stroke-linejoin="round"/>
<ellipse cx="521.5" cy="591.5" rx="6.8" ry="6.2" fill="#6c9c6c" stroke="#5ad85a" stroke-width="0.9"/>
<text x="0" y="0" transform="translate(312.7,509.5) rotate(-90)" font-size="21.3" fill="#111" stroke="#111" stroke-width="0.4" textLength="54" lengthAdjust="spacingAndGlyphs">220Ω</text>
<text x="0" y="0" transform="translate(458.9,499) rotate(-90)" font-size="21.3" fill="#111" stroke="#111" stroke-width="0.4" textLength="52.5" lengthAdjust="spacingAndGlyphs">10kΩ</text>
<text x="179.2" y="509" font-size="21.3" fill="#111" stroke="#111" stroke-width="0.4" textLength="55.5" lengthAdjust="spacingAndGlyphs">220Ω</text>
<polyline points="423.45,313.3 399.0,350.7 399.0,610" fill="none" stroke="#f6f6f6" stroke-opacity="0.55" stroke-width="12.5" stroke-linecap="round" stroke-linejoin="round"/>
<polyline points="423.45,313.3 399.0,350.7 399.0,610" fill="none" stroke="#e000e0" stroke-width="10.5" stroke-linecap="round" stroke-linejoin="round"/>
<polyline points="423.45,313.3 399.0,350.7 399.0,610" fill="none" stroke="#ff60ff" stroke-width="5.7" stroke-linecap="round" stroke-linejoin="round"/>
<circle cx="399.0" cy="350.7" r="5.25" fill="#e000e0"/>
<circle cx="423.45" cy="313.3" r="5.3" fill="#c070c0" stroke="#58b058" stroke-width="0.8" stroke-opacity="0.6"/>
<polyline points="-9.65,566.2 471.35,566.2" fill="none" stroke="#f6f6f6" stroke-opacity="0.55" stroke-width="12.8" stroke-linecap="round" stroke-linejoin="round"/>
<polyline points="-9.65,566.2 471.35,566.2" fill="none" stroke="#15a015" stroke-width="10.8" stroke-linecap="round" stroke-linejoin="round"/>
<polyline points="-9.65,566.2 471.35,566.2" fill="none" stroke="#22cc22" stroke-width="6.000000000000001" stroke-linecap="round" stroke-linejoin="round"/>
<circle cx="471.35" cy="566.2" r="5.6" fill="#15a015" stroke="#44d444" stroke-width="1.1"/>
<circle cx="471.35" cy="566.2" r="3.9" fill="#30c030"/>
</svg></body></html>
